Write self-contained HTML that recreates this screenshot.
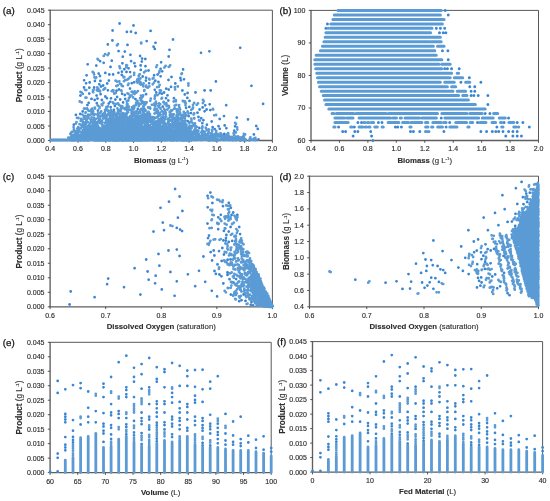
<!DOCTYPE html>
<html><head><meta charset="utf-8"><title>Scatter plots</title>
<style>
html,body{margin:0;padding:0;background:#fff}
svg{display:block}
text{font-family:"Liberation Sans",sans-serif;fill:#2b2b2b}
.t{font-size:7px;stroke:#333;stroke-width:0.15px}
.l{font-size:7.8px;stroke:#333;stroke-width:0.12px}
.ly{font-size:8.2px}
.g{font-size:9.8px;fill:#111;stroke:#111;stroke-width:0.25px}
</style></head><body>
<svg width="550" height="501" viewBox="0 0 550 501">
<rect width="550" height="501" fill="#fff"/>
<path d="M49.50 10.20H272.40V140.50" fill="none" stroke="#454545" stroke-width="0.9"/>
<path d="M50.20 9.80V140.50H272.70" fill="none" stroke="#5e5e5e" stroke-width="1.35" stroke-linejoin="miter"/>
<path d="M50.20 140.50v2.3M77.98 140.50v2.3M105.75 140.50v2.3M133.52 140.50v2.3M161.30 140.50v2.3M189.07 140.50v2.3M216.85 140.50v2.3M244.63 140.50v2.3M272.40 140.50v2.3M50.20 140.50h-2.3M50.20 126.02h-2.3M50.20 111.54h-2.3M50.20 97.07h-2.3M50.20 82.59h-2.3M50.20 68.11h-2.3M50.20 53.63h-2.3M50.20 39.16h-2.3M50.20 24.68h-2.3M50.20 10.20h-2.3" stroke="#454545" stroke-width="0.9" fill="none"/>
<text x="50.20" y="151.40" text-anchor="middle" class="t">0.4</text>
<text x="77.98" y="151.40" text-anchor="middle" class="t">0.6</text>
<text x="105.75" y="151.40" text-anchor="middle" class="t">0.8</text>
<text x="133.52" y="151.40" text-anchor="middle" class="t">1.0</text>
<text x="161.30" y="151.40" text-anchor="middle" class="t">1.2</text>
<text x="189.07" y="151.40" text-anchor="middle" class="t">1.4</text>
<text x="216.85" y="151.40" text-anchor="middle" class="t">1.6</text>
<text x="244.63" y="151.40" text-anchor="middle" class="t">1.8</text>
<text x="272.40" y="151.40" text-anchor="middle" class="t">2.0</text>
<text x="44.60" y="143.00" text-anchor="end" class="t">0.000</text>
<text x="44.60" y="128.52" text-anchor="end" class="t">0.005</text>
<text x="44.60" y="114.04" text-anchor="end" class="t">0.010</text>
<text x="44.60" y="99.57" text-anchor="end" class="t">0.015</text>
<text x="44.60" y="85.09" text-anchor="end" class="t">0.020</text>
<text x="44.60" y="70.61" text-anchor="end" class="t">0.025</text>
<text x="44.60" y="56.13" text-anchor="end" class="t">0.030</text>
<text x="44.60" y="41.66" text-anchor="end" class="t">0.035</text>
<text x="44.60" y="27.18" text-anchor="end" class="t">0.040</text>
<text x="44.60" y="12.70" text-anchor="end" class="t">0.045</text>
<text x="161.30" y="162.80" text-anchor="middle" class="l"><tspan font-weight="bold">Biomass</tspan> (g L<tspan dy="-2.4" font-size="4.4">-1</tspan><tspan dy="2.4">)</tspan></text>
<text transform="translate(21.70 75.35) rotate(-90)" text-anchor="middle" class="l ly"><tspan font-weight="bold">Product</tspan> (g L<tspan dy="-2.4" font-size="4.4">-1</tspan><tspan dy="2.4">)</tspan></text>
<text x="2.80" y="13.60" class="g">(a)</text>
<path d="M310.30 10.40H538.50V140.50" fill="none" stroke="#454545" stroke-width="0.9"/>
<path d="M311.00 10.00V140.50H538.80" fill="none" stroke="#5e5e5e" stroke-width="1.35" stroke-linejoin="miter"/>
<path d="M311.00 140.50v2.3M339.44 140.50v2.3M367.88 140.50v2.3M396.31 140.50v2.3M424.75 140.50v2.3M453.19 140.50v2.3M481.62 140.50v2.3M510.06 140.50v2.3M538.50 140.50v2.3M311.00 140.50h-2.3M311.00 107.97h-2.3M311.00 75.45h-2.3M311.00 42.93h-2.3M311.00 10.40h-2.3" stroke="#454545" stroke-width="0.9" fill="none"/>
<text x="311.00" y="151.40" text-anchor="middle" class="t">0.4</text>
<text x="339.44" y="151.40" text-anchor="middle" class="t">0.6</text>
<text x="367.88" y="151.40" text-anchor="middle" class="t">0.8</text>
<text x="396.31" y="151.40" text-anchor="middle" class="t">1.0</text>
<text x="424.75" y="151.40" text-anchor="middle" class="t">1.2</text>
<text x="453.19" y="151.40" text-anchor="middle" class="t">1.4</text>
<text x="481.62" y="151.40" text-anchor="middle" class="t">1.6</text>
<text x="510.06" y="151.40" text-anchor="middle" class="t">1.8</text>
<text x="538.50" y="151.40" text-anchor="middle" class="t">2.0</text>
<text x="305.40" y="143.00" text-anchor="end" class="t">60</text>
<text x="305.40" y="110.47" text-anchor="end" class="t">70</text>
<text x="305.40" y="77.95" text-anchor="end" class="t">80</text>
<text x="305.40" y="45.43" text-anchor="end" class="t">90</text>
<text x="305.40" y="12.90" text-anchor="end" class="t">100</text>
<text x="424.75" y="162.80" text-anchor="middle" class="l"><tspan font-weight="bold">Biomass</tspan> (g L<tspan dy="-2.4" font-size="4.4">-1</tspan><tspan dy="2.4">)</tspan></text>
<text transform="translate(288.30 75.45) rotate(-90)" text-anchor="middle" class="l ly"><tspan font-weight="bold">Volume</tspan> (L)</text>
<text x="279.60" y="13.80" class="g">(b)</text>
<path d="M49.40 176.20H272.40V306.80" fill="none" stroke="#454545" stroke-width="0.9"/>
<path d="M50.10 175.80V306.80H272.70" fill="none" stroke="#5e5e5e" stroke-width="1.35" stroke-linejoin="miter"/>
<path d="M50.10 306.80v2.3M105.67 306.80v2.3M161.25 306.80v2.3M216.83 306.80v2.3M272.40 306.80v2.3M50.10 306.80h-2.3M50.10 292.29h-2.3M50.10 277.78h-2.3M50.10 263.27h-2.3M50.10 248.76h-2.3M50.10 234.24h-2.3M50.10 219.73h-2.3M50.10 205.22h-2.3M50.10 190.71h-2.3M50.10 176.20h-2.3" stroke="#454545" stroke-width="0.9" fill="none"/>
<text x="50.10" y="317.70" text-anchor="middle" class="t">0.6</text>
<text x="105.67" y="317.70" text-anchor="middle" class="t">0.7</text>
<text x="161.25" y="317.70" text-anchor="middle" class="t">0.8</text>
<text x="216.83" y="317.70" text-anchor="middle" class="t">0.9</text>
<text x="272.40" y="317.70" text-anchor="middle" class="t">1.0</text>
<text x="44.50" y="309.30" text-anchor="end" class="t">0.000</text>
<text x="44.50" y="294.79" text-anchor="end" class="t">0.005</text>
<text x="44.50" y="280.28" text-anchor="end" class="t">0.010</text>
<text x="44.50" y="265.77" text-anchor="end" class="t">0.015</text>
<text x="44.50" y="251.26" text-anchor="end" class="t">0.020</text>
<text x="44.50" y="236.74" text-anchor="end" class="t">0.025</text>
<text x="44.50" y="222.23" text-anchor="end" class="t">0.030</text>
<text x="44.50" y="207.72" text-anchor="end" class="t">0.035</text>
<text x="44.50" y="193.21" text-anchor="end" class="t">0.040</text>
<text x="44.50" y="178.70" text-anchor="end" class="t">0.045</text>
<text x="161.25" y="329.10" text-anchor="middle" class="l"><tspan font-weight="bold">Dissolved Oxygen</tspan> (saturation)</text>
<text transform="translate(21.70 241.50) rotate(-90)" text-anchor="middle" class="l ly"><tspan font-weight="bold">Product</tspan> (g L<tspan dy="-2.4" font-size="4.4">-1</tspan><tspan dy="2.4">)</tspan></text>
<text x="2.80" y="179.60" class="g">(c)</text>
<path d="M308.80 176.20H538.50V306.80" fill="none" stroke="#454545" stroke-width="0.9"/>
<path d="M309.50 175.80V306.80H538.80" fill="none" stroke="#5e5e5e" stroke-width="1.35" stroke-linejoin="miter"/>
<path d="M309.50 306.80v2.3M366.75 306.80v2.3M424.00 306.80v2.3M481.25 306.80v2.3M538.50 306.80v2.3M309.50 306.80h-2.3M309.50 290.48h-2.3M309.50 274.15h-2.3M309.50 257.82h-2.3M309.50 241.50h-2.3M309.50 225.18h-2.3M309.50 208.85h-2.3M309.50 192.52h-2.3M309.50 176.20h-2.3" stroke="#454545" stroke-width="0.9" fill="none"/>
<text x="309.50" y="317.70" text-anchor="middle" class="t">0.6</text>
<text x="366.75" y="317.70" text-anchor="middle" class="t">0.7</text>
<text x="424.00" y="317.70" text-anchor="middle" class="t">0.8</text>
<text x="481.25" y="317.70" text-anchor="middle" class="t">0.9</text>
<text x="538.50" y="317.70" text-anchor="middle" class="t">1.0</text>
<text x="303.90" y="309.30" text-anchor="end" class="t">0.4</text>
<text x="303.90" y="292.98" text-anchor="end" class="t">0.6</text>
<text x="303.90" y="276.65" text-anchor="end" class="t">0.8</text>
<text x="303.90" y="260.32" text-anchor="end" class="t">1.0</text>
<text x="303.90" y="244.00" text-anchor="end" class="t">1.2</text>
<text x="303.90" y="227.68" text-anchor="end" class="t">1.4</text>
<text x="303.90" y="211.35" text-anchor="end" class="t">1.6</text>
<text x="303.90" y="195.02" text-anchor="end" class="t">1.8</text>
<text x="303.90" y="178.70" text-anchor="end" class="t">2.0</text>
<text x="424.00" y="329.10" text-anchor="middle" class="l"><tspan font-weight="bold">Dissolved Oxygen</tspan> (saturation)</text>
<text transform="translate(288.90 241.50) rotate(-90)" text-anchor="middle" class="l ly"><tspan font-weight="bold">Biomass</tspan> (g L<tspan dy="-2.4" font-size="4.4">-1</tspan><tspan dy="2.4">)</tspan></text>
<text x="279.60" y="179.60" class="g">(d)</text>
<path d="M49.40 342.30H271.20V472.60" fill="none" stroke="#454545" stroke-width="0.9"/>
<path d="M50.10 341.90V472.60H271.50" fill="none" stroke="#5e5e5e" stroke-width="1.35" stroke-linejoin="miter"/>
<path d="M50.10 472.60v2.3M77.74 472.60v2.3M105.38 472.60v2.3M133.01 472.60v2.3M160.65 472.60v2.3M188.29 472.60v2.3M215.92 472.60v2.3M243.56 472.60v2.3M271.20 472.60v2.3M50.10 472.60h-2.3M50.10 458.12h-2.3M50.10 443.64h-2.3M50.10 429.17h-2.3M50.10 414.69h-2.3M50.10 400.21h-2.3M50.10 385.73h-2.3M50.10 371.26h-2.3M50.10 356.78h-2.3M50.10 342.30h-2.3" stroke="#454545" stroke-width="0.9" fill="none"/>
<text x="50.10" y="483.50" text-anchor="middle" class="t">60</text>
<text x="77.74" y="483.50" text-anchor="middle" class="t">65</text>
<text x="105.38" y="483.50" text-anchor="middle" class="t">70</text>
<text x="133.01" y="483.50" text-anchor="middle" class="t">75</text>
<text x="160.65" y="483.50" text-anchor="middle" class="t">80</text>
<text x="188.29" y="483.50" text-anchor="middle" class="t">85</text>
<text x="215.92" y="483.50" text-anchor="middle" class="t">90</text>
<text x="243.56" y="483.50" text-anchor="middle" class="t">95</text>
<text x="271.20" y="483.50" text-anchor="middle" class="t">100</text>
<text x="44.50" y="475.10" text-anchor="end" class="t">0.000</text>
<text x="44.50" y="460.62" text-anchor="end" class="t">0.005</text>
<text x="44.50" y="446.14" text-anchor="end" class="t">0.010</text>
<text x="44.50" y="431.67" text-anchor="end" class="t">0.015</text>
<text x="44.50" y="417.19" text-anchor="end" class="t">0.020</text>
<text x="44.50" y="402.71" text-anchor="end" class="t">0.025</text>
<text x="44.50" y="388.23" text-anchor="end" class="t">0.030</text>
<text x="44.50" y="373.76" text-anchor="end" class="t">0.035</text>
<text x="44.50" y="359.28" text-anchor="end" class="t">0.040</text>
<text x="44.50" y="344.80" text-anchor="end" class="t">0.045</text>
<text x="160.65" y="494.90" text-anchor="middle" class="l"><tspan font-weight="bold">Volume</tspan> (L)</text>
<text transform="translate(21.70 407.45) rotate(-90)" text-anchor="middle" class="l ly"><tspan font-weight="bold">Product</tspan> (g L<tspan dy="-2.4" font-size="4.4">-1</tspan><tspan dy="2.4">)</tspan></text>
<text x="2.80" y="345.70" class="g">(e)</text>
<path d="M311.80 341.60H542.60V472.10" fill="none" stroke="#454545" stroke-width="0.9"/>
<path d="M312.50 341.20V472.10H542.90" fill="none" stroke="#5e5e5e" stroke-width="1.35" stroke-linejoin="miter"/>
<path d="M312.50 472.10v2.3M370.02 472.10v2.3M427.55 472.10v2.3M485.08 472.10v2.3M542.60 472.10v2.3M312.50 472.10h-2.3M312.50 457.60h-2.3M312.50 443.10h-2.3M312.50 428.60h-2.3M312.50 414.10h-2.3M312.50 399.60h-2.3M312.50 385.10h-2.3M312.50 370.60h-2.3M312.50 356.10h-2.3M312.50 341.60h-2.3" stroke="#454545" stroke-width="0.9" fill="none"/>
<text x="312.50" y="483.00" text-anchor="middle" class="t">0</text>
<text x="370.02" y="483.00" text-anchor="middle" class="t">10</text>
<text x="427.55" y="483.00" text-anchor="middle" class="t">20</text>
<text x="485.08" y="483.00" text-anchor="middle" class="t">30</text>
<text x="542.60" y="483.00" text-anchor="middle" class="t">40</text>
<text x="306.90" y="474.60" text-anchor="end" class="t">0.000</text>
<text x="306.90" y="460.10" text-anchor="end" class="t">0.005</text>
<text x="306.90" y="445.60" text-anchor="end" class="t">0.010</text>
<text x="306.90" y="431.10" text-anchor="end" class="t">0.015</text>
<text x="306.90" y="416.60" text-anchor="end" class="t">0.020</text>
<text x="306.90" y="402.10" text-anchor="end" class="t">0.025</text>
<text x="306.90" y="387.60" text-anchor="end" class="t">0.030</text>
<text x="306.90" y="373.10" text-anchor="end" class="t">0.035</text>
<text x="306.90" y="358.60" text-anchor="end" class="t">0.040</text>
<text x="306.90" y="344.10" text-anchor="end" class="t">0.045</text>
<text x="427.55" y="494.40" text-anchor="middle" class="l"><tspan font-weight="bold">Fed Material</tspan> (L)</text>
<text transform="translate(284.70 406.85) rotate(-90)" text-anchor="middle" class="l ly"><tspan font-weight="bold">Product</tspan> (g L<tspan dy="-2.4" font-size="4.4">-1</tspan><tspan dy="2.4">)</tspan></text>
<text x="277.00" y="345.00" class="g">(f)</text>
<path d="M338.0 10.4H441.2M334.3 14.9H440.4M332.9 19.4H444.1M330.8 23.9H442.4M330.6 28.3H432.0M325.9 32.8H430.6M325.1 37.3H440.4M323.9 41.8H429.2M430.6 41.8H441.2M322.4 46.3H433.4M437.5 46.3H444.1M320.4 50.8H434.8M316.1 55.3H436.3M314.8 59.7H441.8M314.8 64.2H439.0M441.8 64.2H450.2M315.6 68.7H441.8M316.7 73.2H451.6M317.5 77.7H450.2M454.3 77.7H462.7M318.4 82.2H440.4M444.7 82.2H454.3M465.6 82.2H469.8M319.5 86.7H447.4M451.6 86.7H455.7M321.2 91.2H445.9M447.4 91.2H453.0M457.2 91.2H465.6M323.2 95.6H458.6M462.7 95.6H467.0M324.5 100.1H468.4M325.9 104.6H475.4M328.8 109.1H485.2M332.0 113.6H333.8M336.3 113.6H353.7M355.9 113.6H386.4M388.5 113.6H437.5M441.8 113.6H467.0M469.8 113.6H482.3M493.6 113.6H497.7" stroke="#5b9bd5" stroke-width="3.0" stroke-linecap="round" fill="none"/>
<path d="M65.3 472.6V460.1M73.0 472.6V457.3M80.6 472.6V437.7M88.2 472.6V436.3M95.8 472.6V433.5M103.5 472.6V447.5M111.1 472.6V446.1M118.7 472.6V439.1M126.3 472.6V436.3M134.0 472.6V441.9M141.6 472.6V446.1M149.2 472.6V446.1M156.8 472.6V443.3M164.5 472.6V440.5M172.1 472.6V441.9M179.7 472.6V440.5M187.3 472.6V436.3M195.0 472.6V444.7M202.6 472.6V447.5M210.2 472.6V447.5M217.8 472.6V447.5M225.5 472.6V448.9M233.1 472.6V450.3M240.7 472.6V450.3M248.3 472.6V450.3M256.0 472.6V451.7M263.6 472.6V453.1M271.2 472.6V455.9" stroke="#5b9bd5" stroke-width="2.8" stroke-linecap="round" fill="none"/>
<path d="M328.4 472.1V459.5M336.3 472.1V456.7M344.2 472.1V437.1M352.2 472.1V435.7M360.1 472.1V432.9M368.0 472.1V446.9M376.0 472.1V445.5M383.9 472.1V438.5M391.8 472.1V435.7M399.8 472.1V441.3M407.7 472.1V445.5M415.6 472.1V445.5M423.6 472.1V442.7M431.5 472.1V439.9M439.5 472.1V441.3M447.4 472.1V439.9M455.3 472.1V435.7M463.3 472.1V444.1M471.2 472.1V446.9M479.1 472.1V446.9M487.1 472.1V446.9M495.0 472.1V448.3M502.9 472.1V449.7M510.9 472.1V449.7M518.8 472.1V449.7M526.7 472.1V451.1M534.7 472.1V452.5M542.6 472.1V455.3" stroke="#5b9bd5" stroke-width="2.8" stroke-linecap="round" fill="none"/>
<path d="M50.9 140.2h0M51.3 140.2h0M51.8 140.2h0M52.2 140.2h0M52.7 140.2h0M53.1 140.2h0M53.6 140.2h0M54.0 140.2h0M54.5 140.2h0M54.9 140.2h0M55.3 140.2h0M55.8 140.2h0M56.2 140.2h0M56.7 140.2h0M57.1 140.2h0M57.6 140.2h0M58.0 140.2h0M58.5 140.2h0M58.9 140.2h0M59.4 140.2h0M59.8 140.2h0M60.2 140.2h0M60.7 140.2h0M61.1 140.2h0M61.6 140.2h0M62.0 140.2h0M62.5 140.2h0M62.9 140.2h0M63.4 140.2h0M63.8 140.2h0M64.2 140.2h0M64.7 140.2h0M65.1 140.2h0M65.6 140.2h0M66.0 140.2h0M66.5 140.2h0M66.9 140.2h0M67.4 140.2h0M67.8 140.2h0M68.3 140.2h0M83.6 122.3h0M178.5 136.4h0M173.6 132.9h0M142.0 132.4h0M96.0 136.8h0M110.3 123.6h0M149.9 140.2h0M127.3 118.2h0M126.6 137.9h0M185.9 137.4h0M125.9 134.2h0M153.9 123.1h0M124.4 126.6h0M115.7 128.6h0M146.1 138.8h0M159.1 125.6h0M92.9 139.8h0M91.4 128.0h0M105.4 135.0h0M97.9 135.2h0M74.7 139.8h0M143.6 138.9h0M105.1 134.5h0M166.7 133.1h0M112.5 136.1h0M86.3 138.7h0M115.9 135.7h0M130.7 128.1h0M161.8 111.2h0M147.8 124.6h0M102.5 133.6h0M143.3 140.2h0M155.3 133.1h0M153.0 133.2h0M88.2 132.2h0M167.0 139.4h0M121.9 124.2h0M100.0 133.6h0M141.9 123.9h0M138.3 136.3h0M188.6 134.6h0M83.0 132.3h0M105.5 117.7h0M99.1 134.2h0M133.9 120.7h0M148.4 139.9h0M102.7 129.4h0M179.4 130.3h0M139.6 139.9h0M152.0 119.4h0M188.9 127.3h0M163.9 139.4h0M81.3 138.1h0M144.0 134.3h0M151.1 138.5h0M141.9 134.7h0M120.3 117.6h0M117.7 127.7h0M160.6 76.3h0M128.7 139.3h0M141.7 132.9h0M97.7 138.2h0M187.5 136.7h0M125.6 138.2h0M147.1 139.1h0M110.5 139.0h0M174.2 138.8h0M137.8 136.2h0M122.9 135.5h0M152.2 132.1h0M174.8 132.6h0M112.1 127.4h0M161.2 134.2h0M146.2 124.9h0M155.9 101.6h0M157.0 140.3h0M83.8 140.4h0M122.3 135.6h0M176.4 134.3h0M71.6 132.1h0M150.2 131.0h0M125.9 108.4h0M138.2 138.2h0M184.0 139.2h0M165.6 128.8h0M189.3 106.9h0M154.8 124.0h0M186.4 135.4h0M151.5 123.6h0M102.4 140.4h0M140.1 140.1h0M128.8 135.7h0M103.2 140.2h0M102.8 137.9h0M163.6 135.9h0M140.5 139.7h0M76.9 139.0h0M121.4 139.2h0M83.0 124.9h0M115.8 119.7h0M172.9 140.0h0M122.5 136.3h0M77.4 135.2h0M158.7 120.4h0M168.9 133.4h0M131.6 137.8h0M115.4 127.5h0M148.3 134.2h0M177.2 134.2h0M176.3 137.5h0M106.0 139.0h0M150.9 134.5h0M88.6 137.0h0M119.6 137.3h0M190.1 135.9h0M136.3 135.0h0M168.9 139.6h0M191.4 135.3h0M162.5 126.6h0M77.6 134.4h0M133.4 138.7h0M139.6 122.9h0M108.0 135.6h0M150.3 133.3h0M148.9 135.9h0M177.1 138.6h0M158.7 133.5h0M166.1 135.1h0M125.3 140.2h0M90.4 122.7h0M102.9 139.3h0M111.7 129.2h0M120.8 136.7h0M109.6 133.2h0M156.5 128.8h0M138.4 138.7h0M117.1 81.7h0M126.7 113.0h0M137.5 139.1h0M123.3 134.9h0M109.2 137.8h0M150.2 138.8h0M103.2 136.2h0M92.5 138.5h0M88.4 117.9h0M81.0 139.7h0M99.8 139.2h0M143.3 131.4h0M145.9 110.6h0M149.6 138.4h0M184.4 138.4h0M103.5 138.3h0M135.6 121.8h0M123.4 134.9h0M142.5 134.6h0M159.6 125.1h0M112.5 136.1h0M151.7 132.8h0M158.9 103.3h0M83.0 139.0h0M140.8 138.0h0M132.7 128.6h0M113.2 116.2h0M123.4 132.4h0M111.5 132.9h0M165.6 127.1h0M135.8 140.4h0M80.5 136.6h0M81.4 139.7h0M147.1 134.9h0M102.8 139.8h0M133.2 139.7h0M109.0 140.1h0M163.8 138.3h0M108.6 138.8h0M90.7 136.8h0M98.8 135.1h0M176.7 137.9h0M186.1 139.7h0M87.2 140.4h0M169.9 136.8h0M74.3 139.0h0M173.7 101.5h0M149.0 129.9h0M77.0 131.7h0M140.2 112.9h0M165.4 133.8h0M146.2 130.3h0M138.8 140.1h0M127.7 126.2h0M135.2 131.1h0M141.5 139.4h0M124.8 95.0h0M152.2 126.8h0M95.4 131.5h0M157.9 134.2h0M111.1 139.2h0M90.0 135.8h0M142.5 136.8h0M190.5 134.1h0M164.1 136.3h0M167.0 130.5h0M185.6 127.0h0M113.0 140.2h0M124.9 136.3h0M132.6 132.5h0M136.3 134.7h0M112.1 136.4h0M104.2 129.7h0M91.6 131.6h0M98.6 139.5h0M159.2 139.4h0M182.9 137.8h0M143.9 138.1h0M168.8 130.9h0M172.1 119.4h0M164.8 139.7h0M134.8 135.2h0M120.6 131.9h0M113.9 109.8h0M140.3 138.5h0M150.0 114.5h0M141.8 126.1h0M76.0 139.8h0M121.4 138.5h0M121.7 126.5h0M85.4 136.8h0M165.0 134.9h0M183.5 133.9h0M154.6 135.0h0M190.1 137.2h0M155.1 138.5h0M90.1 127.3h0M115.3 124.8h0M156.1 134.6h0M158.4 138.4h0M126.7 136.9h0M151.3 122.6h0M174.9 138.4h0M142.7 115.9h0M109.0 137.1h0M185.1 137.5h0M84.2 140.0h0M147.5 118.8h0M128.8 138.6h0M86.3 139.8h0M117.8 138.4h0M78.4 134.4h0M87.2 134.6h0M155.6 123.9h0M113.8 140.1h0M104.5 131.0h0M138.9 121.5h0M152.3 139.7h0M135.3 128.4h0M131.0 138.5h0M146.3 117.0h0M121.7 139.4h0M171.9 125.6h0M134.7 137.3h0M116.0 140.4h0M162.7 139.6h0M91.2 138.6h0M103.8 140.3h0M184.6 133.2h0M141.5 135.5h0M137.2 125.7h0M155.4 132.3h0M112.0 138.8h0M119.4 125.0h0M105.3 136.1h0M139.3 122.3h0M177.4 127.4h0M85.1 138.8h0M72.3 140.0h0M159.2 133.2h0M116.0 127.4h0M134.9 125.1h0M173.1 124.5h0M143.7 105.4h0M161.2 122.0h0M182.1 137.8h0M179.5 137.6h0M136.3 131.8h0M87.8 135.7h0M146.0 133.8h0M128.0 140.1h0M95.6 126.1h0M103.9 133.5h0M135.7 139.1h0M102.7 139.9h0M118.2 131.3h0M96.7 134.9h0M128.1 112.3h0M127.7 140.3h0M159.8 139.0h0M134.0 130.2h0M147.8 137.7h0M178.4 134.5h0M144.3 129.5h0M175.3 139.3h0M124.2 139.9h0M97.8 137.8h0M151.8 130.6h0M123.1 128.9h0M119.4 139.1h0M163.0 135.7h0M140.2 133.4h0M136.1 136.7h0M106.6 140.2h0M141.6 124.4h0M176.1 133.3h0M149.0 139.2h0M116.7 120.4h0M175.4 128.7h0M136.3 139.8h0M153.4 136.9h0M100.8 131.6h0M108.9 132.2h0M106.4 140.0h0M166.1 135.7h0M149.8 125.5h0M121.6 140.3h0M145.2 139.4h0M113.9 122.7h0M120.9 135.4h0M148.6 136.9h0M86.3 137.3h0M180.8 137.3h0M150.1 136.7h0M133.3 127.5h0M184.3 132.3h0M164.1 113.6h0M128.9 98.1h0M118.5 131.9h0M115.0 121.2h0M145.5 135.4h0M113.3 137.8h0M100.6 140.4h0M189.0 127.5h0M125.1 140.3h0M140.8 127.0h0M154.5 122.2h0M156.8 130.9h0M147.5 135.4h0M148.2 132.1h0M108.1 131.1h0M99.3 128.8h0M108.4 127.0h0M165.2 119.3h0M146.5 115.7h0M109.0 129.4h0M102.3 104.4h0M76.9 139.8h0M138.6 137.3h0M151.5 139.6h0M89.0 139.5h0M177.4 133.0h0M115.3 122.5h0M187.2 138.1h0M189.2 123.0h0M149.9 135.9h0M109.9 138.3h0M144.9 124.9h0M111.6 134.3h0M83.8 129.3h0M185.9 128.6h0M172.2 139.1h0M145.0 140.0h0M79.3 136.5h0M102.3 139.1h0M149.0 135.6h0M121.8 138.6h0M100.0 134.9h0M175.5 137.0h0M90.6 130.6h0M152.8 124.5h0M175.8 139.8h0M110.2 140.0h0M181.9 137.5h0M165.0 139.7h0M175.2 138.5h0M151.3 132.0h0M125.4 138.1h0M114.2 113.1h0M119.3 139.1h0M163.6 135.4h0M133.4 139.1h0M75.8 140.2h0M129.6 135.2h0M115.6 132.3h0M139.7 127.4h0M85.9 134.7h0M83.7 136.2h0M139.9 119.8h0M183.4 136.7h0M136.3 133.5h0M102.3 122.4h0M121.0 128.5h0M111.5 133.9h0M122.9 124.2h0M176.3 137.6h0M165.7 134.5h0M102.2 136.7h0M165.8 135.5h0M186.6 138.5h0M116.8 123.8h0M163.2 136.8h0M113.6 114.9h0M134.7 131.2h0M167.2 131.0h0M178.1 130.0h0M112.8 139.8h0M102.6 139.6h0M145.6 139.6h0M116.2 137.2h0M118.2 140.0h0M168.4 132.9h0M190.4 137.5h0M139.0 139.5h0M122.4 136.7h0M150.0 137.5h0M128.7 135.8h0M91.1 135.0h0M168.0 140.0h0M183.9 129.1h0M120.7 129.6h0M122.3 116.3h0M155.1 139.2h0M133.2 139.8h0M123.4 136.2h0M154.0 136.2h0M119.3 125.7h0M163.1 118.1h0M75.9 139.8h0M137.6 134.0h0M180.1 109.4h0M157.8 133.6h0M81.2 136.8h0M167.4 136.3h0M84.5 136.8h0M165.2 131.5h0M166.1 127.6h0M102.5 126.8h0M184.7 139.1h0M140.9 139.6h0M152.8 137.9h0M167.3 139.1h0M130.6 139.7h0M142.2 138.6h0M107.9 137.4h0M134.8 137.3h0M172.4 138.6h0M137.1 132.9h0M115.1 125.2h0M84.2 140.5h0M171.2 131.1h0M120.7 132.0h0M138.1 138.1h0M92.2 130.8h0M92.7 110.3h0M164.0 122.9h0M142.1 134.1h0M140.0 133.9h0M177.6 125.6h0M187.2 140.0h0M144.1 110.5h0M187.9 132.6h0M119.0 129.0h0M125.3 140.0h0M103.3 134.0h0M128.1 135.9h0M158.0 124.4h0M84.1 136.3h0M160.9 137.1h0M101.1 140.1h0M147.2 132.4h0M79.6 140.2h0M101.6 135.3h0M100.3 112.7h0M189.1 140.3h0M159.4 122.4h0M163.5 137.3h0M112.7 115.7h0M95.6 136.5h0M169.9 138.7h0M136.0 135.0h0M112.0 140.0h0M74.0 137.8h0M95.0 137.4h0M96.6 139.0h0M97.5 140.2h0M147.3 122.7h0M141.7 132.7h0M150.2 135.9h0M168.3 139.6h0M84.4 139.1h0M154.4 137.4h0M134.7 124.1h0M80.7 136.7h0M80.2 136.0h0M166.0 140.1h0M169.2 138.8h0M105.9 138.6h0M119.4 135.3h0M121.7 129.7h0M168.3 136.4h0M115.9 130.3h0M177.2 109.4h0M116.1 128.7h0M107.3 130.5h0M129.0 134.8h0M151.0 127.1h0M146.8 139.9h0M135.0 134.5h0M98.3 132.2h0M135.3 136.4h0M146.6 139.9h0M136.3 135.9h0M92.9 140.2h0M96.2 127.1h0M122.9 140.1h0M92.4 136.6h0M124.4 130.8h0M178.8 114.0h0M191.0 137.8h0M175.4 125.1h0M139.8 135.0h0M164.0 132.9h0M143.1 133.7h0M93.7 124.5h0M157.1 87.2h0M87.7 138.4h0M177.1 134.8h0M150.2 116.3h0M157.7 136.6h0M95.0 108.6h0M100.8 137.7h0M164.9 117.2h0M169.1 107.5h0M154.0 122.1h0M135.9 138.6h0M143.7 137.1h0M107.9 131.0h0M159.3 137.2h0M133.4 132.8h0M117.7 128.2h0M137.4 131.2h0M188.7 139.7h0M149.7 129.0h0M141.8 135.2h0M187.7 136.1h0M78.2 139.5h0M118.6 128.7h0M131.4 138.2h0M123.5 127.8h0M183.6 139.6h0M137.6 129.4h0M141.0 138.4h0M184.2 138.2h0M121.4 126.9h0M91.0 135.9h0M170.0 134.2h0M95.9 135.5h0M188.6 136.5h0M140.6 125.3h0M122.7 133.0h0M83.2 138.7h0M121.5 118.4h0M92.6 135.2h0M125.0 134.9h0M122.6 136.6h0M172.9 138.2h0M78.1 139.8h0M98.4 139.1h0M121.8 137.3h0M148.5 118.1h0M146.4 127.4h0M112.6 113.5h0M138.0 119.5h0M115.8 136.8h0M144.9 135.4h0M125.7 127.2h0M105.7 138.2h0M128.4 93.7h0M142.5 139.7h0M119.9 137.8h0M111.6 137.2h0M140.4 133.5h0M182.2 131.8h0M86.4 133.5h0M125.2 138.9h0M151.7 140.0h0M143.5 102.1h0M173.0 137.3h0M121.3 90.5h0M83.2 132.4h0M166.1 128.2h0M94.9 133.2h0M98.3 133.7h0M169.7 136.4h0M106.8 135.6h0M181.8 139.2h0M101.7 104.3h0M89.3 140.1h0M159.8 90.5h0M89.8 128.8h0M160.5 136.4h0M110.0 135.8h0M158.5 136.9h0M85.4 137.5h0M113.7 128.8h0M97.0 140.1h0M137.9 133.4h0M119.4 134.9h0M115.1 133.2h0M125.5 107.9h0M84.1 131.9h0M160.7 129.7h0M118.1 103.4h0M88.3 130.1h0M179.4 128.4h0M135.5 139.6h0M145.9 135.8h0M110.9 115.0h0M128.2 137.5h0M104.4 115.2h0M113.7 138.1h0M185.6 133.8h0M143.5 139.2h0M134.6 138.3h0M126.9 135.7h0M127.3 138.4h0M73.2 138.5h0M161.1 118.6h0M102.4 128.4h0M133.2 137.6h0M94.8 134.4h0M122.6 135.7h0M129.7 126.0h0M89.7 137.1h0M155.9 124.0h0M96.9 132.5h0M111.4 135.6h0M141.1 138.8h0M101.8 124.6h0M99.0 121.1h0M169.4 138.2h0M101.1 137.7h0M103.3 118.6h0M108.7 103.6h0M128.3 137.8h0M130.0 129.1h0M97.5 138.7h0M86.8 140.1h0M123.8 118.6h0M78.1 134.3h0M189.6 138.5h0M153.6 132.3h0M164.3 134.9h0M132.0 129.4h0M172.9 139.1h0M165.8 129.2h0M89.0 138.4h0M181.0 135.6h0M98.2 140.4h0M108.9 128.3h0M117.9 138.8h0M182.1 134.7h0M186.9 134.5h0M121.7 127.4h0M98.8 133.7h0M124.3 140.0h0M105.9 127.3h0M174.7 129.7h0M76.8 138.6h0M78.2 139.8h0M95.4 140.4h0M164.5 137.9h0M107.6 140.1h0M103.1 139.3h0M171.4 140.0h0M143.2 117.8h0M105.0 113.3h0M145.6 136.8h0M112.4 136.1h0M164.3 139.6h0M133.9 126.0h0M137.8 138.7h0M147.4 113.1h0M120.0 139.2h0M148.3 119.5h0M187.6 135.0h0M176.9 124.2h0M110.7 132.5h0M114.0 130.1h0M137.4 127.8h0M130.9 126.2h0M108.3 133.8h0M137.4 132.0h0M136.0 138.2h0M188.3 138.2h0M96.9 139.7h0M170.7 135.2h0M101.5 140.0h0M102.9 131.2h0M89.0 139.6h0M129.4 138.6h0M166.8 135.8h0M102.6 131.2h0M154.0 137.4h0M85.9 133.6h0M90.5 137.2h0M77.8 138.3h0M140.5 130.3h0M172.4 135.2h0M126.9 104.4h0M143.0 129.1h0M174.1 140.1h0M94.1 137.3h0M87.8 122.2h0M76.1 135.9h0M93.2 136.7h0M170.1 119.8h0M118.1 110.6h0M124.2 139.2h0M128.3 132.6h0M172.8 125.7h0M97.5 136.4h0M90.4 139.8h0M163.7 139.8h0M153.2 133.8h0M157.8 116.8h0M81.1 138.9h0M160.2 135.3h0M103.9 134.2h0M116.7 133.4h0M122.9 136.1h0M140.8 137.5h0M138.8 129.7h0M129.2 137.3h0M187.5 138.7h0M128.1 139.7h0M110.0 140.0h0M132.9 137.5h0M112.1 131.3h0M146.3 122.1h0M122.3 118.1h0M147.7 132.6h0M150.1 132.3h0M129.9 124.9h0M110.8 131.9h0M132.1 136.5h0M84.2 137.4h0M106.2 137.4h0M99.5 131.8h0M134.4 133.5h0M145.6 137.6h0M135.8 137.2h0M147.2 139.9h0M138.7 137.3h0M127.6 124.0h0M168.0 123.6h0M138.9 136.2h0M121.6 136.5h0M190.3 138.9h0M165.1 137.5h0M142.5 132.6h0M94.6 134.8h0M78.5 132.1h0M169.7 128.7h0M165.1 133.4h0M124.2 140.4h0M134.2 139.0h0M93.1 89.9h0M130.1 135.0h0M96.3 138.2h0M168.2 138.6h0M76.5 132.8h0M139.1 140.4h0M149.7 132.4h0M182.3 139.7h0M162.9 134.2h0M138.1 129.8h0M132.6 121.5h0M97.0 139.7h0M170.8 133.0h0M106.0 120.9h0M148.5 137.3h0M126.3 133.5h0M87.0 138.7h0M189.4 138.8h0M86.6 116.4h0M71.9 139.8h0M170.9 110.5h0M140.5 133.0h0M151.7 138.4h0M131.6 139.0h0M145.1 137.6h0M181.1 137.2h0M79.0 135.0h0M130.1 140.4h0M104.2 132.3h0M115.7 127.5h0M95.1 137.4h0M184.9 138.5h0M182.2 138.7h0M150.7 139.3h0M140.5 139.3h0M187.7 131.4h0M120.5 139.8h0M145.6 133.4h0M114.5 128.3h0M129.7 129.1h0M174.4 136.5h0M184.1 133.9h0M186.3 132.0h0M160.1 135.3h0M103.3 135.1h0M94.1 140.1h0M112.8 138.3h0M134.9 139.7h0M80.4 131.8h0M181.4 134.3h0M177.1 134.4h0M78.0 129.5h0M142.9 132.4h0M91.6 135.0h0M177.4 134.5h0M93.2 111.7h0M164.7 123.0h0M134.6 135.3h0M155.9 103.6h0M71.2 140.3h0M131.4 134.8h0M106.4 140.2h0M107.1 130.1h0M89.6 131.1h0M102.1 133.6h0M152.4 128.4h0M170.8 137.4h0M163.0 138.6h0M98.4 132.7h0M122.3 127.9h0M190.5 130.4h0M100.7 133.6h0M160.6 133.0h0M95.0 135.4h0M169.5 137.2h0M146.8 129.3h0M122.9 135.2h0M167.5 136.6h0M172.8 129.5h0M133.1 112.5h0M112.4 136.3h0M181.1 140.4h0M157.5 132.7h0M160.8 129.4h0M173.2 115.5h0M130.0 116.7h0M84.2 137.7h0M187.4 138.6h0M166.1 133.7h0M102.1 138.2h0M131.2 137.2h0M144.3 133.3h0M119.9 139.8h0M184.4 138.5h0M69.3 140.2h0M123.1 139.6h0M162.9 117.5h0M87.6 130.1h0M178.9 136.1h0M90.2 139.6h0M102.5 134.9h0M127.9 128.9h0M177.3 129.9h0M117.2 136.9h0M129.1 129.8h0M148.1 107.5h0M153.7 121.8h0M138.3 124.8h0M169.7 136.3h0M156.4 111.9h0M189.2 137.0h0M80.6 135.2h0M93.3 139.6h0M114.8 134.3h0M147.8 136.8h0M102.1 121.1h0M184.0 140.5h0M93.0 137.4h0M156.3 132.9h0M145.0 121.2h0M144.2 140.0h0M134.3 127.7h0M171.5 140.0h0M101.3 120.6h0M170.5 135.7h0M142.4 136.3h0M123.4 128.4h0M86.7 134.8h0M97.8 136.0h0M77.5 136.6h0M132.2 123.6h0M126.8 139.9h0M161.3 132.7h0M120.0 136.5h0M133.8 140.0h0M93.5 139.2h0M116.5 139.0h0M148.4 133.6h0M90.4 133.8h0M158.9 137.1h0M143.7 128.1h0M131.4 132.3h0M158.4 135.8h0M85.4 135.4h0M183.5 133.0h0M83.3 136.6h0M178.3 137.7h0M117.6 123.9h0M134.5 133.4h0M156.6 137.5h0M124.6 140.1h0M92.2 139.3h0M80.2 140.5h0M139.3 138.7h0M143.1 138.4h0M127.3 136.8h0M167.2 139.5h0M178.3 121.7h0M189.8 138.6h0M157.3 123.3h0M186.0 138.9h0M122.2 132.4h0M170.0 135.0h0M178.2 135.7h0M87.1 138.6h0M121.2 126.0h0M150.4 129.9h0M113.9 136.9h0M114.7 125.8h0M136.4 136.7h0M116.2 140.5h0M145.3 135.9h0M102.2 139.2h0M122.1 139.5h0M150.8 126.9h0M143.3 134.7h0M137.5 135.3h0M152.4 128.9h0M143.6 139.7h0M125.0 136.9h0M106.9 98.2h0M119.8 138.7h0M162.8 138.5h0M123.5 138.8h0M125.9 129.3h0M137.0 133.7h0M128.9 139.8h0M113.2 130.9h0M106.7 138.7h0M140.3 131.6h0M152.9 124.1h0M158.4 82.0h0M149.8 139.9h0M146.5 120.4h0M175.0 139.7h0M140.1 134.5h0M178.5 137.2h0M165.1 136.7h0M137.6 134.1h0M116.3 128.2h0M109.7 131.2h0M139.7 135.2h0M182.0 126.8h0M103.7 135.3h0M103.7 138.6h0M155.5 132.6h0M149.0 133.5h0M121.4 137.4h0M137.6 130.5h0M117.5 128.5h0M137.1 139.0h0M171.7 130.4h0M121.1 117.4h0M129.2 125.5h0M123.0 138.1h0M121.0 138.7h0M126.3 119.8h0M190.4 129.7h0M154.5 113.6h0M189.0 139.0h0M159.5 133.2h0M83.7 138.5h0M119.1 136.9h0M138.2 135.7h0M116.9 135.8h0M122.6 136.5h0M164.1 132.4h0M140.2 137.7h0M93.8 131.7h0M113.9 136.6h0M105.6 129.3h0M135.9 136.8h0M174.0 140.1h0M122.9 139.6h0M154.4 129.9h0M88.3 131.8h0M96.4 133.2h0M98.0 132.1h0M133.8 130.7h0M146.8 140.4h0M159.6 135.1h0M124.1 128.3h0M81.8 137.9h0M176.6 115.4h0M149.0 138.6h0M152.2 136.3h0M140.4 134.3h0M171.9 131.7h0M119.5 139.6h0M138.6 136.7h0M166.6 128.7h0M131.5 135.5h0M120.6 139.0h0M155.7 137.2h0M163.2 138.5h0M155.0 138.1h0M180.8 129.3h0M180.8 126.7h0M163.4 136.0h0M112.3 131.5h0M116.6 136.0h0M108.3 134.0h0M110.4 137.7h0M150.5 131.0h0M144.5 102.3h0M112.6 124.0h0M124.9 137.2h0M119.9 133.8h0M156.7 133.2h0M107.1 135.0h0M137.6 139.1h0M119.2 125.4h0M111.9 140.3h0M148.0 122.6h0M130.1 130.3h0M93.6 138.4h0M131.8 139.1h0M186.0 136.5h0M123.8 134.3h0M161.4 123.2h0M74.7 138.2h0M112.5 137.9h0M135.3 121.2h0M98.6 133.7h0M136.8 127.5h0M155.7 129.0h0M86.3 139.5h0M126.6 135.2h0M115.8 133.2h0M191.2 132.3h0M122.6 134.2h0M100.6 138.2h0M177.7 110.1h0M97.7 125.5h0M109.0 132.2h0M108.3 125.7h0M82.1 137.5h0M145.7 118.1h0M158.5 120.3h0M116.9 130.2h0M180.0 137.7h0M116.8 128.9h0M84.2 138.3h0M115.4 139.3h0M156.3 131.8h0M143.0 139.7h0M131.2 115.6h0M116.7 129.6h0M106.3 128.4h0M119.1 128.1h0M137.7 139.8h0M115.7 139.9h0M147.4 125.7h0M123.6 140.4h0M106.4 107.1h0M116.0 114.1h0M91.5 130.2h0M87.6 140.2h0M94.2 131.3h0M139.5 138.0h0M178.9 140.0h0M114.2 140.1h0M105.5 114.8h0M126.7 138.4h0M90.4 133.5h0M150.3 118.4h0M162.7 126.0h0M129.3 135.0h0M107.6 134.8h0M134.4 132.1h0M142.1 135.7h0M146.6 118.8h0M152.4 134.5h0M103.7 140.4h0M160.9 131.7h0M180.9 138.6h0M154.5 137.1h0M118.1 140.5h0M78.6 137.9h0M151.2 122.3h0M71.9 138.6h0M96.9 139.0h0M89.2 137.7h0M159.5 129.8h0M155.6 135.6h0M108.5 113.5h0M96.6 140.1h0M147.4 137.7h0M161.3 136.5h0M130.3 138.4h0M114.1 121.9h0M156.3 131.6h0M164.1 127.4h0M115.7 114.8h0M92.1 127.4h0M143.3 135.7h0M157.7 113.0h0M82.5 114.6h0M124.8 139.3h0M80.2 128.1h0M151.2 129.4h0M79.2 136.8h0M149.2 138.2h0M127.7 108.9h0M144.6 136.9h0M84.2 136.4h0M123.8 140.2h0M141.2 135.9h0M154.6 137.5h0M101.4 139.0h0M150.0 139.8h0M135.3 139.7h0M123.6 118.2h0M124.4 130.9h0M188.6 130.6h0M99.0 129.6h0M140.9 140.4h0M126.7 113.5h0M83.7 135.9h0M123.7 122.2h0M153.7 136.5h0M159.4 133.7h0M99.7 129.8h0M129.6 135.5h0M116.7 122.3h0M177.3 134.6h0M125.2 115.0h0M97.2 135.4h0M163.9 136.8h0M120.7 138.5h0M114.4 132.6h0M155.3 136.9h0M122.9 139.4h0M101.0 135.1h0M148.5 111.8h0M127.5 129.6h0M168.4 118.6h0M164.1 129.4h0M128.0 137.6h0M168.8 138.9h0M110.3 129.8h0M107.7 138.2h0M96.7 131.0h0M180.0 134.0h0M171.2 139.1h0M111.9 128.1h0M131.6 123.4h0M164.9 129.5h0M161.6 135.9h0M150.6 136.5h0M139.3 132.3h0M89.4 131.3h0M105.3 96.5h0M135.5 124.4h0M91.8 139.2h0M133.4 132.2h0M118.4 137.4h0M123.3 133.7h0M74.7 134.4h0M124.0 134.0h0M134.3 138.9h0M89.5 132.1h0M154.4 131.6h0M132.3 139.2h0M145.1 130.2h0M101.0 136.2h0M156.8 140.0h0M150.8 134.5h0M186.2 125.8h0M126.2 137.7h0M118.7 135.5h0M123.8 133.4h0M110.4 135.9h0M157.1 127.6h0M116.7 122.5h0M117.7 127.7h0M117.1 97.0h0M172.4 137.1h0M152.5 128.5h0M156.6 135.1h0M109.8 140.0h0M100.0 138.7h0M172.6 138.9h0M131.7 124.0h0M124.7 138.1h0M168.6 127.5h0M83.1 139.9h0M125.7 134.6h0M139.4 131.4h0M117.3 133.7h0M105.0 131.5h0M120.9 110.6h0M186.3 136.1h0M105.6 127.4h0M185.9 137.2h0M129.7 120.9h0M124.4 108.5h0M154.7 140.5h0M151.6 127.3h0M175.1 128.7h0M94.3 139.5h0M84.9 138.5h0M180.9 134.2h0M131.7 132.9h0M80.7 139.6h0M90.3 137.6h0M115.3 127.2h0M164.2 139.0h0M119.0 113.9h0M153.0 132.1h0M130.8 138.3h0M175.2 138.2h0M100.9 134.8h0M173.8 136.5h0M75.7 139.8h0M173.5 134.1h0M141.2 135.1h0M142.9 110.9h0M90.2 139.0h0M164.2 126.4h0M159.5 119.3h0M128.6 140.4h0M173.9 123.1h0M114.6 136.5h0M85.6 128.6h0M153.4 125.7h0M75.6 139.2h0M124.1 137.1h0M157.1 133.2h0M154.0 135.5h0M151.0 130.5h0M91.2 125.6h0M141.2 137.3h0M168.6 124.6h0M119.3 125.7h0M92.1 139.9h0M118.5 139.4h0M112.5 111.8h0M162.1 138.4h0M86.0 136.2h0M152.0 127.6h0M95.3 131.7h0M80.0 135.6h0M112.0 130.2h0M156.5 135.2h0M166.1 134.5h0M145.7 126.5h0M85.1 139.7h0M123.8 132.0h0M110.1 139.3h0M86.7 136.1h0M79.2 136.3h0M134.4 127.6h0M182.4 138.5h0M116.5 138.8h0M179.1 135.4h0M171.4 115.6h0M113.7 140.2h0M162.9 139.4h0M81.1 132.0h0M151.4 135.7h0M181.1 129.6h0M157.7 140.2h0M190.4 127.7h0M160.7 128.6h0M136.5 138.4h0M119.6 138.3h0M178.3 129.5h0M132.4 135.2h0M179.1 133.3h0M87.7 134.2h0M170.7 139.5h0M112.4 129.3h0M138.5 137.5h0M74.8 136.6h0M136.8 132.8h0M95.3 135.8h0M180.3 132.7h0M148.2 137.1h0M129.3 127.6h0M155.4 139.7h0M110.6 135.1h0M179.2 135.7h0M115.0 129.6h0M142.5 119.5h0M97.0 139.8h0M87.6 135.5h0M137.8 136.6h0M142.7 133.2h0M178.6 137.3h0M146.3 137.2h0M90.7 136.3h0M149.1 134.2h0M159.9 126.4h0M166.3 103.1h0M142.1 134.3h0M85.9 140.1h0M158.5 126.5h0M154.2 138.0h0M150.8 137.7h0M71.7 136.5h0M157.7 136.3h0M179.8 128.8h0M169.1 127.4h0M191.5 137.4h0M87.9 138.3h0M95.9 133.6h0M105.7 138.0h0M153.9 131.7h0M176.3 131.1h0M141.8 131.3h0M89.4 127.4h0M150.9 133.7h0M172.7 130.1h0M191.0 140.2h0M127.6 132.5h0M141.3 131.4h0M82.1 140.0h0M104.8 118.0h0M87.0 138.0h0M116.9 127.2h0M142.3 126.9h0M114.0 135.1h0M83.8 117.2h0M111.2 126.3h0M134.4 113.8h0M110.0 115.0h0M145.0 137.2h0M143.4 131.7h0M142.0 139.7h0M157.1 139.5h0M130.7 135.8h0M119.4 136.1h0M110.6 132.4h0M127.8 122.1h0M129.7 121.6h0M131.4 139.5h0M112.9 134.1h0M112.8 139.8h0M99.7 118.9h0M153.4 125.9h0M107.5 133.5h0M114.0 140.4h0M173.4 140.5h0M159.0 139.6h0M162.1 140.5h0M138.9 134.9h0M114.8 138.3h0M191.6 127.9h0M159.1 122.3h0M165.5 136.1h0M137.7 134.7h0M157.4 140.3h0M87.2 140.3h0M98.5 134.2h0M144.7 138.0h0M158.8 123.1h0M114.3 123.2h0M122.4 133.2h0M141.1 136.2h0M132.6 134.9h0M190.2 138.3h0M77.3 135.1h0M126.1 139.2h0M93.6 134.6h0M105.1 138.2h0M90.9 139.5h0M93.1 136.7h0M155.4 113.2h0M125.9 140.1h0M147.5 140.3h0M101.9 139.2h0M147.2 122.9h0M141.7 136.1h0M134.5 94.0h0M141.7 127.7h0M135.3 119.4h0M134.2 140.5h0M186.0 133.5h0M113.9 123.2h0M143.5 130.6h0M102.2 133.2h0M137.3 127.3h0M86.2 137.7h0M153.2 140.3h0M137.7 118.0h0M130.0 134.1h0M129.0 124.7h0M128.9 118.5h0M95.8 137.3h0M125.6 119.5h0M127.0 104.0h0M91.2 131.2h0M141.4 139.1h0M153.6 134.3h0M118.4 138.1h0M81.8 135.1h0M172.6 139.4h0M168.6 137.6h0M169.7 128.2h0M113.4 132.3h0M172.4 121.9h0M151.5 135.0h0M100.0 118.7h0M159.1 122.8h0M149.8 139.7h0M190.6 137.3h0M127.2 135.2h0M154.8 138.5h0M171.4 136.0h0M156.2 137.0h0M118.5 118.7h0M179.3 124.9h0M84.9 137.3h0M108.4 139.7h0M90.1 137.4h0M146.7 130.3h0M118.9 137.4h0M115.0 136.9h0M120.3 125.8h0M122.6 133.1h0M93.9 130.0h0M127.4 127.9h0M105.7 135.4h0M117.0 136.0h0M143.3 133.1h0M188.8 139.9h0M120.8 136.8h0M123.1 139.1h0M174.0 140.3h0M149.5 136.0h0M135.2 137.9h0M164.5 137.9h0M136.4 133.3h0M149.8 130.8h0M160.1 138.3h0M117.5 137.9h0M179.1 132.4h0M142.4 132.5h0M103.8 130.3h0M78.4 136.9h0M172.8 138.4h0M106.8 138.4h0M154.8 126.1h0M122.6 138.2h0M161.6 129.7h0M124.5 138.7h0M167.2 133.7h0M126.4 135.7h0M142.3 110.3h0M151.0 131.7h0M83.0 130.1h0M147.6 124.9h0M127.1 137.2h0M121.8 134.8h0M182.6 130.4h0M92.0 138.3h0M176.8 129.1h0M111.4 122.6h0M183.8 133.9h0M168.5 137.5h0M182.2 136.2h0M181.4 121.6h0M148.5 139.2h0M109.6 139.9h0M126.3 138.0h0M133.0 125.8h0M82.0 133.5h0M154.9 139.6h0M94.6 139.0h0M149.0 121.9h0M118.2 133.9h0M136.6 138.5h0M132.0 126.4h0M102.3 129.3h0M81.6 136.7h0M162.3 132.4h0M184.1 136.8h0M137.4 138.5h0M110.3 129.4h0M132.0 108.0h0M98.7 136.7h0M130.8 137.4h0M93.1 137.6h0M108.0 137.7h0M113.6 103.4h0M151.8 133.6h0M124.3 131.3h0M104.2 133.5h0M106.2 123.7h0M81.8 134.7h0M94.3 132.2h0M121.8 133.4h0M131.4 128.4h0M178.8 140.2h0M92.8 137.5h0M103.2 139.8h0M164.0 137.1h0M88.7 139.7h0M91.7 136.0h0M149.2 136.7h0M85.5 113.0h0M121.8 132.6h0M126.0 133.4h0M179.3 132.6h0M118.5 131.9h0M191.2 140.5h0M95.8 130.9h0M101.6 129.3h0M121.3 121.3h0M174.0 139.8h0M163.5 111.9h0M114.9 136.0h0M88.3 126.2h0M138.5 137.6h0M169.2 134.3h0M176.1 139.8h0M122.9 140.3h0M173.7 130.9h0M114.4 139.5h0M148.0 137.7h0M93.1 138.9h0M141.8 138.2h0M94.4 138.2h0M158.8 132.9h0M125.6 133.6h0M129.6 134.8h0M123.8 138.4h0M100.8 136.1h0M165.7 130.9h0M88.7 134.4h0M86.6 129.1h0M137.6 123.6h0M120.4 121.3h0M93.8 125.3h0M137.1 134.8h0M174.4 131.3h0M124.0 138.7h0M171.5 129.7h0M135.7 139.9h0M142.9 111.8h0M116.3 114.7h0M143.7 121.3h0M95.4 136.6h0M114.2 140.5h0M120.8 137.3h0M168.7 128.1h0M151.9 136.5h0M118.3 135.4h0M88.6 137.9h0M103.5 140.2h0M103.2 134.5h0M79.1 130.5h0M144.5 122.6h0M126.7 114.1h0M183.6 133.5h0M86.4 137.4h0M121.0 132.5h0M139.1 138.1h0M121.8 137.4h0M160.1 112.9h0M101.3 136.6h0M191.2 140.1h0M128.4 131.8h0M134.2 122.8h0M95.3 133.5h0M159.8 129.7h0M99.5 139.4h0M99.7 137.9h0M130.6 123.2h0M168.8 139.2h0M186.5 125.2h0M158.6 138.5h0M161.5 122.3h0M131.2 122.7h0M149.4 133.8h0M94.0 136.2h0M133.2 137.8h0M129.2 128.4h0M107.7 122.9h0M141.1 135.4h0M104.1 139.3h0M80.8 137.9h0M117.0 136.5h0M82.5 139.1h0M123.3 137.8h0M185.4 138.8h0M119.8 130.3h0M157.7 124.2h0M101.9 131.0h0M86.1 137.3h0M186.2 138.5h0M152.8 119.2h0M95.2 137.9h0M124.2 136.0h0M153.7 137.1h0M135.2 120.4h0M88.9 133.8h0M171.3 126.8h0M182.5 139.1h0M118.9 119.3h0M84.9 138.6h0M105.0 137.4h0M134.4 138.6h0M157.5 138.8h0M112.8 137.9h0M166.2 137.9h0M131.3 138.7h0M99.4 132.4h0M152.2 134.2h0M83.9 138.2h0M189.0 135.5h0M138.4 127.3h0M176.7 128.2h0M127.6 132.8h0M84.7 129.3h0M137.8 139.9h0M88.8 115.4h0M117.2 135.5h0M149.6 136.1h0M140.2 130.4h0M184.1 134.6h0M166.5 104.5h0M115.9 134.9h0M179.3 125.9h0M135.1 138.7h0M125.1 136.9h0M82.0 139.6h0M121.8 125.9h0M159.5 132.1h0M143.5 134.9h0M176.2 134.0h0M93.0 138.4h0M122.9 125.1h0M150.3 133.4h0M127.9 138.4h0M107.5 126.2h0M145.7 137.8h0M79.8 139.8h0M98.0 113.5h0M142.2 137.6h0M81.7 135.8h0M109.9 129.7h0M166.6 139.1h0M121.3 140.4h0M143.4 132.9h0M150.9 128.0h0M119.2 122.1h0M111.1 137.1h0M141.7 129.0h0M92.0 139.4h0M146.7 134.6h0M159.1 135.4h0M157.0 135.8h0M156.1 122.2h0M189.5 139.3h0M177.6 127.7h0M136.4 137.1h0M172.5 130.9h0M175.1 132.0h0M126.9 101.4h0M188.1 140.0h0M90.0 136.6h0M166.9 136.3h0M111.1 117.0h0M108.5 135.5h0M127.4 117.4h0M125.8 135.1h0M88.2 134.2h0M145.2 131.4h0M106.3 133.9h0M105.0 134.7h0M141.5 138.1h0M72.6 139.9h0M115.0 134.5h0M128.5 119.9h0M169.1 136.8h0M126.0 135.5h0M155.1 137.5h0M181.0 136.7h0M173.9 125.2h0M144.7 138.4h0M132.5 133.3h0M114.2 140.3h0M179.3 139.3h0M139.9 137.1h0M94.9 122.9h0M123.6 124.3h0M162.9 135.7h0M167.5 109.5h0M135.7 136.0h0M170.3 131.1h0M176.3 129.7h0M167.6 137.5h0M126.6 137.1h0M114.8 137.5h0M161.6 126.5h0M111.5 125.8h0M125.3 140.3h0M178.9 135.0h0M179.6 112.0h0M69.8 137.9h0M129.1 139.5h0M111.2 126.4h0M174.4 126.6h0M82.2 137.0h0M163.8 139.6h0M184.3 123.5h0M160.2 137.8h0M174.7 131.1h0M108.0 133.6h0M152.0 137.5h0M168.3 132.8h0M120.7 111.6h0M83.2 125.3h0M116.9 130.1h0M172.4 130.4h0M82.2 139.5h0M182.0 134.3h0M83.7 135.6h0M168.9 137.1h0M190.2 139.0h0M114.6 125.6h0M132.1 135.2h0M124.5 134.4h0M75.6 137.7h0M182.8 138.4h0M133.8 132.0h0M148.8 135.3h0M94.5 122.1h0M93.6 138.5h0M149.9 139.3h0M103.8 125.6h0M171.2 132.9h0M135.2 135.2h0M95.8 129.0h0M180.5 137.4h0M156.3 134.7h0M146.3 134.3h0M146.3 134.3h0M121.8 123.4h0M118.1 138.8h0M148.3 140.2h0M140.9 118.0h0M183.1 134.3h0M148.3 112.8h0M151.9 138.7h0M145.6 138.8h0M135.2 126.9h0M163.1 114.7h0M116.9 131.5h0M104.7 132.6h0M123.5 116.7h0M154.3 131.4h0M94.6 134.1h0M131.4 125.8h0M181.6 139.2h0M84.5 140.2h0M72.6 136.5h0M172.7 134.8h0M132.8 138.4h0M118.5 138.3h0M140.0 137.8h0M101.5 130.5h0M89.0 128.3h0M142.6 137.0h0M170.1 116.9h0M107.6 119.4h0M124.3 128.9h0M148.3 139.5h0M122.5 136.3h0M124.9 139.0h0M143.1 135.5h0M97.9 140.3h0M188.2 130.4h0M100.6 121.4h0M135.2 136.2h0M137.2 139.7h0M108.3 137.0h0M153.2 140.1h0M163.3 123.0h0M186.4 124.6h0M154.8 122.8h0M117.6 138.9h0M164.9 135.3h0M81.6 140.3h0M166.1 116.6h0M163.5 133.7h0M82.0 126.7h0M92.0 130.8h0M188.4 135.5h0M115.0 129.9h0M73.9 129.4h0M88.6 140.4h0M133.8 139.4h0M162.5 133.8h0M133.0 140.4h0M176.4 139.5h0M141.2 139.3h0M150.0 128.0h0M168.5 136.2h0M111.0 131.9h0M143.5 134.9h0M118.7 136.0h0M110.8 120.2h0M156.3 139.7h0M167.6 126.9h0M174.3 138.0h0M103.9 139.8h0M129.2 134.6h0M113.3 134.8h0M171.8 140.3h0M145.9 139.4h0M191.6 136.6h0M91.5 138.3h0M190.1 139.3h0M131.3 122.0h0M147.3 126.4h0M154.6 133.9h0M141.0 139.2h0M99.8 128.6h0M142.1 140.1h0M121.6 136.9h0M90.5 135.8h0M146.1 139.9h0M113.1 128.7h0M114.5 140.1h0M111.9 125.2h0M138.5 132.8h0M101.0 136.6h0M175.8 136.4h0M150.3 138.5h0M90.1 135.1h0M141.5 136.7h0M135.0 137.8h0M131.8 138.1h0M109.9 139.4h0M176.7 140.4h0M93.6 125.1h0M121.9 128.8h0M156.5 139.0h0M131.0 126.7h0M166.2 137.1h0M79.5 124.2h0M103.0 139.5h0M133.2 136.0h0M118.0 134.6h0M121.0 134.5h0M78.3 130.5h0M147.9 118.9h0M96.6 135.3h0M122.7 126.9h0M161.7 140.0h0M84.7 140.0h0M113.5 132.5h0M147.4 135.8h0M122.4 140.2h0M140.1 139.3h0M95.6 139.1h0M125.4 136.8h0M94.5 138.7h0M73.4 137.8h0M146.0 140.0h0M162.7 137.3h0M186.5 139.1h0M159.2 121.7h0M122.1 128.6h0M149.3 125.4h0M103.5 128.1h0M122.2 140.5h0M185.9 131.2h0M111.8 129.8h0M174.0 135.6h0M143.7 107.6h0M96.7 139.5h0M177.4 119.4h0M173.6 137.6h0M119.5 140.0h0M139.1 137.5h0M89.1 137.2h0M127.5 130.4h0M94.5 136.1h0M137.6 115.2h0M126.3 126.2h0M98.4 138.9h0M148.3 136.4h0M170.4 127.9h0M99.6 132.5h0M139.7 127.4h0M169.8 115.0h0M105.9 128.8h0M160.5 131.7h0M157.3 139.7h0M179.7 135.5h0M109.6 133.8h0M175.8 137.4h0M148.1 125.7h0M148.3 132.7h0M140.7 132.4h0M174.4 140.2h0M97.9 126.9h0M124.6 139.4h0M119.7 130.0h0M148.6 138.3h0M113.4 128.5h0M162.4 137.3h0M112.8 129.7h0M152.1 123.3h0M187.1 137.7h0M183.0 123.9h0M121.7 135.6h0M71.3 139.4h0M112.1 137.6h0M118.5 128.6h0M158.7 136.0h0M169.9 125.7h0M137.7 121.4h0M127.2 126.4h0M154.3 127.5h0M147.1 120.2h0M119.6 139.1h0M141.8 137.4h0M179.5 134.6h0M121.4 131.1h0M101.1 140.3h0M82.4 135.5h0M143.8 127.0h0M76.8 131.2h0M140.4 137.1h0M151.8 131.2h0M153.4 131.2h0M120.2 125.3h0M83.0 138.2h0M140.0 135.4h0M110.9 133.5h0M89.4 137.3h0M85.4 138.9h0M156.1 124.3h0M131.7 133.5h0M162.6 127.0h0M143.2 130.6h0M81.4 137.0h0M120.4 116.0h0M94.1 140.3h0M171.5 131.9h0M141.6 119.5h0M143.9 134.5h0M144.5 109.1h0M187.6 111.5h0M69.8 140.0h0M146.2 140.3h0M191.5 136.9h0M109.7 126.0h0M99.7 139.3h0M87.5 140.4h0M111.8 135.7h0M157.8 129.4h0M117.7 138.4h0M190.9 136.2h0M118.8 139.9h0M146.3 131.3h0M150.7 136.0h0M168.5 138.8h0M185.5 140.2h0M95.2 138.1h0M189.9 129.0h0M109.3 134.9h0M123.9 118.5h0M152.3 135.5h0M164.2 137.7h0M130.1 137.2h0M120.7 127.0h0M104.8 132.4h0M161.5 126.8h0M109.8 137.4h0M179.3 133.7h0M125.2 134.1h0M94.7 129.5h0M109.6 140.5h0M158.6 119.2h0M97.4 114.5h0M120.5 137.0h0M142.6 139.1h0M87.4 139.5h0M103.1 139.4h0M86.8 137.8h0M156.2 136.5h0M144.2 130.9h0M189.6 134.0h0M76.5 139.4h0M144.8 140.1h0M178.1 139.2h0M155.2 135.5h0M87.8 132.4h0M105.5 137.2h0M164.7 140.3h0M117.5 137.3h0M137.6 133.8h0M144.0 128.8h0M123.3 131.1h0M139.5 115.8h0M99.9 139.4h0M120.6 124.3h0M113.0 118.5h0M100.2 137.5h0M176.9 134.1h0M144.1 138.0h0M181.9 118.6h0M141.0 137.3h0M116.4 127.0h0M117.9 117.3h0M86.2 133.5h0M120.3 124.2h0M80.2 114.0h0M99.8 131.9h0M156.2 136.7h0M90.7 138.9h0M190.9 138.6h0M103.0 128.7h0M105.3 115.9h0M140.1 136.4h0M81.6 133.0h0M75.3 138.7h0M73.5 140.4h0M181.5 130.6h0M132.0 107.2h0M170.6 129.4h0M107.9 140.1h0M178.5 115.1h0M164.8 138.8h0M169.1 136.9h0M159.1 132.9h0M118.3 139.9h0M188.3 140.3h0M145.2 128.7h0M114.3 125.7h0M173.2 124.6h0M145.1 139.3h0M106.3 129.2h0M85.2 139.8h0M127.3 138.8h0M182.2 140.3h0M93.1 131.3h0M106.8 116.3h0M180.4 135.1h0M145.5 102.5h0M173.6 125.0h0M159.3 129.3h0M74.6 140.3h0M84.8 129.7h0M80.6 139.8h0M145.7 70.9h0M173.6 126.5h0M157.6 139.6h0M109.7 131.2h0M126.2 133.7h0M77.7 138.6h0M152.0 135.9h0M117.7 136.5h0M169.5 139.2h0M91.7 137.3h0M112.9 135.3h0M143.2 138.8h0M176.2 124.4h0M191.8 136.1h0M109.3 139.2h0M179.4 130.0h0M105.4 140.2h0M114.8 134.7h0M81.6 138.2h0M127.4 130.8h0M155.2 137.5h0M100.5 136.3h0M82.9 134.1h0M107.4 140.4h0M109.8 136.6h0M149.0 134.0h0M146.1 137.9h0M187.9 134.7h0M165.7 114.2h0M145.2 140.4h0M160.5 136.3h0M120.4 115.1h0M187.0 138.7h0M111.8 134.4h0M126.8 129.5h0M178.0 139.8h0M110.9 110.0h0M154.4 110.0h0M123.7 130.6h0M169.3 129.2h0M169.7 111.9h0M170.1 137.3h0M155.5 135.8h0M95.7 138.7h0M91.1 138.6h0M146.3 140.0h0M135.4 140.1h0M77.9 134.9h0M91.6 138.1h0M88.1 128.1h0M78.0 134.4h0M121.8 137.4h0M154.1 137.2h0M143.0 135.9h0M86.3 133.9h0M108.8 140.0h0M137.8 137.5h0M151.8 132.2h0M135.0 136.6h0M107.8 127.7h0M132.6 123.0h0M68.3 137.7h0M110.4 133.0h0M91.2 131.5h0M104.9 117.0h0M106.4 136.7h0M141.7 139.3h0M179.7 126.2h0M117.2 139.7h0M165.8 139.7h0M79.9 136.1h0M136.9 135.1h0M138.0 135.0h0M131.2 137.0h0M121.3 133.2h0M141.1 132.4h0M99.5 138.9h0M71.1 139.8h0M123.9 134.6h0M106.3 119.0h0M113.2 127.1h0M86.1 131.5h0M152.9 129.2h0M79.5 139.3h0M117.1 114.8h0M182.5 138.8h0M70.2 137.9h0M106.4 140.2h0M137.3 131.5h0M152.2 130.2h0M150.0 133.5h0M159.6 137.8h0M124.5 119.7h0M158.6 140.3h0M165.1 118.2h0M108.7 136.9h0M140.5 110.1h0M94.6 130.2h0M165.6 123.7h0M122.9 139.4h0M190.2 135.3h0M109.1 138.5h0M142.5 135.6h0M142.9 96.6h0M92.9 121.8h0M135.2 135.7h0M126.9 137.5h0M102.7 133.4h0M182.9 139.2h0M169.1 137.0h0M90.2 130.8h0M153.4 117.6h0M187.8 138.6h0M85.5 137.8h0M100.3 133.2h0M120.9 138.7h0M128.4 128.8h0M136.0 137.2h0M113.6 133.0h0M120.0 115.2h0M135.6 132.4h0M156.5 121.4h0M84.8 127.5h0M170.6 137.6h0M112.0 136.8h0M117.6 134.3h0M171.9 124.3h0M158.6 136.9h0M110.8 136.5h0M109.3 140.1h0M127.0 136.3h0M114.1 139.9h0M138.7 136.5h0M157.6 140.2h0M143.9 139.2h0M97.0 139.6h0M130.9 130.0h0M105.1 129.9h0M156.0 136.3h0M145.5 125.2h0M124.7 120.6h0M79.6 136.9h0M188.9 127.2h0M116.1 139.3h0M110.3 138.4h0M184.9 118.0h0M127.0 137.5h0M116.4 135.5h0M133.0 121.8h0M97.2 136.9h0M149.2 135.8h0M135.6 139.2h0M100.5 134.4h0M104.3 134.8h0M133.1 134.4h0M140.2 133.4h0M129.9 109.8h0M180.2 113.9h0M190.7 140.4h0M155.0 130.0h0M156.7 132.8h0M124.4 114.4h0M89.2 139.4h0M145.9 121.2h0M150.4 139.5h0M145.3 137.8h0M118.9 140.5h0M82.9 124.3h0M130.5 139.2h0M86.9 140.4h0M144.4 119.0h0M91.3 121.1h0M77.2 128.7h0M158.9 135.0h0M87.0 138.3h0M83.0 139.7h0M179.8 138.3h0M168.5 106.5h0M121.2 132.2h0M119.3 114.4h0M112.8 140.3h0M176.8 120.0h0M138.0 139.7h0M90.0 140.0h0M162.2 127.7h0M159.1 131.7h0M114.8 135.4h0M125.2 133.5h0M128.0 139.6h0M88.6 136.1h0M171.5 114.1h0M163.9 135.4h0M115.2 138.3h0M155.3 123.6h0M113.1 134.4h0M158.9 86.8h0M141.6 137.8h0M151.0 136.5h0M145.7 132.9h0M95.7 136.4h0M148.5 132.4h0M96.1 139.6h0M101.3 136.9h0M190.6 139.2h0M138.9 131.5h0M140.2 137.6h0M191.3 133.5h0M77.0 135.3h0M186.9 136.9h0M179.6 129.7h0M115.9 139.9h0M102.4 139.3h0M136.6 125.8h0M132.8 139.8h0M83.2 133.4h0M186.8 139.5h0M134.0 137.2h0M99.1 120.1h0M111.2 138.9h0M170.1 130.2h0M111.8 137.7h0M96.8 89.9h0M106.6 125.0h0M113.0 118.1h0M153.2 140.2h0M127.9 139.1h0M141.5 132.9h0M132.6 136.4h0M138.7 137.6h0M78.3 137.3h0M167.2 134.4h0M159.9 119.1h0M110.8 115.5h0M142.5 140.3h0M118.3 113.6h0M124.3 133.7h0M188.5 113.4h0M143.3 138.4h0M82.3 137.0h0M156.8 126.7h0M146.5 133.3h0M162.9 137.2h0M105.2 132.8h0M131.4 140.3h0M164.0 139.9h0M95.2 130.6h0M139.7 139.8h0M167.5 139.7h0M114.6 133.5h0M164.7 136.7h0M160.8 136.4h0M149.7 137.0h0M115.3 128.6h0M141.0 132.1h0M182.6 116.6h0M106.5 132.9h0M108.0 138.6h0M118.3 133.2h0M163.1 130.3h0M109.3 137.6h0M106.6 119.0h0M131.2 118.9h0M179.4 139.6h0M95.6 139.6h0M105.7 133.5h0M136.9 116.1h0M169.8 126.1h0M168.5 137.2h0M88.7 138.3h0M117.1 139.2h0M106.5 122.6h0M70.4 134.0h0M88.1 132.5h0M128.0 135.5h0M127.4 136.5h0M156.3 125.7h0M130.7 135.4h0M93.3 124.7h0M165.1 140.3h0M140.5 118.0h0M136.7 128.3h0M88.6 138.4h0M159.3 138.5h0M144.3 140.1h0M148.3 127.1h0M109.8 125.5h0M184.2 135.4h0M105.1 116.1h0M99.6 136.3h0M165.4 135.5h0M182.4 140.3h0M122.9 126.9h0M88.3 129.4h0M134.0 133.2h0M110.8 127.9h0M103.1 137.1h0M99.7 140.4h0M122.7 126.7h0M158.3 139.5h0M104.0 140.2h0M97.6 122.4h0M135.0 136.3h0M130.8 127.0h0M112.4 135.8h0M170.2 140.3h0M183.8 134.3h0M124.0 127.7h0M128.2 125.8h0M91.5 117.3h0M130.4 119.7h0M87.7 140.4h0M131.8 111.9h0M104.6 130.8h0M108.2 139.7h0M151.1 139.9h0M174.2 139.1h0M121.0 136.5h0M163.7 134.6h0M136.6 137.0h0M124.6 136.5h0M140.6 130.5h0M95.8 119.1h0M132.0 138.6h0M97.9 130.7h0M168.7 132.7h0M170.7 138.6h0M161.2 137.6h0M126.6 140.4h0M184.9 134.4h0M176.6 136.6h0M125.1 127.6h0M138.2 138.4h0M167.9 137.6h0M140.8 140.3h0M135.5 139.8h0M143.4 136.2h0M151.6 134.2h0M135.3 135.8h0M133.8 139.3h0M131.2 135.5h0M111.7 140.1h0M160.6 139.1h0M106.0 132.3h0M108.9 132.4h0M104.1 126.2h0M118.1 137.9h0M97.5 138.0h0M175.4 139.6h0M104.4 135.9h0M188.7 132.4h0M129.7 125.4h0M111.4 128.7h0M87.7 138.9h0M89.7 135.5h0M174.4 139.9h0M150.7 137.9h0M146.8 133.0h0M106.0 117.6h0M126.5 139.2h0M112.9 138.0h0M125.1 138.0h0M172.8 119.8h0M90.6 136.2h0M177.0 134.9h0M105.1 111.3h0M180.4 133.2h0M129.0 140.3h0M166.2 137.8h0M155.5 137.4h0M108.4 136.9h0M160.3 131.9h0M169.0 131.0h0M93.3 126.1h0M160.5 126.4h0M91.2 139.1h0M86.5 130.8h0M151.7 132.9h0M113.6 127.0h0M162.8 138.6h0M133.1 118.6h0M92.2 129.5h0M153.8 139.2h0M127.1 130.8h0M98.1 130.7h0M137.4 138.7h0M136.1 103.0h0M149.4 139.3h0M132.7 139.5h0M173.6 139.2h0M79.8 138.7h0M182.8 140.2h0M170.4 140.0h0M178.1 131.4h0M174.7 139.3h0M149.4 130.9h0M177.5 117.2h0M108.2 123.0h0M144.8 117.4h0M129.2 121.8h0M159.5 128.0h0M143.0 139.5h0M80.9 139.7h0M126.4 138.7h0M150.7 136.8h0M174.1 131.7h0M129.5 138.0h0M140.8 140.3h0M92.3 113.2h0M162.1 127.3h0M189.4 128.6h0M100.9 134.8h0M176.3 128.9h0M160.1 138.7h0M125.9 134.4h0M83.2 137.2h0M190.5 136.5h0M142.8 138.3h0M176.3 126.7h0M89.6 138.0h0M106.9 139.8h0M147.9 136.8h0M143.4 127.0h0M116.0 134.6h0M112.7 136.4h0M190.7 135.1h0M184.2 136.1h0M80.8 135.2h0M77.7 140.5h0M134.3 134.6h0M148.6 119.1h0M164.8 138.3h0M175.6 137.5h0M182.9 118.3h0M82.3 137.7h0M149.4 128.8h0M92.8 139.0h0M180.3 138.9h0M73.3 139.7h0M117.6 134.4h0M100.6 136.4h0M127.0 128.9h0M124.1 133.6h0M103.0 134.4h0M165.7 139.8h0M157.1 135.6h0M112.2 136.7h0M104.0 139.5h0M135.1 111.9h0M132.9 129.8h0M156.7 122.9h0M85.8 127.5h0M74.9 139.3h0M122.6 132.8h0M179.5 113.0h0M118.2 134.0h0M94.8 133.7h0M109.3 118.7h0M136.8 137.7h0M115.7 134.6h0M119.4 120.8h0M175.3 83.4h0M71.5 139.0h0M123.7 114.5h0M155.0 140.0h0M71.1 133.2h0M89.5 140.0h0M179.9 133.8h0M91.2 138.6h0M126.0 119.2h0M118.2 140.5h0M95.1 131.0h0M113.1 119.6h0M124.1 136.6h0M173.7 140.0h0M160.6 138.9h0M136.1 128.9h0M85.7 122.1h0M83.9 139.8h0M157.9 137.3h0M103.4 140.0h0M144.2 127.8h0M150.2 139.7h0M162.7 119.3h0M183.4 140.0h0M100.1 139.3h0M119.2 135.6h0M110.7 138.8h0M96.1 134.6h0M131.0 139.6h0M159.8 136.0h0M180.4 136.6h0M149.6 129.4h0M82.6 137.0h0M130.7 137.4h0M163.0 132.6h0M132.9 140.5h0M131.2 135.5h0M178.7 120.0h0M104.4 132.1h0M177.8 139.9h0M181.9 119.6h0M140.8 137.3h0M154.0 117.4h0M146.4 137.0h0M141.2 125.4h0M101.0 137.5h0M190.5 132.5h0M170.4 135.0h0M114.9 106.0h0M145.7 131.5h0M135.2 135.5h0M169.0 137.2h0M103.5 130.9h0M162.8 127.4h0M108.8 138.3h0M137.1 130.3h0M141.7 137.8h0M117.4 130.0h0M160.0 140.3h0M94.2 131.3h0M146.9 140.2h0M106.4 134.5h0M94.8 120.7h0M177.2 134.5h0M184.7 138.5h0M94.8 136.4h0M133.4 135.5h0M174.5 135.3h0M154.0 134.7h0M163.3 112.2h0M107.3 127.3h0M112.0 115.4h0M126.5 137.4h0M142.5 138.3h0M109.6 121.8h0M127.9 131.5h0M81.0 118.8h0M176.7 134.5h0M159.8 133.3h0M164.4 139.2h0M149.1 137.7h0M80.6 135.1h0M154.7 132.5h0M119.4 133.1h0M114.9 135.1h0M112.5 130.3h0M152.0 136.2h0M143.6 113.0h0M122.6 138.4h0M136.2 137.6h0M134.4 139.8h0M111.9 116.9h0M176.1 132.9h0M94.3 133.1h0M72.8 131.7h0M176.6 136.8h0M131.5 113.0h0M141.9 114.9h0M160.1 135.1h0M154.8 132.3h0M128.7 134.9h0M77.9 135.7h0M104.8 139.1h0M76.2 139.6h0M189.8 136.7h0M116.9 136.8h0M125.0 133.1h0M123.1 140.1h0M88.6 139.5h0M150.9 138.1h0M108.4 129.8h0M105.0 122.9h0M113.7 129.4h0M101.9 100.0h0M95.0 127.6h0M131.8 137.1h0M158.5 131.7h0M92.2 138.3h0M141.6 135.9h0M106.1 132.2h0M175.0 126.9h0M85.5 138.7h0M105.9 134.3h0M156.9 129.9h0M80.8 128.3h0M134.7 127.9h0M136.0 133.5h0M101.3 135.6h0M122.6 127.2h0M166.8 136.0h0M139.5 129.5h0M82.9 137.4h0M122.8 132.3h0M124.1 139.9h0M176.8 111.0h0M159.4 140.3h0M157.0 131.6h0M187.5 138.9h0M73.8 139.9h0M189.3 129.0h0M156.8 125.0h0M128.4 139.4h0M126.4 136.3h0M182.7 131.1h0M130.4 130.0h0M120.3 138.9h0M148.7 138.7h0M92.1 133.9h0M160.5 122.0h0M191.5 135.8h0M134.9 140.2h0M85.7 138.7h0M175.2 138.0h0M83.4 131.4h0M128.8 123.2h0M117.5 124.5h0M153.3 129.6h0M174.5 129.3h0M153.4 135.8h0M88.1 140.4h0M170.6 136.7h0M100.9 133.4h0M132.3 110.9h0M142.2 138.8h0M144.6 133.7h0M100.2 129.9h0M121.1 138.8h0M86.2 129.1h0M160.1 136.0h0M99.9 140.3h0M96.4 139.6h0M146.7 122.6h0M115.9 135.2h0M140.1 110.5h0M123.2 140.1h0M176.9 128.0h0M173.0 137.4h0M92.4 126.5h0M144.7 134.3h0M118.6 138.0h0M82.1 134.7h0M152.9 139.4h0M124.3 137.6h0M145.5 137.8h0M115.5 140.5h0M177.5 136.0h0M100.7 139.4h0M94.5 139.6h0M86.7 127.3h0M174.6 132.3h0M118.5 118.8h0M131.1 137.7h0M115.8 137.1h0M133.1 128.8h0M183.1 139.9h0M119.2 135.1h0M135.1 133.5h0M139.7 135.9h0M86.0 123.4h0M108.2 136.3h0M166.6 130.9h0M81.6 134.6h0M92.9 134.4h0M95.0 130.8h0M183.5 132.2h0M124.5 134.2h0M180.8 138.5h0M108.9 121.6h0M141.5 139.5h0M119.8 139.9h0M152.9 138.5h0M87.3 129.6h0M125.4 134.0h0M87.0 135.7h0M126.6 139.7h0M140.7 135.8h0M111.7 139.8h0M117.6 128.6h0M101.2 131.7h0M96.9 140.4h0M99.2 137.0h0M86.1 124.6h0M135.1 120.8h0M113.1 136.8h0M103.0 134.4h0M103.1 137.9h0M169.9 136.0h0M109.8 116.1h0M116.3 138.1h0M121.5 139.7h0M123.1 113.3h0M93.8 119.9h0M112.0 137.4h0M135.6 123.3h0M84.6 138.6h0M85.4 138.5h0M141.3 125.8h0M108.0 134.7h0M102.1 132.9h0M161.1 140.2h0M111.6 128.3h0M143.6 139.2h0M185.1 139.2h0M117.3 119.3h0M117.4 130.9h0M81.2 124.9h0M136.1 133.9h0M111.5 138.5h0M103.6 132.4h0M145.4 131.3h0M119.2 117.2h0M152.1 133.2h0M126.4 137.9h0M125.4 133.3h0M117.1 130.0h0M109.2 135.5h0M120.4 136.2h0M118.5 120.0h0M190.2 130.9h0M166.6 140.0h0M124.9 137.2h0M178.6 138.2h0M172.1 133.2h0M189.1 139.3h0M158.5 136.4h0M94.0 138.5h0M162.5 138.3h0M142.8 135.6h0M115.9 131.9h0M153.8 139.1h0M115.1 127.6h0M90.6 126.4h0M112.1 138.4h0M133.5 122.3h0M174.9 139.2h0M111.0 140.2h0M138.5 117.9h0M152.6 120.1h0M123.7 133.4h0M144.1 139.5h0M156.1 127.8h0M122.4 123.6h0M84.3 138.0h0M70.9 134.5h0M91.9 133.0h0M94.7 137.0h0M182.2 132.6h0M109.1 133.9h0M120.7 133.8h0M103.5 102.7h0M185.6 137.6h0M173.3 138.6h0M179.0 134.8h0M179.2 135.2h0M167.9 119.2h0M173.7 134.9h0M100.7 138.7h0M146.0 138.9h0M82.2 136.7h0M156.1 137.8h0M113.4 139.2h0M78.0 134.6h0M160.6 138.4h0M148.9 132.5h0M145.4 139.6h0M138.6 135.3h0M102.4 139.9h0M138.1 138.7h0M128.7 133.6h0M135.4 132.5h0M135.4 129.1h0M132.0 139.8h0M138.5 129.3h0M125.5 132.2h0M148.3 127.2h0M121.3 133.4h0M105.8 135.7h0M142.6 127.6h0M158.9 121.6h0M98.1 140.2h0M94.3 135.9h0M131.7 138.0h0M149.9 140.3h0M135.9 136.7h0M145.7 132.9h0M153.2 132.2h0M147.2 121.2h0M124.5 124.3h0M85.9 139.9h0M110.7 138.2h0M145.0 135.1h0M179.4 132.6h0M123.1 132.1h0M155.6 123.2h0M88.8 133.9h0M102.9 135.4h0M92.7 132.0h0M91.7 138.5h0M122.7 127.8h0M79.9 138.0h0M155.6 121.7h0M169.2 137.9h0M141.5 136.7h0M94.9 131.0h0M138.1 126.6h0M123.2 113.9h0M190.0 135.3h0M145.3 139.4h0M143.0 138.9h0M133.2 121.9h0M133.1 137.8h0M186.5 134.6h0M169.0 121.6h0M122.5 139.1h0M116.1 103.8h0M119.3 135.5h0M180.5 137.4h0M121.5 139.0h0M139.3 112.1h0M116.3 134.1h0M143.2 137.0h0M79.8 140.0h0M99.2 138.5h0M125.4 132.0h0M136.1 130.8h0M95.0 135.0h0M93.6 129.1h0M78.2 127.2h0M142.5 135.9h0M118.3 137.3h0M104.0 138.0h0M172.5 136.9h0M82.4 138.2h0M123.1 128.4h0M103.8 137.4h0M103.8 129.6h0M122.7 140.3h0M149.0 129.6h0M144.5 138.6h0M175.3 139.8h0M174.8 131.0h0M142.5 139.1h0M187.9 132.1h0M94.9 137.2h0M87.9 130.1h0M150.9 136.7h0M97.7 138.5h0M142.3 126.7h0M190.9 135.6h0M71.5 140.4h0M109.0 119.8h0M136.1 139.7h0M163.0 132.3h0M116.3 127.5h0M141.8 126.0h0M152.6 137.8h0M149.8 136.4h0M83.5 135.3h0M150.2 121.2h0M106.5 130.7h0M108.0 135.5h0M90.7 135.8h0M103.7 133.1h0M172.2 137.5h0M146.5 133.9h0M139.2 134.8h0M81.3 138.8h0M122.9 134.8h0M115.2 130.5h0M151.2 138.2h0M157.5 138.9h0M137.3 129.1h0M185.3 139.6h0M134.7 135.6h0M162.7 135.3h0M93.8 139.2h0M139.3 137.7h0M179.9 135.9h0M138.8 137.7h0M166.2 139.4h0M162.8 106.6h0M122.6 140.0h0M123.3 138.5h0M187.9 139.7h0M89.1 137.0h0M113.4 121.3h0M188.9 131.2h0M103.2 138.5h0M160.5 129.2h0M103.6 137.1h0M176.9 111.8h0M87.2 138.0h0M158.0 138.6h0M147.9 132.7h0M146.0 140.0h0M121.6 128.2h0M128.3 119.3h0M83.9 136.1h0M98.6 133.8h0M149.0 128.6h0M115.5 131.4h0M186.9 138.4h0M92.9 125.0h0M145.5 134.4h0M137.5 131.5h0M147.0 135.1h0M182.1 133.5h0M131.9 114.8h0M121.0 137.5h0M150.3 134.9h0M83.5 136.7h0M76.5 122.2h0M114.7 136.1h0M149.2 113.4h0M122.7 121.0h0M109.2 138.0h0M133.1 97.4h0M96.3 124.3h0M94.5 139.9h0M105.1 128.6h0M155.0 122.3h0M75.4 131.8h0M115.7 115.2h0M137.6 126.9h0M169.2 129.9h0M155.8 129.2h0M139.1 123.6h0M136.8 136.6h0M165.6 65.9h0M135.2 138.8h0M142.7 137.8h0M152.7 84.3h0M156.1 134.1h0M127.6 117.9h0M128.1 138.5h0M143.6 114.1h0M155.3 136.9h0M163.9 121.5h0M145.3 128.9h0M159.8 113.2h0M115.2 131.7h0M112.6 122.5h0M83.3 138.7h0M135.3 117.9h0M169.4 139.6h0M107.4 109.9h0M177.9 131.9h0M154.4 123.7h0M172.9 136.5h0M150.9 120.8h0M169.3 130.9h0M115.0 139.8h0M81.4 132.9h0M150.3 108.6h0M127.1 110.3h0M96.3 65.6h0M100.2 130.2h0M127.5 111.1h0M114.0 127.6h0M106.0 126.5h0M107.9 90.3h0M159.7 138.9h0M94.1 131.7h0M148.8 131.6h0M174.1 122.6h0M159.7 122.0h0M185.4 132.6h0M140.5 120.1h0M176.2 119.9h0M134.7 91.5h0M156.6 109.0h0M135.4 121.2h0M96.8 140.1h0M121.6 140.5h0M121.9 126.3h0M118.8 104.8h0M126.8 129.9h0M134.1 115.5h0M122.4 106.4h0M125.1 109.3h0M89.0 137.3h0M136.8 136.4h0M118.2 128.6h0M139.3 124.5h0M168.0 137.5h0M136.7 129.7h0M106.7 135.4h0M97.0 138.0h0M148.7 140.2h0M105.1 138.8h0M95.0 135.7h0M133.9 139.5h0M81.2 136.0h0M152.2 138.7h0M144.2 139.4h0M166.7 128.3h0M100.0 132.7h0M109.3 140.5h0M117.4 131.1h0M145.6 116.2h0M135.6 117.9h0M85.0 135.7h0M87.4 128.3h0M128.8 106.7h0M171.0 86.9h0M173.2 139.4h0M87.7 135.2h0M181.7 138.5h0M158.5 132.7h0M96.9 124.6h0M147.7 127.0h0M152.1 136.4h0M140.1 130.2h0M135.1 135.0h0M165.5 136.6h0M171.6 140.0h0M150.2 127.8h0M116.5 138.4h0M115.8 133.2h0M110.7 129.8h0M147.3 131.9h0M156.6 124.8h0M94.0 117.7h0M110.1 117.0h0M108.6 138.8h0M153.0 136.4h0M155.3 131.2h0M100.8 131.7h0M159.1 120.3h0M175.2 134.5h0M178.1 139.8h0M157.9 111.3h0M157.4 138.3h0M130.6 128.9h0M125.6 131.5h0M121.5 140.4h0M154.2 121.5h0M148.5 116.2h0M137.3 82.6h0M175.6 117.7h0M161.6 136.4h0M159.8 125.6h0M174.1 108.6h0M125.9 138.0h0M175.4 139.1h0M114.8 139.4h0M104.5 140.4h0M111.4 112.1h0M110.2 101.8h0M114.1 137.5h0M84.6 108.5h0M160.2 128.9h0M103.5 134.5h0M149.4 130.7h0M104.5 137.6h0M142.4 130.4h0M119.9 139.2h0M113.1 102.9h0M95.0 125.5h0M114.4 138.4h0M113.9 138.1h0M177.6 117.2h0M111.2 115.6h0M178.8 132.8h0M117.6 138.2h0M100.2 131.4h0M170.0 131.1h0M131.6 119.5h0M129.0 132.9h0M122.1 93.8h0M113.1 91.4h0M116.0 131.3h0M135.6 137.4h0M103.0 129.5h0M157.1 124.0h0M110.5 135.4h0M152.0 123.8h0M87.6 135.9h0M79.3 138.6h0M138.1 133.3h0M172.1 132.4h0M165.8 130.5h0M177.1 134.0h0M143.2 95.3h0M174.1 132.4h0M108.3 140.3h0M173.4 135.1h0M138.3 140.2h0M180.1 134.5h0M130.3 124.3h0M89.7 134.5h0M79.4 138.9h0M137.1 119.1h0M124.2 113.6h0M120.4 124.4h0M177.8 131.2h0M139.4 122.9h0M97.8 118.1h0M118.7 130.9h0M169.2 135.8h0M176.4 133.9h0M120.3 135.6h0M131.5 95.3h0M139.3 121.4h0M105.4 139.4h0M146.6 133.4h0M109.5 112.8h0M116.9 131.1h0M173.0 138.6h0M185.5 136.3h0M137.2 128.1h0M138.0 128.4h0M140.1 56.0h0M86.4 128.6h0M92.3 131.2h0M179.7 131.1h0M138.5 135.7h0M121.5 91.1h0M160.4 139.7h0M169.2 136.0h0M147.5 114.2h0M114.3 112.1h0M100.5 139.8h0M164.7 104.0h0M139.3 139.4h0M100.1 61.2h0M120.6 106.0h0M152.3 132.0h0M110.7 107.1h0M137.7 113.5h0M105.3 136.0h0M117.5 123.5h0M123.4 134.4h0M126.5 71.9h0M89.2 134.3h0M161.7 117.3h0M99.0 138.0h0M142.5 122.9h0M124.7 133.6h0M155.1 136.3h0M176.8 139.8h0M131.4 137.6h0M154.2 135.7h0M160.7 132.4h0M108.2 140.2h0M146.8 136.3h0M134.6 140.3h0M153.7 136.0h0M178.8 135.5h0M111.3 124.2h0M120.6 134.6h0M118.4 120.1h0M107.8 135.4h0M155.4 135.1h0M182.7 120.8h0M158.2 130.2h0M127.1 108.4h0M145.8 115.2h0M116.6 126.3h0M146.6 120.9h0M128.1 134.9h0M160.4 121.2h0M184.8 135.0h0M138.0 126.1h0M123.4 138.7h0M113.2 138.9h0M130.6 129.4h0M141.9 100.9h0M116.4 128.6h0M114.4 126.5h0M149.0 130.6h0M127.5 104.4h0M99.1 134.8h0M116.6 117.5h0M167.6 127.8h0M120.1 117.3h0M162.6 137.5h0M141.8 127.9h0M128.7 125.5h0M141.6 97.9h0M164.9 140.2h0M179.5 126.3h0M137.9 133.4h0M143.0 136.9h0M113.4 139.7h0M146.2 125.0h0M82.7 133.5h0M133.3 138.1h0M146.6 102.3h0M137.8 130.6h0M122.1 127.7h0M153.7 127.1h0M158.7 132.4h0M117.1 123.1h0M116.5 130.7h0M112.6 138.6h0M85.3 126.5h0M175.3 120.6h0M136.4 140.1h0M117.0 45.4h0M168.6 125.3h0M130.7 138.8h0M137.2 135.7h0M150.9 130.0h0M120.6 136.7h0M130.5 115.8h0M113.3 131.8h0M149.3 107.9h0M135.1 138.9h0M136.7 137.7h0M106.8 139.4h0M80.8 138.7h0M185.3 120.5h0M133.7 127.7h0M153.5 131.8h0M135.1 139.1h0M172.8 126.9h0M103.6 129.8h0M116.2 132.7h0M82.1 140.1h0M127.5 137.9h0M153.3 139.9h0M119.3 81.3h0M118.8 131.0h0M137.8 108.9h0M181.3 124.2h0M133.9 133.7h0M123.1 113.1h0M88.7 102.8h0M129.1 139.2h0M93.1 138.7h0M162.9 136.7h0M88.7 128.3h0M149.0 137.1h0M176.1 132.2h0M159.1 115.7h0M163.9 133.8h0M116.0 137.0h0M128.2 121.4h0M136.0 122.3h0M135.4 99.1h0M77.2 137.6h0M150.8 98.7h0M111.2 122.8h0M97.7 129.6h0M165.0 132.8h0M126.9 137.8h0M146.5 132.9h0M107.8 129.6h0M83.5 139.9h0M144.2 139.1h0M111.5 131.8h0M175.8 122.6h0M129.2 128.3h0M113.3 133.2h0M131.9 122.9h0M121.0 127.0h0M129.1 121.4h0M75.2 133.7h0M94.0 133.1h0M169.8 138.7h0M83.6 139.1h0M94.9 132.8h0M120.0 120.6h0M148.1 135.4h0M117.7 112.6h0M150.6 134.3h0M112.3 135.3h0M134.9 125.6h0M151.4 130.6h0M155.0 125.3h0M136.0 118.9h0M114.4 133.4h0M132.7 124.4h0M95.7 137.8h0M168.9 123.7h0M115.9 138.3h0M170.8 124.4h0M113.0 133.4h0M153.7 128.4h0M123.8 135.8h0M82.2 135.1h0M72.4 136.6h0M85.3 136.2h0M112.5 122.1h0M143.1 121.3h0M103.5 133.3h0M108.6 140.0h0M150.1 134.9h0M115.9 117.4h0M88.6 134.8h0M182.5 116.5h0M154.7 98.7h0M169.7 126.6h0M153.5 127.1h0M165.0 140.2h0M172.1 135.6h0M95.7 124.9h0M108.8 140.1h0M98.7 134.3h0M105.0 137.9h0M154.7 108.6h0M129.9 132.9h0M153.3 133.1h0M91.5 98.9h0M150.2 119.3h0M150.9 135.6h0M180.1 109.6h0M107.7 125.2h0M148.3 138.8h0M132.2 116.7h0M171.0 111.2h0M174.1 132.5h0M153.3 136.6h0M104.9 139.2h0M95.9 133.1h0M155.0 136.6h0M127.4 137.4h0M174.5 133.7h0M110.2 132.7h0M137.3 131.0h0M99.7 90.7h0M102.7 137.5h0M160.2 136.6h0M176.3 123.5h0M86.8 133.6h0M186.1 107.9h0M127.4 118.9h0M142.4 140.3h0M102.1 128.7h0M144.2 111.7h0M171.3 120.5h0M178.7 126.8h0M150.1 130.0h0M113.7 131.8h0M136.9 121.2h0M126.4 116.2h0M116.6 120.8h0M129.7 137.2h0M172.6 132.3h0M161.5 98.7h0M112.6 130.0h0M88.6 126.2h0M121.7 118.9h0M116.3 86.1h0M104.5 132.3h0M125.8 136.2h0M166.7 139.1h0M91.8 138.8h0M184.4 139.7h0M149.4 86.3h0M112.3 129.1h0M113.2 136.1h0M152.0 139.4h0M156.8 117.1h0M160.6 119.9h0M168.7 138.1h0M125.7 132.1h0M127.5 44.9h0M168.2 121.6h0M123.7 128.9h0M151.6 131.7h0M117.5 139.8h0M135.1 130.1h0M131.5 135.8h0M111.2 117.5h0M173.5 135.7h0M184.9 132.4h0M150.0 126.5h0M132.3 140.1h0M164.9 126.4h0M133.8 109.1h0M111.7 129.4h0M84.0 129.8h0M159.7 136.1h0M167.3 140.1h0M141.0 134.0h0M136.8 138.0h0M143.0 128.0h0M142.1 134.1h0M84.3 133.9h0M131.8 120.2h0M142.5 123.2h0M126.3 67.2h0M147.3 131.3h0M101.8 133.6h0M118.5 133.4h0M94.8 132.9h0M181.1 138.1h0M149.6 126.3h0M82.4 134.3h0M181.2 132.1h0M138.3 134.8h0M158.3 140.0h0M126.5 118.2h0M151.4 135.1h0M139.8 127.5h0M134.5 121.2h0M148.5 139.3h0M132.0 137.9h0M101.2 111.4h0M114.2 127.8h0M83.0 125.3h0M117.3 136.4h0M110.4 125.1h0M135.1 129.2h0M121.4 129.0h0M71.5 139.0h0M164.1 122.1h0M164.1 124.5h0M176.1 138.6h0M107.1 115.1h0M174.8 139.9h0M132.6 120.9h0M147.5 136.3h0M151.8 130.1h0M91.1 111.7h0M149.3 132.9h0M144.3 127.6h0M128.7 136.8h0M141.3 139.8h0M126.0 137.2h0M109.7 126.8h0M100.5 139.6h0M137.1 137.4h0M159.2 72.6h0M124.8 122.1h0M174.5 134.6h0M113.5 138.8h0M104.4 132.4h0M108.1 129.2h0M115.9 122.1h0M100.3 130.6h0M129.8 97.2h0M173.0 136.5h0M115.0 135.8h0M95.0 127.8h0M173.6 136.0h0M87.8 128.0h0M93.7 72.9h0M134.3 129.2h0M103.6 137.4h0M127.1 135.4h0M89.3 124.7h0M139.5 129.3h0M169.3 125.8h0M178.3 139.1h0M87.2 139.8h0M110.5 110.9h0M144.8 134.6h0M159.9 123.9h0M100.6 94.2h0M170.4 126.4h0M117.4 108.4h0M125.1 133.9h0M104.6 139.8h0M118.4 72.8h0M127.0 65.5h0M109.3 129.1h0M150.1 128.4h0M141.0 95.7h0M98.3 130.6h0M80.7 137.4h0M168.4 122.3h0M148.5 131.0h0M97.1 139.5h0M171.9 126.2h0M119.7 136.6h0M166.3 128.5h0M105.3 133.7h0M102.5 132.7h0M126.3 65.2h0M125.5 120.5h0M133.2 140.3h0M89.7 138.9h0M146.9 116.9h0M137.8 140.5h0M133.3 131.4h0M89.8 136.1h0M133.7 138.0h0M133.2 126.3h0M127.4 104.5h0M154.5 126.8h0M146.1 133.4h0M139.9 132.5h0M78.4 139.0h0M126.2 109.0h0M145.4 114.4h0M136.4 122.2h0M117.6 136.4h0M176.0 125.2h0M158.3 137.9h0M148.6 127.4h0M181.9 137.5h0M149.1 120.3h0M180.4 125.5h0M112.3 122.9h0M174.8 135.4h0M151.3 130.5h0M126.4 128.7h0M85.9 133.3h0M145.2 129.1h0M173.9 134.8h0M80.6 140.2h0M170.5 138.5h0M94.9 137.9h0M139.3 134.3h0M113.0 131.6h0M82.2 135.6h0M91.6 138.9h0M178.1 138.1h0M116.4 136.2h0M171.9 137.4h0M142.4 133.4h0M126.6 137.6h0M97.0 128.2h0M80.5 138.1h0M99.7 122.9h0M98.8 127.9h0M126.0 139.1h0M127.1 135.7h0M175.6 136.7h0M123.3 108.3h0M137.9 124.0h0M138.8 119.4h0M182.4 132.0h0M84.2 127.9h0M152.2 123.8h0M110.0 119.5h0M165.5 136.0h0M84.7 118.7h0M80.9 137.5h0M117.0 130.7h0M159.6 104.7h0M126.3 123.6h0M151.1 128.7h0M116.3 124.3h0M142.9 139.4h0M130.4 136.4h0M137.8 131.7h0M101.3 137.7h0M137.9 117.7h0M99.4 135.1h0M137.9 120.9h0M182.4 133.1h0M85.0 123.7h0M112.8 136.6h0M110.1 120.1h0M93.8 126.4h0M135.5 124.4h0M146.1 94.2h0M109.3 139.3h0M101.5 139.8h0M107.5 127.4h0M138.5 104.0h0M159.8 129.2h0M86.4 108.7h0M85.4 129.5h0M116.6 90.7h0M140.1 137.3h0M165.8 129.9h0M95.6 137.1h0M173.5 137.9h0M183.5 137.4h0M132.4 139.2h0M107.9 106.5h0M120.9 133.7h0M102.5 138.2h0M96.5 122.5h0M179.2 136.0h0M97.7 90.9h0M162.6 137.1h0M127.7 140.2h0M155.6 118.1h0M145.1 126.4h0M109.1 134.6h0M94.9 114.3h0M160.6 108.7h0M183.3 114.7h0M132.7 122.0h0M139.1 139.3h0M133.9 139.9h0M78.5 137.5h0M178.1 131.6h0M132.5 137.6h0M147.8 137.1h0M135.8 136.0h0M162.1 130.9h0M133.8 139.7h0M145.5 139.3h0M90.4 119.6h0M97.9 135.6h0M183.1 125.7h0M172.3 136.3h0M91.0 139.5h0M179.3 136.7h0M151.4 120.5h0M169.7 112.2h0M126.9 135.6h0M178.5 132.1h0M135.9 139.8h0M108.2 127.0h0M123.1 132.1h0M116.5 120.0h0M163.3 135.9h0M105.9 140.3h0M105.1 139.9h0M85.7 138.9h0M134.3 107.3h0M130.1 139.3h0M132.3 116.4h0M89.6 138.6h0M108.8 130.3h0M133.0 138.0h0M153.3 131.6h0M88.0 135.8h0M157.7 130.8h0M178.5 136.6h0M140.7 65.4h0M110.5 119.0h0M107.1 136.4h0M99.5 106.6h0M122.3 133.0h0M107.8 140.0h0M163.4 102.2h0M155.3 132.0h0M137.2 123.7h0M152.7 117.1h0M89.3 139.5h0M78.8 137.2h0M153.7 130.3h0M82.1 139.9h0M114.4 124.3h0M146.2 102.9h0M108.8 118.9h0M167.1 131.6h0M141.0 126.6h0M105.1 88.2h0M126.3 132.1h0M110.9 139.1h0M107.3 130.7h0M82.8 122.2h0M106.2 139.5h0M104.4 136.1h0M159.5 130.5h0M166.2 88.7h0M127.9 124.7h0M92.0 139.4h0M161.8 138.8h0M178.0 138.5h0M96.6 135.1h0M115.8 92.9h0M156.0 125.6h0M108.9 137.9h0M97.9 115.8h0M107.9 110.8h0M101.7 130.8h0M119.4 118.7h0M140.0 121.5h0M91.2 137.0h0M98.5 135.7h0M123.7 123.2h0M103.4 136.4h0M98.2 121.5h0M134.9 130.7h0M91.4 119.3h0M78.2 127.4h0M191.6 131.6h0M158.0 136.1h0M139.7 139.6h0M175.1 130.9h0M128.3 106.3h0M132.5 132.4h0M81.7 92.6h0M144.4 121.3h0M133.2 113.0h0M112.4 139.7h0M170.3 129.7h0M146.3 87.1h0M187.3 97.9h0M125.2 136.6h0M93.0 112.9h0M127.4 139.7h0M139.9 74.3h0M183.3 116.8h0M173.6 135.0h0M169.1 66.8h0M120.0 128.5h0M182.4 90.5h0M96.8 103.2h0M90.6 114.6h0M117.7 85.4h0M108.8 53.5h0M135.2 66.3h0M153.5 104.6h0M97.6 59.0h0M84.0 108.6h0M88.1 114.6h0M75.9 114.9h0M195.9 136.5h0M103.7 62.8h0M90.0 128.8h0M75.9 139.5h0M135.7 127.9h0M177.7 86.3h0M85.3 137.2h0M165.5 66.1h0M143.9 129.7h0M142.1 135.0h0M149.4 137.4h0M97.3 87.5h0M138.2 125.8h0M131.8 114.7h0M111.3 122.1h0M169.5 49.8h0M174.2 118.6h0M122.4 113.6h0M127.0 106.2h0M175.4 119.6h0M156.2 92.4h0M97.2 134.9h0M153.7 119.0h0M76.3 132.8h0M153.5 78.0h0M80.7 120.8h0M181.9 73.5h0M191.5 120.1h0M145.5 66.2h0M92.7 72.0h0M139.9 83.8h0M140.4 78.5h0M131.6 91.8h0M168.3 100.5h0M118.6 51.1h0M169.1 134.1h0M157.9 110.7h0M169.6 132.9h0M107.2 83.5h0M192.8 108.5h0M124.4 123.9h0M94.3 114.7h0M160.8 132.0h0M113.1 74.4h0M85.0 89.8h0M139.1 82.2h0M113.5 90.3h0M168.7 89.6h0M161.6 136.6h0M125.2 99.0h0M101.9 123.8h0M105.1 109.9h0M114.3 93.7h0M97.5 98.6h0M192.6 138.7h0M101.6 116.1h0M130.8 76.6h0M95.4 128.0h0M82.7 111.4h0M80.4 95.6h0M128.5 68.3h0M133.1 97.6h0M141.8 61.6h0M96.6 95.6h0M138.7 103.3h0M180.6 117.5h0M138.4 79.0h0M134.2 106.0h0M119.1 122.1h0M183.0 117.9h0M181.1 122.8h0M154.7 105.5h0M92.8 122.8h0M173.0 39.5h0M188.7 116.2h0M112.9 102.5h0M99.9 128.2h0M159.7 120.0h0M91.2 128.0h0M105.3 72.9h0M100.2 129.1h0M158.1 115.3h0M179.1 105.1h0M122.9 86.2h0M182.8 137.7h0M130.0 88.6h0M190.9 125.8h0M171.5 77.0h0M140.8 109.8h0M127.5 104.1h0M193.3 136.7h0M93.6 89.8h0M178.5 122.9h0M98.0 126.2h0M155.5 42.8h0M164.4 67.5h0M141.3 121.8h0M174.8 108.5h0M136.9 101.4h0M123.1 124.0h0M86.8 132.7h0M97.2 131.5h0M163.7 101.9h0M144.2 90.9h0M192.1 138.4h0M128.4 100.5h0M132.4 130.9h0M119.0 89.5h0M85.6 116.5h0M157.8 123.4h0M161.5 121.6h0M143.3 86.1h0M134.7 119.6h0M107.0 135.1h0M145.9 80.6h0M180.4 78.0h0M73.8 124.7h0M101.0 86.5h0M154.4 103.7h0M177.9 86.6h0M115.3 99.6h0M195.9 126.4h0M94.7 100.0h0M123.7 77.4h0M194.8 125.2h0M191.2 118.7h0M193.2 123.7h0M97.7 105.5h0M187.6 93.0h0M160.2 107.8h0M133.2 106.4h0M159.4 137.7h0M129.8 95.9h0M103.8 55.9h0M82.4 139.3h0M149.8 108.0h0M188.6 139.6h0M99.1 140.4h0M137.9 91.1h0M153.0 131.5h0M145.3 59.0h0M74.5 130.8h0M100.4 116.4h0M161.0 90.7h0M111.7 91.1h0M96.1 139.1h0M96.0 125.0h0M114.6 138.9h0M116.4 120.2h0M85.5 134.5h0M181.3 114.9h0M77.7 132.8h0M146.2 85.7h0M134.2 82.3h0M103.1 85.5h0M149.1 79.0h0M184.9 101.3h0M105.7 134.9h0M184.0 79.3h0M181.9 140.0h0M155.3 106.1h0M81.7 102.4h0M86.7 132.2h0M128.4 79.0h0M100.0 120.2h0M156.3 104.1h0M101.3 123.4h0M176.2 104.8h0M133.9 119.1h0M157.5 137.4h0M134.2 72.9h0M188.0 130.6h0M136.3 130.6h0M129.8 77.4h0M123.4 76.7h0M86.3 90.1h0M122.4 63.3h0M144.0 103.0h0M103.5 89.7h0M162.2 71.3h0M93.1 114.7h0M154.8 48.9h0M176.9 115.6h0M113.0 128.3h0M141.8 84.5h0M121.8 74.9h0M155.3 80.7h0M114.3 122.3h0M173.7 114.4h0M128.8 131.4h0M94.1 87.5h0M165.2 110.1h0M105.9 122.8h0M117.9 44.2h0M141.9 103.1h0M94.8 123.5h0M125.0 123.6h0M142.1 58.6h0M120.6 137.0h0M82.8 93.9h0M143.8 116.0h0M126.1 122.8h0M109.1 139.6h0M107.5 120.9h0M195.5 126.2h0M162.1 97.8h0M93.2 92.2h0M88.6 110.8h0M175.9 134.8h0M175.3 132.5h0M184.8 130.9h0M85.5 97.6h0M140.7 100.4h0M155.4 122.1h0M182.1 131.1h0M72.4 135.2h0M161.1 62.3h0M130.9 123.2h0M107.1 126.8h0M183.5 130.6h0M188.4 85.5h0M111.4 112.8h0M102.3 115.5h0M188.2 128.5h0M141.8 118.8h0M93.4 125.0h0M107.7 55.2h0M188.0 128.1h0M86.6 75.3h0M193.4 133.2h0M94.9 81.0h0M145.5 128.0h0M138.1 121.7h0M133.5 93.2h0M138.8 106.0h0M124.8 51.6h0M115.8 123.0h0M123.0 139.8h0M146.0 139.9h0M94.9 127.0h0M81.5 137.6h0M126.2 119.4h0M171.2 138.4h0M92.1 108.7h0M149.1 83.3h0M124.3 69.2h0M140.1 135.8h0M114.1 115.5h0M121.2 107.5h0M75.3 133.9h0M94.4 77.3h0M194.2 130.5h0M127.3 139.9h0M134.1 74.9h0M143.6 83.5h0M156.3 95.1h0M172.6 117.4h0M83.3 139.0h0M87.1 108.4h0M134.7 133.4h0M174.2 136.4h0M123.3 116.8h0M177.9 123.3h0M164.1 92.5h0M143.0 108.7h0M124.0 81.2h0M87.7 128.0h0M155.3 122.0h0M94.8 107.6h0M170.8 140.4h0M140.1 98.2h0M131.1 61.2h0M187.7 121.1h0M137.5 101.0h0M157.0 65.3h0M143.4 86.4h0M113.2 117.9h0M103.9 113.3h0M141.0 116.3h0M111.0 98.3h0M180.9 139.9h0M122.0 85.9h0M126.7 79.8h0M166.0 98.2h0M159.8 138.6h0M104.3 88.9h0M103.6 117.6h0M79.7 101.5h0M139.2 129.4h0M82.6 133.6h0M185.4 102.6h0M78.4 118.0h0M160.2 104.2h0M80.0 136.5h0M180.1 113.1h0M91.3 109.6h0M168.7 128.4h0M119.0 110.4h0M195.2 131.6h0M128.6 83.6h0M124.0 133.7h0M95.8 133.2h0M94.1 74.6h0M150.6 30.9h0M73.6 127.2h0M171.6 116.3h0M85.7 112.4h0M75.9 123.6h0M121.2 84.4h0M115.5 131.0h0M94.5 127.9h0M183.1 69.4h0M122.2 131.1h0M163.3 136.9h0M141.1 42.7h0M146.0 136.8h0M88.1 134.4h0M133.4 134.7h0M168.7 105.9h0M89.7 82.4h0M158.5 120.4h0M100.0 115.6h0M105.7 138.7h0M154.8 89.8h0M127.5 93.4h0M88.0 109.8h0M112.4 40.4h0M149.8 107.5h0M152.3 117.6h0M140.7 82.4h0M97.9 110.6h0M106.1 119.6h0M128.3 107.9h0M184.1 121.5h0M175.1 89.4h0M85.1 125.3h0M89.2 93.6h0M104.4 114.6h0M153.6 46.7h0M188.6 132.3h0M146.7 41.1h0M90.8 111.2h0M116.8 132.2h0M87.1 119.1h0M177.9 125.5h0M132.4 91.8h0M99.5 108.2h0M92.9 91.8h0M168.7 66.8h0M95.8 78.1h0M125.1 80.2h0M141.2 108.8h0M116.4 140.0h0M142.0 136.8h0M154.0 82.6h0M122.8 56.7h0M154.1 75.2h0M99.3 84.3h0M131.8 83.2h0M136.8 111.1h0M131.4 110.8h0M132.1 91.6h0M125.7 116.9h0M192.6 126.2h0M150.3 100.8h0M106.5 108.1h0M89.3 87.7h0M140.6 116.2h0M170.7 120.5h0M81.6 136.6h0M115.2 120.5h0M135.6 112.8h0M148.4 119.2h0M179.6 132.2h0M136.4 92.6h0M172.7 130.8h0M97.3 130.2h0M154.9 96.5h0M110.5 66.9h0M111.8 60.7h0M146.0 118.9h0M86.4 138.9h0M157.6 74.6h0M134.1 108.2h0M123.1 102.4h0M117.0 138.2h0M129.5 138.4h0M193.0 107.4h0M184.8 125.5h0M121.1 114.4h0M140.7 84.6h0M83.8 115.8h0M165.3 131.0h0M165.7 112.3h0M195.4 132.5h0M131.0 31.7h0M171.1 136.1h0M168.5 80.0h0M98.3 88.6h0M100.4 80.9h0M158.3 106.1h0M159.5 71.1h0M142.7 76.5h0M183.1 137.1h0M136.2 116.0h0M174.7 105.7h0M152.7 78.7h0M159.7 93.2h0M110.8 128.9h0M184.7 128.3h0M173.9 130.7h0M165.8 125.1h0M138.7 76.1h0M111.4 139.3h0M170.2 136.5h0M184.8 102.6h0M77.0 117.8h0M88.2 134.5h0M102.8 114.1h0M187.9 137.6h0M94.7 140.3h0M134.4 63.2h0M144.4 90.2h0M89.2 132.3h0M193.0 104.8h0M184.8 94.4h0M144.1 72.4h0M188.4 132.6h0M178.0 118.2h0M139.4 103.9h0M148.7 117.6h0M157.6 95.1h0M120.0 68.2h0M188.9 132.1h0M194.2 113.5h0M139.6 118.7h0M167.5 95.3h0M96.3 136.7h0M121.4 125.3h0M86.1 83.3h0M146.1 77.7h0M172.3 110.3h0M141.6 131.9h0M155.1 95.3h0M194.1 118.1h0M143.3 106.4h0M115.6 80.7h0M82.5 120.0h0M86.6 136.4h0M92.0 113.7h0M163.4 134.6h0M185.7 115.8h0M148.5 70.5h0M152.9 137.9h0M162.0 93.7h0M166.6 106.1h0M141.2 43.4h0M156.3 67.1h0M189.7 122.1h0M120.7 109.2h0M160.5 114.8h0M169.5 124.7h0M137.4 79.3h0M185.5 105.2h0M170.2 65.3h0M162.6 128.7h0M154.2 104.4h0M121.9 71.7h0M130.4 54.8h0M118.0 118.8h0M86.4 97.7h0M119.6 111.2h0M134.6 115.5h0M86.3 120.5h0M147.7 138.0h0M149.5 79.6h0M139.5 81.3h0M114.7 119.2h0M144.2 117.4h0M180.9 80.3h0M158.7 127.3h0M119.5 66.5h0M158.9 107.3h0M182.8 101.0h0M120.0 124.6h0M112.7 90.3h0M141.3 42.9h0M151.9 104.8h0M185.5 113.3h0M164.1 109.0h0M103.4 138.2h0M124.3 77.1h0M103.8 128.2h0M103.8 132.6h0M140.9 125.7h0M173.5 131.2h0M109.3 74.5h0M140.8 69.9h0M139.2 74.7h0M93.0 134.3h0M86.0 130.0h0M173.9 98.2h0M140.7 104.1h0M147.8 87.7h0M179.5 107.8h0M76.2 134.1h0M160.6 68.8h0M84.0 87.4h0M88.5 117.4h0M85.4 132.8h0M100.1 91.5h0M145.3 104.4h0M102.3 105.3h0M125.4 128.3h0M189.5 100.9h0M193.6 114.6h0M107.9 114.6h0M184.9 115.0h0M96.2 77.4h0M107.8 133.0h0M100.0 76.0h0M168.9 133.1h0M157.6 130.8h0M175.8 100.2h0M92.7 131.4h0M98.7 73.6h0M133.5 139.0h0M175.4 127.0h0M87.4 105.1h0M174.9 87.2h0M105.1 88.6h0M135.7 33.0h0M120.2 99.5h0M188.5 131.2h0M128.0 85.1h0M92.8 113.1h0M120.0 83.8h0M108.9 80.6h0M159.6 84.9h0M136.9 81.0h0M117.6 134.1h0M168.7 56.5h0M163.3 122.2h0M158.0 131.9h0M130.1 72.1h0M135.9 105.2h0M243.7 139.5h0M209.0 136.9h0M234.3 139.6h0M211.1 134.6h0M221.9 137.5h0M193.5 132.9h0M228.9 137.7h0M222.2 139.6h0M185.2 130.5h0M195.4 132.1h0M191.5 137.4h0M217.0 140.4h0M219.0 135.9h0M255.4 138.0h0M211.6 137.4h0M187.6 139.7h0M232.3 138.7h0M197.7 134.5h0M220.4 135.1h0M180.7 139.7h0M180.2 137.3h0M190.2 136.7h0M180.8 139.5h0M209.3 138.1h0M196.7 136.0h0M202.9 134.8h0M192.4 135.7h0M181.6 135.8h0M176.1 135.7h0M221.6 138.2h0M245.0 139.2h0M215.9 140.1h0M189.9 137.1h0M237.0 136.9h0M197.4 131.6h0M216.2 131.0h0M202.4 126.4h0M244.0 136.1h0M186.3 140.5h0M212.0 139.2h0M179.0 106.4h0M212.2 137.6h0M212.0 129.9h0M196.6 133.7h0M245.9 140.2h0M207.8 134.6h0M249.8 138.9h0M198.0 139.7h0M229.1 139.8h0M175.6 133.0h0M228.6 137.1h0M208.9 140.5h0M187.3 128.0h0M176.4 136.9h0M200.8 139.8h0M188.4 137.4h0M254.5 139.8h0M188.8 130.7h0M181.7 131.0h0M196.2 138.2h0M217.3 139.3h0M177.1 114.3h0M243.2 136.3h0M220.9 138.4h0M232.0 136.9h0M205.1 136.2h0M196.8 139.4h0M213.1 137.2h0M186.4 135.1h0M231.0 138.1h0M206.0 138.1h0M177.0 135.4h0M243.3 139.7h0M215.7 140.5h0M218.2 140.3h0M187.5 130.5h0M234.1 138.3h0M195.7 136.8h0M197.5 137.6h0M214.7 139.3h0M209.4 136.4h0M255.0 140.1h0M187.4 139.8h0M234.1 134.9h0M199.6 135.7h0M210.3 110.1h0M216.4 140.1h0M224.3 133.9h0M234.3 139.1h0M238.5 137.1h0M231.7 137.7h0M222.9 137.2h0M205.6 138.7h0M208.7 131.1h0M194.2 139.5h0M227.3 139.5h0M245.5 139.3h0M238.3 139.4h0M213.1 139.1h0M198.0 134.6h0M204.9 131.7h0M182.0 135.6h0M249.4 140.5h0M226.3 140.1h0M222.1 138.1h0M235.9 132.4h0M236.5 140.1h0M211.0 134.7h0M202.0 128.3h0M238.5 139.3h0M201.2 118.2h0M238.9 139.8h0M214.6 140.2h0M190.6 135.6h0M224.6 137.6h0M207.9 135.9h0M211.0 138.7h0M199.6 136.5h0M234.8 139.0h0M200.4 139.1h0M192.8 135.4h0M184.1 134.3h0M193.0 139.7h0M208.7 129.4h0M212.3 135.3h0M233.8 139.0h0M202.6 137.3h0M205.8 127.7h0M183.7 122.1h0M229.9 136.8h0M178.4 136.8h0M194.5 124.3h0M193.9 138.4h0M208.1 138.0h0M199.9 139.8h0M183.0 128.3h0M175.8 139.2h0M177.1 139.9h0M222.4 135.7h0M207.2 139.5h0M181.3 129.9h0M195.9 135.5h0M215.9 139.1h0M240.7 140.5h0M216.6 135.1h0M207.1 130.2h0M226.4 128.2h0M210.4 140.3h0M208.7 138.0h0M187.5 135.4h0M238.4 139.2h0M189.9 136.7h0M224.0 140.1h0M214.7 134.8h0M243.2 139.5h0M189.4 136.6h0M233.7 138.0h0M225.5 139.5h0M198.4 139.4h0M184.1 140.4h0M236.3 138.7h0M217.1 139.8h0M206.0 139.5h0M184.2 137.8h0M236.5 139.0h0M254.4 139.2h0M229.6 140.0h0M207.7 138.3h0M229.0 140.0h0M245.1 134.4h0M213.0 140.4h0M220.1 140.1h0M221.2 139.6h0M199.9 120.7h0M225.7 136.8h0M208.2 137.2h0M207.7 138.4h0M215.0 135.7h0M223.0 139.3h0M219.7 119.0h0M182.1 137.5h0M195.2 134.1h0M207.7 140.2h0M242.9 137.9h0M195.3 128.4h0M228.2 139.4h0M188.7 139.3h0M190.9 139.4h0M181.3 137.3h0M234.0 138.9h0M196.4 135.3h0M212.2 133.9h0M182.4 139.7h0M229.2 139.4h0M194.8 132.3h0M206.3 139.2h0M184.3 116.1h0M196.6 138.1h0M184.0 123.5h0M180.4 139.8h0M224.7 125.4h0M202.3 123.2h0M175.9 135.6h0M199.7 136.3h0M178.0 129.7h0M241.5 138.7h0M202.7 130.8h0M210.7 139.1h0M212.9 140.1h0M175.8 138.3h0M186.7 133.3h0M204.6 134.9h0M190.3 136.1h0M234.1 133.4h0M217.8 139.2h0M185.5 135.6h0M176.5 139.4h0M243.8 133.8h0M196.8 126.8h0M244.6 139.5h0M238.5 138.8h0M244.4 138.7h0M185.1 128.6h0M193.3 137.2h0M181.1 124.3h0M175.6 139.8h0M176.6 138.5h0M208.2 133.2h0M251.7 139.6h0M219.8 128.8h0M253.8 138.7h0M186.7 140.5h0M180.6 132.8h0M228.7 138.7h0M252.9 140.1h0M214.7 129.1h0M196.7 132.1h0M197.5 133.6h0M197.9 135.2h0M215.1 137.6h0M188.0 132.3h0M221.1 134.1h0M225.3 138.9h0M185.1 132.8h0M179.1 139.2h0M183.5 134.8h0M175.9 137.6h0M211.0 134.7h0M207.8 138.2h0M190.0 127.7h0M209.1 137.7h0M222.4 139.2h0M176.3 133.4h0M193.0 131.9h0M213.4 136.6h0M194.3 140.2h0M217.1 139.1h0M183.4 115.0h0M192.5 134.9h0M193.0 134.8h0M216.6 140.4h0M181.1 133.1h0M189.6 126.0h0M183.8 112.0h0M243.7 137.9h0M233.6 133.2h0M198.4 131.0h0M181.2 140.0h0M184.4 139.8h0M214.9 134.2h0M179.7 135.5h0M222.3 138.6h0M227.1 139.7h0M201.0 137.5h0M187.8 134.3h0M228.3 135.2h0M186.4 137.1h0M232.9 140.3h0M232.3 138.6h0M235.7 140.0h0M239.4 137.5h0M180.6 128.4h0M178.4 138.4h0M222.3 135.0h0M202.1 139.2h0M243.6 140.3h0M223.5 139.0h0M208.3 138.1h0M183.7 137.7h0M235.7 136.9h0M197.5 139.2h0M217.5 136.6h0M255.0 138.8h0M236.5 138.8h0M234.6 139.4h0M187.3 136.5h0M215.0 140.2h0M222.2 135.3h0M216.0 133.1h0M187.3 132.4h0M179.6 133.7h0M228.4 138.5h0M224.5 136.2h0M243.3 138.3h0M187.0 139.9h0M205.7 138.4h0M190.1 133.6h0M202.8 139.3h0M253.9 134.4h0M198.0 138.7h0M202.6 136.0h0M177.8 135.1h0M201.8 132.6h0M176.8 129.5h0M217.7 140.4h0M188.7 136.2h0M227.3 138.7h0M176.3 138.8h0M204.8 136.9h0M183.1 140.4h0M212.4 139.0h0M205.3 136.3h0M198.7 133.7h0M187.4 137.2h0M228.7 138.9h0M177.5 118.7h0M230.1 138.7h0M212.2 131.3h0M189.9 132.2h0M212.5 137.8h0M193.5 133.0h0M211.7 121.5h0M180.2 119.2h0M243.9 140.2h0M215.2 135.1h0M206.9 139.4h0M239.9 140.5h0M218.8 139.8h0M189.1 139.7h0M217.7 133.8h0M228.2 133.2h0M227.2 137.6h0M237.3 129.6h0M235.1 138.6h0M181.3 135.7h0M210.5 133.5h0M180.5 134.8h0M258.5 139.5h0M188.3 136.6h0M238.1 136.4h0M220.5 133.2h0M191.7 122.3h0M177.8 140.3h0M250.2 139.5h0M229.8 138.1h0M186.3 137.8h0M196.9 130.5h0M202.1 134.1h0M185.7 135.5h0M222.2 137.4h0M223.9 139.7h0M219.5 136.5h0M204.4 139.2h0M188.3 130.9h0M192.7 132.7h0M181.6 133.4h0M231.6 139.9h0M179.5 122.9h0M205.0 139.6h0M204.1 138.9h0M187.8 139.6h0M189.0 137.1h0M176.6 139.4h0M241.5 137.4h0M206.0 128.6h0M239.9 137.8h0M232.7 138.1h0M188.4 135.4h0M202.4 139.8h0M205.0 136.9h0M202.1 140.0h0M191.2 138.3h0M200.4 135.9h0M255.9 140.0h0M181.5 74.0h0M175.9 101.3h0M179.5 138.1h0M239.8 140.4h0M190.5 134.8h0M254.6 139.8h0M216.0 133.0h0M195.0 123.5h0M217.0 140.4h0M243.8 138.8h0M178.6 135.9h0M235.6 140.2h0M221.4 136.7h0M233.9 138.2h0M187.8 138.4h0M187.6 139.7h0M250.4 137.3h0M211.4 136.6h0M198.4 138.4h0M205.7 139.7h0M179.2 130.7h0M222.6 137.9h0M215.2 136.1h0M181.4 134.4h0M226.0 135.9h0M233.7 139.7h0M203.8 139.7h0M194.5 140.2h0M227.1 134.5h0M181.5 130.2h0M181.1 125.1h0M204.4 132.4h0M205.7 134.5h0M203.7 139.1h0M191.0 113.1h0M197.2 140.0h0M185.7 115.8h0M203.4 120.2h0M218.5 126.2h0M196.7 104.7h0M186.2 115.4h0M235.7 136.6h0M191.3 109.8h0M197.5 112.7h0M236.0 124.0h0M185.2 123.2h0M209.7 104.3h0M184.2 126.3h0M201.3 132.4h0M184.7 101.3h0M212.7 127.2h0M237.1 127.4h0M202.9 103.1h0M214.2 115.3h0M202.1 130.8h0M194.7 124.0h0M199.0 120.3h0M202.5 127.6h0M235.0 126.3h0M198.0 103.4h0M204.6 111.3h0M194.3 118.6h0M234.2 130.7h0M199.2 128.0h0M203.0 99.9h0M206.9 124.7h0M205.2 105.3h0M224.0 116.1h0M235.2 123.0h0M185.7 103.5h0M198.5 117.0h0M203.8 101.3h0M212.9 109.0h0M202.6 107.4h0M191.3 132.2h0M216.1 115.0h0M201.0 52.8h0M209.4 51.3h0M240.2 47.8h0M215.9 81.4h0M251.4 85.8h0M263.1 103.9h0M226.2 105.2h0M236.8 117.6h0M248.0 119.4h0M256.2 126.0h0M257.8 128.9h0M188.4 83.5h0M195.5 92.4h0M204.6 90.4h0M210.7 90.4h0M199.6 109.5h0M206.6 109.5h0M213.1 109.5h0M194.1 102.9h0M119.6 23.5h0M87.7 64.3h0M84.1 80.3h0M80.5 91.9h0M98.1 59.7h0M105.1 54.2h0M107.8 44.4h0M112.6 30.5h0M126.9 31.9h0M133.5 25.5h0" stroke="#5b9bd5" stroke-width="2.8" stroke-linecap="round" fill="none"/>
<path d="M160.6 76.3h0M189.3 106.9h0M124.8 95.0h0M113.9 109.8h0M108.7 103.6h0M106.9 98.2h0M158.4 82.0h0M105.3 96.5h0M117.1 97.0h0M80.2 114.0h0M175.3 83.4h0M114.9 106.0h0M101.9 100.0h0M162.8 106.6h0M96.3 65.6h0M107.9 90.3h0M171.0 86.9h0M110.2 101.8h0M122.1 93.8h0M140.1 56.0h0M100.1 61.2h0M110.7 107.1h0M126.5 71.9h0M137.8 108.9h0M88.7 102.8h0M135.4 99.1h0M91.5 98.9h0M186.1 107.9h0M127.5 44.9h0M100.6 94.2h0M118.4 72.8h0M146.1 94.2h0M116.6 90.7h0M140.7 65.4h0M166.2 88.7h0M187.3 97.9h0M182.4 90.5h0M96.8 103.2h0M135.2 66.3h0M75.9 114.9h0M103.7 62.8h0M169.5 49.8h0M156.2 92.4h0M145.5 66.2h0M168.3 100.5h0M118.6 51.1h0M107.2 83.5h0M113.1 74.4h0M168.7 89.6h0M125.2 99.0h0M97.5 98.6h0M82.7 111.4h0M80.4 95.6h0M128.5 68.3h0M141.8 61.6h0M96.6 95.6h0M173.0 39.5h0M188.7 116.2h0M105.3 72.9h0M130.0 88.6h0M171.5 77.0h0M155.5 42.8h0M119.0 89.5h0M145.9 80.6h0M180.4 78.0h0M73.8 124.7h0M101.0 86.5h0M115.3 99.6h0M94.7 100.0h0M187.6 93.0h0M145.3 59.0h0M134.2 82.3h0M103.1 85.5h0M184.0 79.3h0M122.4 63.3h0M162.2 71.3h0M154.8 48.9h0M121.8 74.9h0M155.3 80.7h0M94.1 87.5h0M142.1 58.6h0M161.1 62.3h0M86.6 75.3h0M94.9 81.0h0M124.8 51.6h0M149.1 83.3h0M124.3 69.2h0M164.1 92.5h0M131.1 61.2h0M187.7 121.1h0M111.0 98.3h0M166.0 98.2h0M150.6 30.9h0M183.1 69.4h0M89.7 82.4h0M154.8 89.8h0M112.4 40.4h0M97.9 110.6h0M89.2 93.6h0M153.6 46.7h0M146.7 41.1h0M122.8 56.7h0M154.1 75.2h0M99.3 84.3h0M131.8 83.2h0M89.3 87.7h0M110.5 66.9h0M111.8 60.7h0M157.6 74.6h0M123.1 102.4h0M131.0 31.7h0M168.5 80.0h0M100.4 80.9h0M142.7 76.5h0M159.7 93.2h0M134.4 63.2h0M184.8 94.4h0M167.5 95.3h0M86.1 83.3h0M146.1 77.7h0M148.5 70.5h0M162.0 93.7h0M121.9 71.7h0M130.4 54.8h0M180.9 80.3h0M109.3 74.5h0M140.8 69.9h0M173.9 98.2h0M160.6 68.8h0M84.0 87.4h0M189.5 100.9h0M100.0 76.0h0M98.7 73.6h0M87.4 105.1h0M135.7 33.0h0M120.2 99.5h0M108.9 80.6h0M168.7 56.5h0M130.1 72.1h0M210.3 110.1h0M224.3 133.9h0M201.2 118.2h0M226.4 128.2h0M219.7 119.0h0M224.7 125.4h0M202.3 123.2h0M219.8 128.8h0M214.7 129.1h0M253.9 134.4h0M211.7 121.5h0M258.5 139.5h0M191.0 113.1h0M203.4 120.2h0M218.5 126.2h0M197.5 112.7h0M209.7 104.3h0M212.7 127.2h0M235.0 126.3h0M204.6 111.3h0M234.2 130.7h0M199.2 128.0h0M206.9 124.7h0M205.2 105.3h0M224.0 116.1h0M198.5 117.0h0M202.6 107.4h0M201.0 52.8h0M209.4 51.3h0M240.2 47.8h0M215.9 81.4h0M251.4 85.8h0M263.1 103.9h0M226.2 105.2h0M236.8 117.6h0M248.0 119.4h0M256.2 126.0h0M257.8 128.9h0M195.5 92.4h0M204.6 90.4h0M210.7 90.4h0M199.6 109.5h0M206.6 109.5h0M119.6 23.5h0M87.7 64.3h0M84.1 80.3h0M107.8 44.4h0M112.6 30.5h0M126.9 31.9h0M133.5 25.5h0" stroke="#3583d6" stroke-width="2.10" stroke-linecap="round" fill="none"/>
<path d="M445.2 10.4h0M448.2 14.9h0M327.4 23.9h0M325.9 28.3h0M328.3 28.3h0M436.3 28.3h0M440.4 28.3h0M444.7 28.3h0M439.5 32.8h0M443.2 32.8h0M445.9 32.8h0M442.4 50.8h0M447.9 50.8h0M448.2 59.7h0M444.7 68.7h0M447.4 68.7h0M451.6 68.7h0M459.2 68.7h0M457.2 73.2h0M458.6 73.2h0M469.3 77.7h0M460.9 82.2h0M480.9 82.2h0M469.8 86.7h0M474.8 86.7h0M471.1 91.2h0M474.8 91.2h0M471.1 95.6h0M473.9 95.6h0M478.2 95.6h0M487.9 95.6h0M487.9 104.6h0M485.2 113.6h0M489.9 113.6h0M334.9 118.1h0M336.1 118.1h0M337.3 118.1h0M338.5 118.1h0M339.7 118.1h0M340.9 118.1h0M342.1 118.1h0M343.3 118.1h0M344.6 118.1h0M347.0 118.1h0M348.2 118.1h0M349.4 118.1h0M350.6 118.1h0M351.8 118.1h0M353.0 118.1h0M359.1 118.1h0M360.3 118.1h0M361.5 118.1h0M362.7 118.1h0M363.9 118.1h0M365.1 118.1h0M366.3 118.1h0M367.5 118.1h0M368.7 118.1h0M369.9 118.1h0M371.1 118.1h0M372.4 118.1h0M373.6 118.1h0M374.8 118.1h0M376.0 118.1h0M377.2 118.1h0M378.4 118.1h0M379.6 118.1h0M380.8 118.1h0M382.0 118.1h0M383.2 118.1h0M384.4 118.1h0M385.6 118.1h0M386.9 118.1h0M388.1 118.1h0M389.3 118.1h0M390.5 118.1h0M392.9 118.1h0M394.1 118.1h0M395.3 118.1h0M396.5 118.1h0M400.2 118.1h0M401.4 118.1h0M405.0 118.1h0M406.2 118.1h0M407.4 118.1h0M408.6 118.1h0M409.8 118.1h0M411.0 118.1h0M412.2 118.1h0M413.4 118.1h0M414.7 118.1h0M415.9 118.1h0M417.1 118.1h0M418.3 118.1h0M419.5 118.1h0M421.9 118.1h0M423.1 118.1h0M424.3 118.1h0M425.5 118.1h0M426.7 118.1h0M427.9 118.1h0M429.2 118.1h0M430.4 118.1h0M431.6 118.1h0M432.8 118.1h0M434.0 118.1h0M435.2 118.1h0M436.4 118.1h0M441.2 118.1h0M444.9 118.1h0M446.1 118.1h0M447.3 118.1h0M448.5 118.1h0M449.7 118.1h0M450.9 118.1h0M452.1 118.1h0M453.3 118.1h0M454.5 118.1h0M455.7 118.1h0M457.0 118.1h0M458.2 118.1h0M459.4 118.1h0M460.6 118.1h0M461.8 118.1h0M463.0 118.1h0M464.2 118.1h0M465.4 118.1h0M466.6 118.1h0M467.8 118.1h0M469.0 118.1h0M470.2 118.1h0M471.5 118.1h0M472.7 118.1h0M473.9 118.1h0M475.1 118.1h0M476.3 118.1h0M477.5 118.1h0M478.7 118.1h0M482.3 118.1h0M483.5 118.1h0M484.8 118.1h0M486.0 118.1h0M487.2 118.1h0M488.4 118.1h0M489.6 118.1h0M490.8 118.1h0M492.0 118.1h0M493.2 118.1h0M499.3 118.1h0M500.5 118.1h0M501.7 118.1h0M502.9 118.1h0M504.1 118.1h0M505.3 118.1h0M504.4 118.1h0M508.6 118.1h0M334.9 122.6h0M336.1 122.6h0M337.3 122.6h0M338.5 122.6h0M339.7 122.6h0M340.9 122.6h0M342.1 122.6h0M343.3 122.6h0M344.6 122.6h0M345.8 122.6h0M347.0 122.6h0M348.2 122.6h0M357.9 122.6h0M361.5 122.6h0M363.9 122.6h0M365.1 122.6h0M367.5 122.6h0M368.7 122.6h0M371.1 122.6h0M372.4 122.6h0M373.6 122.6h0M378.4 122.6h0M382.0 122.6h0M388.1 122.6h0M389.3 122.6h0M390.5 122.6h0M391.7 122.6h0M392.9 122.6h0M394.1 122.6h0M395.3 122.6h0M396.5 122.6h0M397.7 122.6h0M398.9 122.6h0M402.6 122.6h0M403.8 122.6h0M405.0 122.6h0M406.2 122.6h0M407.4 122.6h0M408.6 122.6h0M411.0 122.6h0M412.2 122.6h0M413.4 122.6h0M414.7 122.6h0M415.9 122.6h0M417.1 122.6h0M418.3 122.6h0M419.5 122.6h0M420.7 122.6h0M421.9 122.6h0M425.5 122.6h0M426.7 122.6h0M427.9 122.6h0M432.8 122.6h0M434.0 122.6h0M435.2 122.6h0M436.4 122.6h0M437.6 122.6h0M438.8 122.6h0M440.0 122.6h0M441.2 122.6h0M443.7 122.6h0M444.9 122.6h0M446.1 122.6h0M449.7 122.6h0M455.7 122.6h0M457.0 122.6h0M458.2 122.6h0M459.4 122.6h0M460.6 122.6h0M461.8 122.6h0M463.0 122.6h0M464.2 122.6h0M465.4 122.6h0M466.6 122.6h0M470.2 122.6h0M471.5 122.6h0M472.7 122.6h0M477.5 122.6h0M479.9 122.6h0M481.1 122.6h0M482.3 122.6h0M483.5 122.6h0M484.8 122.6h0M486.0 122.6h0M492.0 122.6h0M493.2 122.6h0M494.4 122.6h0M495.6 122.6h0M500.5 122.6h0M501.7 122.6h0M504.1 122.6h0M508.9 122.6h0M510.1 122.6h0M511.3 122.6h0M512.6 122.6h0M513.8 122.6h0M517.2 122.6h0M522.9 122.6h0M333.8 127.0h0M335.0 127.0h0M338.6 127.0h0M350.7 127.0h0M351.9 127.0h0M354.3 127.0h0M359.1 127.0h0M360.3 127.0h0M361.5 127.0h0M362.8 127.0h0M365.2 127.0h0M366.4 127.0h0M368.8 127.0h0M370.0 127.0h0M374.8 127.0h0M376.1 127.0h0M377.3 127.0h0M382.1 127.0h0M383.3 127.0h0M395.4 127.0h0M397.8 127.0h0M401.4 127.0h0M409.9 127.0h0M411.1 127.0h0M425.6 127.0h0M426.8 127.0h0M428.0 127.0h0M431.6 127.0h0M432.9 127.0h0M437.7 127.0h0M438.9 127.0h0M440.1 127.0h0M441.3 127.0h0M442.5 127.0h0M446.1 127.0h0M449.8 127.0h0M451.0 127.0h0M452.2 127.0h0M453.4 127.0h0M454.6 127.0h0M455.8 127.0h0M457.0 127.0h0M467.9 127.0h0M469.1 127.0h0M496.9 127.0h0M501.7 127.0h0M503.0 127.0h0M513.8 127.0h0M515.0 127.0h0M516.2 127.0h0M518.7 127.0h0M518.6 127.0h0M529.3 127.0h0M342.7 131.5h0M345.6 131.5h0M354.8 131.5h0M357.9 131.5h0M370.7 131.5h0M410.5 131.5h0M413.4 131.5h0M419.8 131.5h0M425.5 131.5h0M426.9 131.5h0M429.0 131.5h0M443.9 131.5h0M480.9 131.5h0M486.6 131.5h0M492.3 131.5h0M495.8 131.5h0M498.7 131.5h0M503.0 131.5h0M508.6 131.5h0M512.9 131.5h0M517.2 131.5h0M353.1 136.0h0M371.6 136.0h0M505.8 136.0h0M512.9 136.0h0M517.2 136.0h0M521.4 136.0h0M372.9 140.5h0" stroke="#5b9bd5" stroke-width="3.0" stroke-linecap="round" fill="none"/>
<path d="M445.2 10.4h0M448.2 14.9h0M327.4 23.9h0M325.9 28.3h0M436.3 28.3h0M440.4 28.3h0M444.7 28.3h0M439.5 32.8h0M443.2 32.8h0M445.9 32.8h0M442.4 50.8h0M447.9 50.8h0M448.2 59.7h0M444.7 68.7h0M447.4 68.7h0M451.6 68.7h0M459.2 68.7h0M469.3 77.7h0M460.9 82.2h0M480.9 82.2h0M469.8 86.7h0M474.8 86.7h0M471.1 91.2h0M474.8 91.2h0M471.1 95.6h0M473.9 95.6h0M478.2 95.6h0M487.9 95.6h0M487.9 104.6h0M485.2 113.6h0M489.9 113.6h0M441.2 118.1h0M508.6 118.1h0M357.9 122.6h0M361.5 122.6h0M378.4 122.6h0M382.0 122.6h0M449.7 122.6h0M477.5 122.6h0M504.1 122.6h0M517.2 122.6h0M522.9 122.6h0M338.6 127.0h0M354.3 127.0h0M395.4 127.0h0M397.8 127.0h0M401.4 127.0h0M446.1 127.0h0M496.9 127.0h0M529.3 127.0h0M342.7 131.5h0M345.6 131.5h0M354.8 131.5h0M357.9 131.5h0M370.7 131.5h0M410.5 131.5h0M413.4 131.5h0M419.8 131.5h0M443.9 131.5h0M480.9 131.5h0M486.6 131.5h0M492.3 131.5h0M495.8 131.5h0M498.7 131.5h0M503.0 131.5h0M508.6 131.5h0M512.9 131.5h0M517.2 131.5h0M353.1 136.0h0M371.6 136.0h0M505.8 136.0h0M512.9 136.0h0M517.2 136.0h0M521.4 136.0h0M372.9 140.5h0" stroke="#3583d6" stroke-width="2.25" stroke-linecap="round" fill="none"/>
<path d="M69.6 304.5h0M70.7 291.4h0M94.6 297.2h0M107.1 284.2h0M108.2 278.6h0M124.0 287.2h0M134.6 268.2h0M140.4 294.6h0M146.2 259.5h0M147.6 271.5h0M148.7 279.7h0M155.1 283.3h0M155.7 275.7h0M158.5 254.0h0M159.4 265.7h0M161.8 289.4h0M153.5 231.6h0M160.5 207.8h0M162.8 222.6h0M164.0 230.2h0M175.1 189.0h0M179.6 196.5h0M169.0 201.7h0M182.4 211.0h0M177.9 217.7h0M170.4 225.5h0M172.4 226.1h0M176.8 227.9h0M180.1 229.6h0M182.1 231.1h0M168.5 250.5h0M176.8 249.6h0M179.6 256.0h0M170.4 272.0h0M187.9 274.3h0M199.0 270.8h0M176.8 281.3h0M195.2 286.2h0M205.2 281.8h0M174.6 295.8h0M211.8 290.8h0M217.1 296.4h0M268.9 302.1h0M261.5 287.1h0M268.0 303.7h0M247.5 265.1h0M235.9 243.6h0M262.8 288.8h0M267.4 302.5h0M237.5 248.6h0M256.0 284.1h0M266.3 301.0h0M252.1 285.2h0M263.7 293.1h0M269.2 300.2h0M250.4 270.3h0M268.0 299.0h0M268.4 300.4h0M260.7 282.9h0M248.2 295.7h0M255.9 285.3h0M257.6 287.8h0M247.7 273.6h0M271.6 306.8h0M266.9 296.1h0M268.4 298.6h0M263.5 292.8h0M256.3 273.9h0M262.6 289.2h0M272.7 306.3h0M244.6 264.6h0M269.7 304.2h0M255.6 288.9h0M263.3 304.8h0M258.9 297.0h0M269.5 301.1h0M263.4 306.4h0M266.0 299.7h0M253.3 272.3h0M265.3 302.5h0M272.1 306.7h0M267.5 300.5h0M265.9 296.7h0M265.4 294.1h0M268.3 299.1h0M263.8 301.8h0M261.6 284.5h0M262.2 289.9h0M270.1 303.7h0M265.5 306.5h0M267.0 298.2h0M231.4 255.0h0M259.5 282.9h0M269.4 300.1h0M254.7 275.9h0M264.7 298.0h0M258.7 282.5h0M269.8 305.6h0M270.6 306.7h0M271.3 304.5h0M262.5 299.0h0M264.2 290.9h0M246.0 266.8h0M258.8 278.4h0M269.6 305.3h0M266.9 305.2h0M258.7 280.3h0M251.4 277.7h0M266.6 296.8h0M258.5 285.9h0M266.7 299.3h0M259.8 289.0h0M269.3 298.6h0M256.9 286.0h0M263.8 287.5h0M241.9 261.7h0M264.9 302.9h0M267.0 306.1h0M265.8 298.1h0M271.2 304.8h0M267.7 298.9h0M242.8 279.4h0M265.2 304.0h0M260.0 280.8h0M269.7 303.0h0M260.4 283.0h0M253.8 278.5h0M234.6 251.9h0M260.9 282.9h0M270.2 306.5h0M269.1 303.5h0M267.8 297.4h0M251.8 274.8h0M263.2 291.5h0M263.6 296.7h0M270.7 306.6h0M264.1 296.1h0M268.1 300.2h0M238.7 276.4h0M262.7 304.7h0M259.4 278.6h0M248.6 260.6h0M268.9 299.4h0M266.8 303.9h0M263.9 289.0h0M257.9 279.9h0M262.2 287.0h0M269.8 302.9h0M271.1 304.3h0M239.7 269.6h0M247.3 251.6h0M272.1 306.7h0M252.6 287.6h0M247.4 265.8h0M269.9 304.3h0M266.7 299.0h0M257.3 283.6h0M266.4 295.1h0M270.7 304.2h0M268.2 305.4h0M249.7 262.8h0M258.7 278.0h0M266.9 302.9h0M269.7 300.2h0M267.6 296.0h0M243.9 261.8h0M251.2 283.2h0M265.4 296.2h0M259.7 281.8h0M270.5 306.8h0M261.8 295.3h0M267.1 301.4h0M260.1 301.3h0M256.7 287.1h0M270.4 305.5h0M266.1 293.5h0M264.7 292.8h0M245.6 255.9h0M267.3 299.6h0M271.6 306.2h0M272.1 305.8h0M256.7 272.1h0M259.1 291.5h0M269.2 302.6h0M248.9 278.0h0M267.8 305.3h0M264.8 291.5h0M239.2 247.7h0M267.4 306.5h0M270.2 303.4h0M263.2 293.7h0M251.6 274.4h0M252.2 270.9h0M265.5 293.2h0M270.6 302.7h0M246.8 253.8h0M256.9 289.1h0M270.4 302.5h0M271.4 305.6h0M271.0 304.9h0M264.4 288.7h0M271.1 305.9h0M271.5 306.4h0M270.6 306.7h0M254.2 279.0h0M266.1 301.1h0M245.9 261.4h0M261.8 284.9h0M261.6 290.5h0M267.2 295.7h0M254.8 277.4h0M257.4 292.3h0M253.5 276.6h0M267.3 299.5h0M267.9 300.5h0M265.3 293.3h0M264.7 305.8h0M270.1 302.2h0M265.4 297.7h0M265.0 297.7h0M252.7 277.2h0M259.8 283.5h0M265.7 295.7h0M248.6 281.7h0M268.6 302.2h0M265.6 303.2h0M265.7 292.1h0M257.6 274.1h0M257.9 287.5h0M265.1 301.2h0M259.9 283.5h0M264.4 293.4h0M267.6 302.3h0M265.1 294.6h0M259.5 281.5h0M269.5 304.4h0M262.4 293.3h0M271.6 306.3h0M263.7 289.4h0M269.5 302.2h0M265.6 294.1h0M267.0 297.3h0M260.0 299.5h0M267.2 296.2h0M258.5 293.8h0M241.1 254.1h0M263.0 291.3h0M260.6 294.7h0M253.6 274.7h0M255.2 271.7h0M261.6 289.3h0M265.4 301.3h0M260.0 289.5h0M261.8 303.2h0M262.2 291.5h0M271.1 306.6h0M266.7 295.5h0M267.3 303.4h0M272.0 304.5h0M255.6 270.0h0M256.5 286.2h0M270.5 304.8h0M258.9 283.3h0M271.0 304.9h0M267.4 301.4h0M263.6 297.4h0M264.8 294.6h0M271.2 306.4h0M266.5 305.6h0M269.1 305.4h0M259.1 288.4h0M269.4 301.3h0M262.5 293.7h0M266.1 294.8h0M257.6 279.9h0M267.9 297.1h0M241.6 284.2h0M264.9 300.0h0M240.8 247.6h0M267.3 301.4h0M265.5 299.1h0M266.3 295.0h0M265.5 297.6h0M267.5 300.8h0M261.1 282.3h0M263.5 298.3h0M261.1 283.6h0M255.7 281.6h0M268.8 302.5h0M257.5 275.0h0M245.7 273.3h0M268.5 300.7h0M264.4 297.8h0M264.3 288.7h0M258.3 283.4h0M254.3 282.8h0M271.4 306.4h0M266.1 299.0h0M259.1 294.3h0M270.0 303.9h0M268.9 301.4h0M267.4 300.0h0M266.7 301.9h0M269.2 301.2h0M266.3 302.1h0M264.2 297.1h0M259.8 281.1h0M267.0 299.7h0M256.6 278.2h0M255.6 273.4h0M264.9 294.9h0M269.2 304.0h0M252.3 283.4h0M263.1 304.1h0M259.2 283.6h0M268.1 304.4h0M271.4 306.4h0M259.5 289.6h0M255.3 272.5h0M259.2 283.2h0M259.6 286.1h0M268.1 300.2h0M260.9 283.7h0M253.7 268.1h0M253.1 265.1h0M242.1 262.4h0M259.5 285.7h0M259.2 283.8h0M268.7 300.5h0M272.1 306.3h0M270.2 306.5h0M264.8 299.8h0M271.8 306.6h0M258.7 278.6h0M265.0 301.1h0M262.4 288.5h0M267.7 305.1h0M251.0 276.3h0M271.4 306.6h0M244.3 288.7h0M265.0 292.9h0M269.1 300.3h0M257.4 287.7h0M268.6 297.7h0M255.1 280.6h0M251.6 276.7h0M267.3 301.8h0M245.5 282.1h0M259.9 289.2h0M264.9 302.8h0M248.7 284.8h0M261.5 284.4h0M254.6 271.7h0M264.2 295.2h0M263.8 298.0h0M265.7 294.1h0M269.4 304.4h0M262.7 292.3h0M254.5 293.1h0M271.6 305.6h0M266.6 300.3h0M263.8 301.3h0M257.1 279.6h0M271.6 306.4h0M267.2 296.6h0M257.0 281.8h0M267.0 296.5h0M264.5 298.9h0M270.5 305.8h0M251.1 263.3h0M265.5 295.4h0M260.8 281.2h0M269.3 302.3h0M266.8 296.4h0M266.1 297.9h0M269.7 301.4h0M262.0 291.1h0M258.8 283.3h0M270.1 305.5h0M260.3 282.2h0M253.8 279.5h0M262.3 300.7h0M262.4 303.9h0M271.0 304.8h0M257.7 280.7h0M266.4 300.3h0M262.3 290.8h0M270.1 302.6h0M265.2 301.9h0M241.1 262.4h0M267.6 306.3h0M241.7 253.6h0M266.1 294.3h0M243.0 259.9h0M269.8 306.4h0M254.9 285.6h0M270.1 304.3h0M257.8 301.1h0M251.2 261.2h0M262.1 292.0h0M268.2 298.6h0M257.5 284.3h0M235.3 264.9h0M253.0 287.8h0M260.5 278.6h0M265.7 299.7h0M271.4 306.4h0M256.3 287.1h0M267.9 303.2h0M267.1 300.1h0M268.9 304.5h0M255.2 282.2h0M262.5 285.9h0M266.4 293.1h0M267.0 299.0h0M269.3 305.1h0M243.0 268.2h0M259.4 282.5h0M269.6 301.6h0M269.7 301.0h0M268.9 302.3h0M265.2 293.5h0M263.3 294.5h0M260.1 283.3h0M259.2 282.6h0M260.7 289.1h0M255.9 287.2h0M271.6 306.3h0M265.1 294.9h0M266.4 298.2h0M270.9 306.2h0M255.7 274.5h0M256.4 286.6h0M270.7 304.7h0M266.1 297.0h0M264.5 300.5h0M265.1 293.6h0M266.6 300.8h0M266.9 302.0h0M268.0 302.1h0M257.6 279.2h0M260.5 292.0h0M263.9 299.5h0M270.9 302.5h0M259.8 288.4h0M262.2 301.1h0M238.8 260.0h0M266.7 301.0h0M259.4 286.5h0M254.6 273.5h0M259.0 282.4h0M268.5 305.5h0M261.6 291.7h0M264.1 294.5h0M268.0 300.4h0M270.0 301.3h0M268.3 296.0h0M255.9 294.1h0M258.0 289.5h0M260.0 286.3h0M258.4 277.1h0M260.2 286.4h0M269.6 304.0h0M267.7 305.6h0M266.6 297.0h0M266.6 304.8h0M258.8 290.0h0M227.5 272.4h0M264.1 291.7h0M270.2 304.8h0M258.5 282.6h0M259.8 279.7h0M270.5 302.6h0M267.0 296.1h0M263.5 291.0h0M272.8 306.2h0M243.0 285.9h0M270.0 301.7h0M270.0 305.0h0M268.9 300.7h0M268.3 300.7h0M243.6 254.7h0M271.5 306.8h0M252.0 280.1h0M272.2 306.4h0M266.7 298.1h0M271.4 306.7h0M259.1 279.3h0M260.0 284.2h0M255.3 288.2h0M249.2 286.5h0M266.8 306.2h0M260.7 289.9h0M252.7 272.3h0M266.6 301.5h0M261.8 295.9h0M266.3 294.1h0M267.0 302.9h0M249.0 253.1h0M253.9 266.9h0M254.1 295.5h0M251.5 278.3h0M259.9 285.6h0M258.9 304.1h0M265.3 301.7h0M262.4 291.2h0M247.4 283.1h0M265.5 293.2h0M265.7 295.3h0M254.6 286.3h0M265.9 295.3h0M259.7 301.3h0M268.6 301.5h0M203.4 256.5h0M267.7 301.5h0M269.0 303.5h0M256.8 286.6h0M263.9 306.3h0M265.4 293.9h0M269.2 298.6h0M268.6 301.7h0M263.1 289.5h0M254.9 282.3h0M254.5 290.6h0M264.2 300.5h0M252.7 292.7h0M256.8 285.8h0M271.2 305.0h0M263.8 295.2h0M268.3 301.5h0M270.8 306.8h0M265.5 298.0h0M266.1 296.1h0M266.2 303.1h0M262.8 293.2h0M253.4 283.3h0M268.1 300.5h0M262.4 285.7h0M266.1 294.2h0M257.0 294.4h0M259.3 290.7h0M250.9 290.3h0M269.4 301.4h0M260.6 288.7h0M261.9 287.8h0M267.4 296.3h0M265.1 301.1h0M233.9 275.8h0M264.8 296.7h0M243.2 260.0h0M256.4 281.9h0M266.9 294.5h0M267.6 299.7h0M256.8 291.4h0M270.9 304.8h0M272.2 306.5h0M247.7 261.1h0M256.1 283.0h0M267.2 306.1h0M267.2 299.3h0M255.4 283.1h0M271.0 305.2h0M252.5 286.8h0M267.0 298.9h0M262.1 284.9h0M253.4 266.1h0M263.4 295.4h0M259.6 287.4h0M270.9 304.9h0M250.2 264.9h0M265.3 302.5h0M269.3 303.6h0M270.0 301.4h0M253.3 277.3h0M256.6 285.7h0M267.3 297.3h0M266.6 306.1h0M267.2 304.9h0M267.2 299.5h0M265.4 298.3h0M271.5 306.7h0M259.7 278.5h0M259.0 281.9h0M270.7 303.8h0M247.8 293.2h0M271.2 305.6h0M257.2 294.8h0M258.0 285.3h0M269.6 302.1h0M263.0 287.6h0M261.1 290.8h0M270.3 304.4h0M262.2 298.9h0M265.6 296.2h0M266.8 294.6h0M267.4 305.6h0M257.6 283.7h0M254.0 270.3h0M265.0 300.0h0M270.1 306.2h0M252.1 284.3h0M258.1 276.2h0M260.6 293.3h0M248.7 262.4h0M267.5 301.8h0M269.3 300.9h0M260.6 291.5h0M270.2 302.1h0M261.7 296.5h0M258.2 279.9h0M269.5 302.3h0M272.0 306.5h0M256.3 294.3h0M259.4 299.1h0M267.3 298.8h0M248.1 272.2h0M256.3 280.8h0M259.7 289.0h0M255.2 279.8h0M255.8 277.2h0M242.4 283.7h0M271.0 303.8h0M269.3 301.6h0M269.6 304.1h0M267.2 304.7h0M270.7 305.0h0M233.0 259.4h0M270.8 303.9h0M259.5 293.2h0M270.5 304.5h0M258.1 276.7h0M267.0 296.1h0M268.7 305.7h0M270.6 304.5h0M247.0 280.9h0M261.3 293.0h0M251.7 271.0h0M269.4 305.6h0M262.4 298.8h0M247.5 260.3h0M258.9 293.2h0M254.2 274.5h0M251.2 279.7h0M271.8 304.9h0M271.1 306.6h0M256.0 280.1h0M251.7 281.9h0M269.1 299.0h0M252.7 279.1h0M254.6 278.0h0M235.1 258.5h0M263.9 295.6h0M246.3 252.4h0M261.4 294.0h0M262.3 285.9h0M259.2 292.2h0M269.4 302.7h0M269.7 302.9h0M265.6 303.7h0M267.3 296.8h0M254.5 291.6h0M265.9 293.5h0M266.8 305.8h0M261.2 302.5h0M267.5 300.9h0M263.7 299.8h0M256.6 280.6h0M258.2 285.7h0M247.6 268.0h0M256.8 283.5h0M259.9 295.2h0M266.7 297.9h0M258.1 298.9h0M267.1 297.4h0M264.6 298.4h0M260.7 286.2h0M255.2 279.9h0M250.9 283.2h0M268.6 305.7h0M263.1 288.0h0M261.8 299.5h0M269.2 305.7h0M258.9 284.9h0M270.0 304.3h0M267.1 296.9h0M269.5 301.4h0M270.8 302.9h0M270.1 304.3h0M244.5 270.1h0M268.4 302.2h0M270.8 303.9h0M253.7 280.5h0M269.6 302.0h0M267.4 296.5h0M267.6 300.6h0M271.1 306.3h0M247.8 256.1h0M270.2 306.6h0M262.6 300.3h0M262.1 288.1h0M263.6 290.2h0M271.1 303.9h0M265.9 293.2h0M250.3 285.9h0M266.4 301.0h0M265.2 296.5h0M247.1 256.4h0M250.0 260.4h0M270.8 305.4h0M260.2 279.9h0M266.2 301.4h0M269.9 304.1h0M243.1 251.8h0M263.6 290.5h0M269.1 299.9h0M263.2 302.1h0M263.4 293.4h0M269.2 302.9h0M269.2 301.9h0M263.9 291.6h0M269.6 300.9h0M266.8 302.3h0M237.8 248.1h0M263.3 292.1h0M265.3 301.1h0M266.3 302.5h0M263.3 303.9h0M246.1 252.2h0M259.4 283.6h0M270.9 305.1h0M259.3 280.3h0M250.9 290.9h0M251.6 271.1h0M269.7 302.6h0M254.4 282.6h0M270.1 301.7h0M268.9 306.7h0M259.1 296.5h0M264.7 291.6h0M261.1 285.0h0M261.9 292.5h0M258.6 278.7h0M254.0 273.5h0M257.7 285.7h0M266.8 299.7h0M254.3 288.1h0M264.0 298.0h0M259.5 278.4h0M268.7 304.1h0M243.6 265.2h0M269.3 306.4h0M267.5 305.3h0M262.7 290.3h0M266.9 301.3h0M255.1 286.1h0M260.4 284.2h0M269.8 304.4h0M267.2 302.2h0M265.8 297.8h0M270.5 303.0h0M252.1 264.3h0M255.5 290.1h0M248.0 280.6h0M265.7 302.0h0M266.0 299.4h0M271.4 306.6h0M266.0 293.9h0M272.1 306.5h0M268.8 298.9h0M267.0 306.7h0M270.3 306.4h0M249.6 279.9h0M266.7 299.1h0M257.5 295.2h0M270.0 305.5h0M266.2 293.5h0M261.5 285.4h0M264.9 296.1h0M259.5 290.6h0M270.0 302.4h0M265.7 296.6h0M255.3 274.4h0M250.1 263.3h0M264.0 297.0h0M270.7 304.4h0M254.9 279.0h0M261.3 286.6h0M254.8 280.6h0M269.1 305.6h0M260.6 299.4h0M250.2 264.5h0M253.5 267.1h0M261.7 300.1h0M268.1 297.8h0M262.3 292.2h0M250.5 278.5h0M251.8 267.6h0M264.7 292.4h0M263.5 300.9h0M271.0 303.5h0M266.6 294.8h0M262.7 288.0h0M272.0 306.5h0M270.9 305.4h0M266.7 294.2h0M264.3 289.8h0M266.4 303.7h0M266.1 296.6h0M264.7 304.2h0M258.8 276.2h0M258.0 278.6h0M248.2 290.0h0M266.1 304.4h0M244.5 265.5h0M268.5 301.4h0M271.2 306.2h0M238.0 258.3h0M268.0 300.1h0M261.2 292.9h0M268.5 304.0h0M269.1 300.2h0M256.8 277.4h0M266.2 300.4h0M238.9 245.0h0M267.5 305.6h0M254.4 276.1h0M252.7 271.0h0M251.8 279.0h0M266.9 297.8h0M268.2 296.6h0M249.7 266.6h0M271.2 305.9h0M251.4 271.1h0M264.3 290.4h0M264.0 293.9h0M263.9 291.6h0M263.3 290.7h0M255.7 270.1h0M266.0 292.5h0M269.2 300.4h0M270.0 304.6h0M256.8 293.6h0M270.4 303.3h0M257.2 304.0h0M261.6 286.9h0M269.8 304.2h0M250.1 286.1h0M266.9 298.8h0M239.4 281.6h0M268.1 302.8h0M271.4 305.5h0M257.2 275.6h0M249.6 271.9h0M255.7 277.2h0M254.3 285.3h0M264.2 296.7h0M266.7 295.3h0M266.7 301.0h0M243.9 270.2h0M272.4 306.8h0M259.5 282.9h0M261.2 305.7h0M262.6 286.6h0M257.4 282.6h0M266.1 299.9h0M269.5 306.1h0M265.5 306.0h0M269.8 302.1h0M263.7 298.5h0M267.7 305.6h0M252.5 264.4h0M263.3 290.3h0M265.2 291.8h0M257.3 283.6h0M259.6 284.2h0M251.3 281.0h0M262.3 294.9h0M270.4 301.4h0M270.0 302.6h0M266.8 296.2h0M272.2 306.1h0M263.2 288.1h0M268.6 303.6h0M261.6 283.7h0M260.5 296.0h0M255.1 273.4h0M266.2 294.5h0M267.6 301.7h0M253.6 265.6h0M265.8 297.7h0M270.3 305.0h0M266.3 300.1h0M250.6 278.7h0M264.5 291.1h0M268.3 306.6h0M259.2 288.0h0M261.7 286.0h0M233.8 255.8h0M262.1 291.1h0M268.8 302.6h0M256.3 274.8h0M270.0 305.4h0M269.5 303.0h0M267.8 299.9h0M263.4 297.9h0M258.5 285.6h0M269.7 302.0h0M265.8 292.8h0M261.2 285.8h0M262.2 286.2h0M268.2 299.8h0M264.4 289.1h0M251.9 266.9h0M250.6 277.0h0M268.9 299.5h0M259.5 297.3h0M252.8 272.5h0M268.4 299.7h0M266.5 299.7h0M255.9 283.9h0M262.7 287.8h0M260.9 291.7h0M266.0 298.1h0M248.7 268.8h0M261.1 286.7h0M270.4 301.4h0M254.8 281.9h0M263.5 299.2h0M245.4 267.7h0M269.5 303.7h0M268.6 306.0h0M255.8 276.9h0M258.0 298.2h0M268.3 302.3h0M268.6 302.0h0M247.3 274.8h0M265.6 302.0h0M265.6 300.6h0M250.1 262.5h0M269.9 306.8h0M267.5 300.3h0M267.3 302.7h0M268.9 306.8h0M266.2 303.5h0M241.1 249.6h0M259.3 279.6h0M265.9 297.3h0M269.0 301.1h0M270.8 306.0h0M262.5 296.5h0M255.7 271.7h0M269.9 305.6h0M259.7 289.7h0M257.8 290.1h0M271.4 306.2h0M265.3 295.6h0M256.7 293.7h0M242.6 252.5h0M260.7 283.3h0M269.8 305.4h0M265.6 304.0h0M268.2 299.1h0M254.2 276.7h0M265.9 296.9h0M256.7 280.0h0M263.4 295.9h0M259.0 281.8h0M262.4 287.7h0M271.2 305.7h0M267.3 295.8h0M271.9 305.4h0M271.9 306.0h0M271.1 305.8h0M268.6 300.3h0M254.8 292.1h0M262.1 296.1h0M263.5 295.0h0M267.2 293.6h0M264.1 292.3h0M268.2 297.9h0M266.5 293.7h0M252.5 284.1h0M265.2 298.9h0M249.9 258.3h0M268.5 297.7h0M244.1 291.5h0M253.6 269.9h0M268.8 303.6h0M267.8 304.8h0M263.4 288.0h0M265.1 298.4h0M261.8 285.4h0M268.7 304.4h0M261.7 285.6h0M246.6 286.6h0M267.1 301.0h0M265.7 291.7h0M265.7 296.7h0M258.5 274.5h0M272.5 306.5h0M266.9 297.0h0M269.3 303.9h0M258.5 302.9h0M258.7 295.3h0M266.2 297.6h0M255.7 274.1h0M268.7 306.3h0M251.2 270.4h0M267.5 303.7h0M268.5 302.1h0M238.6 248.7h0M262.8 290.6h0M265.8 299.5h0M268.8 302.4h0M254.8 297.3h0M236.7 247.6h0M259.1 286.3h0M254.1 301.3h0M255.5 269.0h0M258.4 294.4h0M271.2 306.0h0M258.9 278.1h0M261.9 288.0h0M267.7 303.6h0M271.3 306.4h0M267.8 297.5h0M268.0 300.8h0M263.2 299.6h0M261.2 289.4h0M268.2 302.0h0M241.8 255.9h0M270.9 302.8h0M268.4 299.1h0M247.1 260.3h0M240.3 247.9h0M271.3 306.0h0M270.1 304.0h0M271.0 304.4h0M270.3 302.1h0M255.2 280.0h0M240.3 267.1h0M258.2 280.9h0M268.9 305.9h0M269.8 304.3h0M272.4 306.8h0M267.8 299.6h0M271.8 306.0h0M268.9 300.9h0M272.3 306.7h0M265.8 292.5h0M271.8 305.8h0M271.4 305.6h0M272.2 306.7h0M271.9 306.3h0M272.2 306.5h0M263.7 295.1h0M267.1 297.9h0M269.0 300.0h0M268.6 304.4h0M269.9 305.9h0M258.1 304.9h0M270.7 304.6h0M272.0 305.9h0M268.1 302.2h0M266.4 304.1h0M264.4 291.4h0M269.3 303.5h0M270.6 303.5h0M268.6 299.4h0M271.8 306.1h0M272.3 306.7h0M269.7 302.2h0M263.3 298.3h0M272.2 306.7h0M271.3 306.5h0M272.0 306.8h0M263.4 303.7h0M269.5 302.0h0M272.0 306.6h0M267.1 306.7h0M249.3 299.0h0M271.5 306.4h0M270.3 304.1h0M271.2 305.9h0M270.3 302.3h0M272.2 306.4h0M272.1 306.4h0M270.5 305.2h0M267.3 299.0h0M270.2 301.9h0M268.6 299.6h0M272.2 306.5h0M270.5 304.3h0M271.2 304.2h0M272.3 306.8h0M269.6 306.0h0M269.7 304.1h0M271.2 304.8h0M271.8 306.2h0M271.5 305.0h0M269.1 303.5h0M271.4 305.1h0M264.6 292.7h0M267.0 301.4h0M272.2 306.7h0M268.7 301.9h0M270.7 305.1h0M264.0 291.8h0M272.1 306.3h0M272.4 306.8h0M266.1 300.1h0M260.4 282.4h0M271.0 304.4h0M262.7 292.6h0M266.3 303.1h0M271.5 306.8h0M266.5 306.0h0M270.5 304.1h0M272.1 306.3h0M270.8 305.7h0M263.7 288.6h0M267.5 303.6h0M261.5 292.4h0M272.2 306.7h0M269.1 300.1h0M269.6 305.2h0M271.3 306.8h0M271.0 305.3h0M268.8 303.2h0M264.7 302.0h0M272.3 306.6h0M259.8 286.9h0M271.7 305.6h0M270.8 304.6h0M270.1 304.9h0M269.6 300.4h0M267.6 298.5h0M270.6 305.2h0M269.9 304.0h0M269.2 306.7h0M270.4 303.1h0M267.1 301.4h0M260.6 290.4h0M272.0 306.8h0M269.8 306.2h0M270.3 304.9h0M270.4 303.6h0M270.2 304.6h0M271.4 306.8h0M268.7 304.7h0M269.5 301.3h0M270.7 305.5h0M264.9 292.1h0M271.5 305.1h0M271.3 305.9h0M266.7 296.2h0M269.8 301.9h0M269.8 301.1h0M270.6 306.2h0M271.2 306.2h0M269.3 302.9h0M267.4 303.6h0M253.1 305.3h0M259.8 286.9h0M260.7 303.4h0M254.0 287.7h0M249.8 263.1h0M263.8 300.4h0M265.0 298.4h0M261.6 286.4h0M256.7 277.7h0M245.8 295.9h0M241.2 251.7h0M241.5 275.7h0M238.0 252.1h0M254.1 294.0h0M262.3 301.0h0M265.5 303.9h0M264.8 296.3h0M233.2 295.4h0M264.4 303.4h0M259.1 296.0h0M240.3 288.4h0M240.4 277.8h0M230.7 287.8h0M241.4 268.0h0M257.2 293.2h0M259.9 305.5h0M254.9 295.4h0M261.2 301.9h0M242.4 282.0h0M255.1 298.8h0M247.5 303.6h0M257.5 300.1h0M260.3 290.8h0M249.9 294.7h0M227.6 246.0h0M245.3 279.0h0M254.5 292.4h0M244.9 272.8h0M232.1 282.7h0M259.1 305.9h0M257.4 300.5h0M256.4 302.6h0M243.7 269.5h0M236.8 293.3h0M258.3 295.4h0M235.0 265.0h0M252.8 282.1h0M236.1 279.1h0M231.8 262.7h0M264.0 303.7h0M239.2 301.2h0M248.3 290.4h0M238.9 265.2h0M259.1 287.5h0M250.7 266.5h0M261.7 304.4h0M253.3 296.3h0M258.0 287.0h0M243.0 279.0h0M237.5 264.4h0M259.0 303.1h0M264.9 302.6h0M240.9 295.9h0M251.4 267.9h0M238.1 282.4h0M256.5 303.6h0M258.5 302.8h0M240.7 242.4h0M228.2 288.1h0M263.7 298.1h0M253.1 293.4h0M230.6 247.8h0M240.6 286.0h0M262.7 304.0h0M260.6 294.5h0M234.8 243.9h0M253.8 280.5h0M246.7 290.5h0M261.7 303.4h0M257.1 291.7h0M256.8 286.1h0M256.3 289.1h0M262.0 298.0h0M248.7 294.8h0M236.6 274.8h0M237.9 267.9h0M248.1 288.1h0M242.7 268.4h0M259.9 287.3h0M257.8 287.6h0M242.9 286.2h0M256.2 296.0h0M261.8 291.1h0M251.8 298.4h0M264.1 301.2h0M260.0 298.8h0M230.7 263.2h0M264.6 300.7h0M238.8 281.4h0M234.3 254.7h0M246.7 304.1h0M259.5 294.1h0M252.5 271.8h0M226.0 238.0h0M264.5 302.9h0M246.7 275.4h0M245.4 274.7h0M264.4 299.9h0M232.2 240.9h0M253.1 298.1h0M243.6 294.4h0M249.9 278.8h0M263.3 296.0h0M256.7 294.4h0M253.6 297.0h0M240.9 286.2h0M260.1 305.5h0M246.3 297.2h0M249.1 273.0h0M250.8 285.0h0M255.0 302.9h0M256.6 294.1h0M258.6 302.3h0M249.1 271.7h0M251.3 288.4h0M256.2 282.1h0M235.2 298.8h0M261.4 289.6h0M250.7 300.1h0M248.8 284.4h0M246.2 268.2h0M246.1 263.8h0M239.0 296.3h0M233.9 258.5h0M245.1 263.3h0M230.5 259.4h0M258.9 299.3h0M236.4 253.1h0M261.9 291.2h0M257.2 291.3h0M247.6 290.5h0M257.6 305.1h0M250.7 304.8h0M254.8 301.1h0M250.8 290.3h0M253.3 289.7h0M241.4 291.5h0M238.6 286.5h0M230.7 250.0h0M238.9 271.9h0M256.2 302.8h0M260.9 301.3h0M258.1 281.7h0M233.9 282.7h0M251.5 281.2h0M236.1 261.5h0M254.7 290.3h0M255.1 295.4h0M251.8 289.5h0M235.9 294.9h0M242.3 274.3h0M263.2 302.2h0M253.1 299.1h0M260.1 286.3h0M249.1 297.3h0M251.1 291.2h0M253.5 300.2h0M264.3 304.8h0M261.7 304.7h0M252.9 274.3h0M265.3 306.0h0M240.4 287.5h0M237.5 275.9h0M256.6 305.0h0M236.8 283.6h0M253.2 271.9h0M258.5 290.2h0M241.7 258.5h0M255.4 287.3h0M257.0 292.2h0M254.4 276.6h0M250.0 268.8h0M251.5 302.2h0M256.0 294.3h0M240.5 275.3h0M261.2 297.9h0M239.1 271.5h0M261.9 295.7h0M262.0 302.9h0M234.9 284.4h0M260.2 300.8h0M262.3 296.1h0M244.0 285.4h0M256.2 298.9h0M245.5 300.9h0M232.9 276.4h0M256.6 291.7h0M250.6 298.7h0M260.3 292.0h0M241.9 276.7h0M241.5 300.2h0M264.6 302.8h0M260.5 299.1h0M258.4 300.1h0M233.2 295.2h0M245.8 293.4h0M247.9 279.3h0M243.6 277.4h0M259.1 295.1h0M262.4 296.2h0M249.7 272.8h0M234.2 257.4h0M260.7 287.1h0M258.9 305.1h0M265.1 296.4h0M252.0 296.1h0M253.5 272.7h0M250.6 266.6h0M244.0 255.9h0M236.9 232.8h0M248.5 285.2h0M260.7 288.2h0M244.4 282.5h0M261.0 300.1h0M262.7 300.0h0M244.3 290.0h0M265.3 300.5h0M235.9 239.2h0M262.1 301.1h0M238.6 287.3h0M237.6 230.8h0M228.7 209.2h0M232.7 223.6h0M226.9 216.3h0M237.2 247.4h0M241.9 240.7h0M236.3 229.1h0M227.1 243.9h0M217.1 199.7h0M236.8 220.2h0M241.2 238.3h0M225.4 243.5h0M237.3 214.9h0M233.9 222.6h0M235.7 218.5h0M212.4 203.0h0M243.6 244.3h0M228.7 231.6h0M220.1 219.2h0M227.9 217.5h0M247.6 251.9h0M243.3 249.2h0M236.3 249.7h0M233.2 212.5h0M226.0 216.9h0M242.5 243.3h0M218.9 199.9h0M237.4 217.2h0M225.9 240.6h0M225.3 216.5h0M229.4 205.9h0M235.7 235.7h0M237.2 244.2h0M247.4 253.6h0M227.8 217.4h0M228.4 220.7h0M240.1 234.1h0M223.0 206.2h0M234.4 236.5h0M240.1 240.3h0M231.3 247.6h0M231.6 214.9h0M234.4 215.6h0M208.1 198.2h0M236.7 218.6h0M235.9 236.6h0M230.6 227.0h0M218.5 224.1h0M222.4 202.2h0M208.0 238.1h0M234.2 293.1h0M212.3 214.8h0M227.6 205.8h0M214.5 271.0h0M237.1 244.5h0M230.8 294.6h0M227.7 259.7h0M209.0 235.6h0M211.5 196.5h0M236.2 252.6h0M229.5 279.2h0M207.6 195.8h0M230.9 234.8h0M223.4 240.4h0M226.3 205.4h0M227.3 248.3h0M225.1 218.8h0M226.3 252.5h0M215.9 273.9h0M235.2 269.5h0M220.8 214.8h0M228.8 202.9h0M215.1 239.3h0M236.4 284.8h0M213.7 215.2h0M229.5 265.2h0M238.0 260.6h0M218.7 223.7h0M226.4 234.9h0M233.4 266.4h0M227.5 274.9h0M225.4 228.4h0M239.2 227.0h0M223.9 230.9h0M235.4 217.0h0M240.0 246.4h0M210.4 240.8h0M230.8 262.3h0M224.5 216.9h0M229.1 219.3h0M232.1 224.0h0M213.7 250.5h0M232.3 233.8h0M207.7 207.3h0M240.1 289.8h0M241.1 261.8h0M211.9 211.2h0M209.5 228.2h0M211.7 227.9h0M233.2 295.8h0M234.4 273.8h0M219.4 274.5h0M224.7 223.6h0M222.3 248.0h0M210.7 252.1h0M228.4 215.6h0M210.4 192.6h0M217.3 223.5h0M236.5 246.3h0M223.9 254.6h0M230.5 217.3h0M240.8 289.8h0M224.8 228.5h0M241.8 268.5h0M233.2 276.3h0M239.4 241.8h0M241.1 246.2h0M212.9 197.4h0M238.0 269.8h0M231.4 285.6h0M231.8 264.7h0M228.4 213.3h0M231.4 254.2h0M225.3 261.9h0M217.3 222.8h0M207.5 223.6h0M232.3 264.3h0M212.1 260.4h0M237.3 289.1h0M233.8 277.7h0M218.2 229.2h0M210.5 209.8h0M208.1 198.2h0M240.4 278.3h0M221.3 221.0h0M235.8 299.4h0M215.2 239.3h0M240.8 274.2h0M227.7 264.4h0M211.9 219.4h0M232.9 259.8h0M238.1 250.8h0M209.5 242.8h0M219.1 267.5h0M236.3 290.6h0M214.4 255.5h0M223.3 283.4h0M213.6 239.6h0M226.6 224.7h0M225.0 228.8h0M227.7 288.0h0M227.8 249.6h0M231.7 272.5h0M221.4 276.3h0M224.7 291.0h0M229.2 212.0h0M212.2 209.9h0M234.7 292.0h0M222.8 200.4h0M239.8 273.1h0M227.9 209.3h0M218.2 217.3h0M231.0 281.9h0M224.7 252.0h0M226.7 262.5h0M234.3 244.6h0M208.7 244.8h0M239.7 297.7h0M230.9 207.8h0M241.8 248.3h0M228.3 264.1h0M217.5 264.4h0M224.1 260.5h0M233.5 269.0h0M232.7 282.1h0M236.0 241.0h0M211.5 220.2h0M229.8 253.7h0M207.5 243.9h0M225.2 261.0h0M228.8 241.9h0M230.2 205.5h0M234.7 255.3h0M218.9 268.9h0M219.5 239.8h0M219.0 251.1h0M236.3 285.6h0M229.9 273.4h0M230.6 219.0h0M235.2 241.1h0M234.6 293.9h0M220.0 201.3h0M220.7 239.1h0M221.7 261.0h0M234.8 293.1h0M225.9 292.3h0M229.0 255.4h0" stroke="#5b9bd5" stroke-width="2.8" stroke-linecap="round" fill="none"/>
<path d="M69.6 304.5h0M70.7 291.4h0M94.6 297.2h0M107.1 284.2h0M108.2 278.6h0M124.0 287.2h0M134.6 268.2h0M140.4 294.6h0M146.2 259.5h0M147.6 271.5h0M148.7 279.7h0M155.1 283.3h0M155.7 275.7h0M158.5 254.0h0M159.4 265.7h0M161.8 289.4h0M153.5 231.6h0M160.5 207.8h0M162.8 222.6h0M164.0 230.2h0M175.1 189.0h0M179.6 196.5h0M169.0 201.7h0M182.4 211.0h0M177.9 217.7h0M176.8 227.9h0M180.1 229.6h0M182.1 231.1h0M168.5 250.5h0M176.8 249.6h0M179.6 256.0h0M170.4 272.0h0M187.9 274.3h0M199.0 270.8h0M176.8 281.3h0M195.2 286.2h0M205.2 281.8h0M174.6 295.8h0M211.8 290.8h0M217.1 296.4h0M227.5 272.4h0M203.4 256.5h0M253.1 305.3h0M236.1 279.1h0M239.2 301.2h0M226.0 238.0h0M232.2 240.9h0M243.6 294.4h0M230.5 259.4h0M250.7 304.8h0M251.5 302.2h0M245.5 300.9h0M241.5 300.2h0M237.3 214.9h0M212.4 203.0h0M228.7 231.6h0M233.2 212.5h0M225.9 240.6h0M240.1 234.1h0M223.0 206.2h0M231.6 214.9h0M230.6 227.0h0M208.0 238.1h0M214.5 271.0h0M230.8 294.6h0M227.7 259.7h0M209.0 235.6h0M229.5 279.2h0M207.6 195.8h0M223.4 240.4h0M215.9 273.9h0M220.8 214.8h0M228.8 202.9h0M226.4 234.9h0M227.5 274.9h0M239.2 227.0h0M223.9 230.9h0M213.7 250.5h0M207.7 207.3h0M219.4 274.5h0M222.3 248.0h0M210.7 252.1h0M210.4 192.6h0M223.9 254.6h0M207.5 223.6h0M212.1 260.4h0M218.2 229.2h0M214.4 255.5h0M223.3 283.4h0M221.4 276.3h0M218.2 217.3h0M230.9 207.8h0M217.5 264.4h0M228.8 241.9h0M219.0 251.1h0M221.7 261.0h0" stroke="#3583d6" stroke-width="2.10" stroke-linecap="round" fill="none"/>
<path d="M329.5 271.5h0M330.7 272.1h0M355.3 279.7h0M368.2 282.7h0M369.4 281.3h0M385.6 282.7h0M396.5 281.3h0M402.5 288.9h0M408.5 274.1h0M410.0 288.6h0M411.1 281.7h0M417.7 293.7h0M418.3 293.4h0M421.1 272.9h0M422.1 282.5h0M424.6 287.8h0M416.0 263.7h0M423.3 253.1h0M425.5 259.5h0M426.9 266.0h0M431.2 260.1h0M432.8 265.2h0M437.6 266.0h0M440.4 269.3h0M443.2 270.1h0M445.2 272.9h0M426.3 270.9h0M431.2 277.7h0M435.4 278.2h0M438.9 281.9h0M441.7 283.3h0M443.2 284.1h0M433.4 288.8h0M436.6 292.3h0M438.9 292.3h0M451.5 260.1h0M433.4 240.5h0M442.6 251.1h0M427.4 285.6h0M429.7 282.3h0M521.6 181.9h0M529.1 185.4h0M515.9 188.2h0M502.4 195.2h0M522.9 197.2h0M525.7 190.9h0M517.3 204.0h0M504.7 209.2h0M495.0 212.9h0M483.7 217.6h0M507.6 221.9h0M498.4 225.2h0M468.4 230.2h0M487.9 230.2h0M473.8 241.5h0M478.1 239.4h0M461.2 246.4h0M465.2 257.8h0M458.4 267.6h0M462.9 270.9h0M468.7 274.1h0M472.7 261.9h0M524.2 269.6h0M527.4 257.1h0M536.1 282.3h0M527.9 254.3h0M522.0 248.5h0M532.2 219.6h0M526.7 262.9h0M526.0 248.0h0M533.4 238.1h0M523.1 248.9h0M536.8 293.1h0M523.1 226.5h0M533.5 208.6h0M534.1 276.1h0M520.4 252.0h0M526.6 216.3h0M531.1 268.3h0M530.9 204.3h0M534.4 259.0h0M532.4 288.0h0M530.6 264.9h0M532.4 260.0h0M537.9 236.2h0M526.6 276.0h0M529.1 291.9h0M531.0 289.1h0M520.5 249.7h0M532.0 274.2h0M534.7 290.5h0M531.0 244.3h0M527.5 254.1h0M538.5 270.6h0M531.3 257.9h0M534.7 214.8h0M529.0 296.2h0M516.9 238.3h0M526.5 215.8h0M525.3 272.9h0M519.2 244.4h0M528.8 233.2h0M536.7 301.7h0M525.5 264.7h0M533.7 202.6h0M530.3 240.9h0M529.5 273.4h0M535.5 252.8h0M526.9 288.7h0M535.8 288.2h0M526.9 278.8h0M536.9 251.7h0M531.8 222.6h0M517.4 243.5h0M536.7 277.9h0M531.0 208.9h0M527.4 289.6h0M537.4 265.3h0M529.5 231.2h0M535.7 269.7h0M533.0 265.3h0M536.7 216.1h0M521.4 250.3h0M526.9 282.7h0M535.7 206.2h0M533.6 268.6h0M536.2 250.2h0M529.5 218.0h0M537.2 193.5h0M529.6 290.7h0M532.9 281.0h0M526.3 220.5h0M524.6 266.1h0M531.6 221.9h0M533.7 263.0h0M528.8 258.0h0M534.2 218.9h0M530.0 284.2h0M534.1 288.3h0M531.5 242.0h0M532.6 254.8h0M521.9 231.1h0M534.7 227.4h0M536.3 302.4h0M520.0 235.8h0M538.0 225.6h0M529.1 230.6h0M530.5 207.1h0M537.2 283.2h0M523.4 237.4h0M533.5 212.3h0M536.8 190.2h0M520.7 226.7h0M520.1 229.7h0M534.8 212.1h0M533.7 247.9h0M531.6 289.9h0M535.1 279.5h0M525.6 276.9h0M527.6 223.1h0M527.5 237.6h0M532.6 279.9h0M535.4 286.3h0M534.6 209.6h0M530.2 295.6h0M531.6 297.4h0M531.1 218.0h0M530.9 230.9h0M535.8 219.5h0M522.0 258.0h0M536.7 264.8h0M535.4 231.3h0M520.9 249.8h0M521.9 254.0h0M537.9 221.0h0M529.6 250.8h0M525.7 223.8h0M521.9 245.9h0M526.0 275.6h0M524.5 220.4h0M527.3 212.0h0M534.1 255.6h0M520.7 252.1h0M517.8 239.2h0M537.1 252.6h0M523.8 237.5h0M522.6 256.1h0M529.0 279.1h0M520.0 262.3h0M536.7 276.9h0M533.4 284.6h0M533.7 206.2h0M534.8 248.6h0M519.7 231.3h0M529.7 270.8h0M517.9 253.4h0M533.7 296.4h0M535.0 278.9h0M524.4 244.6h0M529.6 294.4h0M534.7 221.6h0M520.8 251.5h0M525.1 272.8h0M532.6 290.5h0M527.3 283.6h0M515.3 234.2h0M529.0 277.1h0M527.3 268.4h0M528.4 272.0h0M528.4 284.3h0M536.2 208.7h0M517.6 229.4h0M534.2 210.9h0M533.1 243.7h0M530.7 266.9h0M536.5 241.1h0M530.4 221.1h0M524.0 233.5h0M526.8 230.1h0M531.1 212.8h0M520.9 226.6h0M517.4 232.7h0M534.7 268.4h0M531.3 219.4h0M535.4 191.7h0M532.6 227.7h0M531.3 259.7h0M529.8 211.0h0M524.1 253.4h0M528.1 221.0h0M523.8 241.1h0M536.0 221.3h0M531.7 288.3h0M519.7 244.8h0M527.6 224.8h0M532.9 244.4h0M522.1 271.7h0M520.5 224.6h0M527.4 239.1h0M524.9 226.5h0M527.0 228.3h0M521.7 244.1h0M527.8 239.5h0M537.3 301.3h0M533.1 237.3h0M537.2 239.3h0M536.1 254.3h0M534.7 225.3h0M527.5 267.0h0M530.1 234.0h0M528.5 230.2h0M527.1 237.2h0M534.7 245.4h0M528.1 225.0h0M538.0 221.4h0M534.2 203.7h0M532.0 280.9h0M523.1 269.8h0M530.9 241.7h0M526.6 243.6h0M525.9 242.9h0M526.1 254.6h0M530.4 268.7h0M534.1 275.5h0M532.9 214.9h0M521.8 260.2h0M537.2 290.3h0M536.7 268.7h0M524.2 279.0h0M535.8 266.2h0M537.8 211.0h0M521.3 258.2h0M530.5 248.0h0M524.7 264.6h0M527.8 245.0h0M529.5 252.0h0M531.0 273.2h0M522.1 224.8h0M520.6 256.7h0M520.8 264.6h0M536.0 297.0h0M533.9 281.5h0M529.1 283.2h0M534.3 256.1h0M533.8 281.7h0M533.1 285.1h0M528.1 211.1h0M516.5 231.7h0M532.2 248.7h0M538.1 196.2h0M529.5 281.6h0M523.2 264.8h0M525.8 222.3h0M534.3 215.8h0M532.9 215.3h0M517.3 245.9h0M533.3 202.1h0M531.4 227.0h0M525.9 285.6h0M536.3 242.5h0M523.7 250.0h0M538.3 246.0h0M538.3 267.1h0M532.2 255.3h0M531.3 273.3h0M529.6 234.0h0M531.6 224.3h0M533.4 240.3h0M534.9 194.4h0M529.3 214.5h0M519.7 233.4h0M531.3 266.7h0M533.3 271.4h0M525.5 267.4h0M534.5 270.1h0M534.9 291.0h0M527.8 283.4h0M527.4 286.0h0M537.0 208.8h0M531.6 258.1h0M538.4 294.3h0M530.3 234.9h0M534.5 283.2h0M529.7 254.3h0M538.0 261.1h0M527.9 219.5h0M519.9 255.8h0M530.7 293.8h0M524.1 278.9h0M518.2 241.9h0M535.9 235.1h0M526.4 247.7h0M528.9 256.8h0M538.4 186.9h0M527.8 241.1h0M530.1 210.7h0M533.9 271.8h0M518.3 230.1h0M528.6 295.5h0M518.3 244.9h0M534.0 227.8h0M524.2 223.6h0M536.6 260.6h0M521.3 252.1h0M520.6 242.6h0M536.1 270.5h0M530.3 249.5h0M521.6 266.6h0M523.1 246.5h0M527.1 220.9h0M527.3 240.1h0M520.3 241.7h0M537.7 284.9h0M537.5 186.9h0M527.4 285.8h0M524.2 235.5h0M530.8 245.3h0M530.5 283.2h0M536.3 282.2h0M523.9 237.8h0M538.3 302.9h0M523.5 257.3h0M524.8 262.3h0M527.0 281.6h0M527.8 212.8h0M526.6 225.3h0M532.8 264.2h0M538.1 247.9h0M528.3 252.7h0M531.3 289.1h0M536.9 297.0h0M531.5 211.5h0M523.8 266.7h0M534.7 227.3h0M534.1 214.1h0M522.9 233.6h0M536.8 279.0h0M524.3 233.8h0M535.1 279.5h0M527.9 212.4h0M531.2 217.2h0M520.8 246.0h0M531.7 256.5h0M536.9 242.4h0M533.1 200.6h0M532.0 245.2h0M525.2 257.2h0M525.2 241.0h0M520.7 242.1h0M520.3 226.6h0M529.9 261.4h0M538.4 209.1h0M535.5 276.3h0M531.5 225.6h0M530.8 215.9h0M520.2 255.6h0M522.8 249.9h0M530.5 212.2h0M525.5 266.3h0M536.8 257.0h0M535.3 213.7h0M537.3 274.5h0M534.1 257.4h0M517.2 251.4h0M521.8 247.6h0M524.8 272.2h0M538.1 199.2h0M532.7 249.8h0M534.3 261.8h0M517.4 248.0h0M527.9 266.1h0M514.6 236.9h0M521.8 252.2h0M537.8 296.2h0M535.4 282.2h0M537.7 201.4h0M527.2 265.9h0M517.5 253.2h0M538.4 211.9h0M538.2 289.5h0M523.4 228.9h0M522.3 267.5h0M528.5 213.4h0M523.5 248.1h0M537.2 265.2h0M529.9 270.3h0M536.0 255.5h0M521.8 267.5h0M532.2 206.2h0M535.0 222.8h0M520.4 238.8h0M520.8 265.4h0M533.0 292.8h0M534.0 207.1h0M535.6 255.2h0M529.7 265.4h0M533.5 262.3h0M536.9 228.7h0M529.4 213.9h0M529.2 287.1h0M537.4 223.6h0M529.1 261.7h0M520.3 262.2h0M531.9 291.0h0M536.5 230.5h0M530.1 225.1h0M534.0 262.4h0M530.0 274.4h0M532.6 230.5h0M535.1 226.5h0M532.6 283.3h0M535.2 268.4h0M535.8 262.2h0M524.9 240.9h0M535.6 248.6h0M538.3 190.4h0M525.0 232.8h0M526.7 281.4h0M523.1 262.2h0M534.9 254.2h0M528.7 269.1h0M533.7 254.3h0M538.2 222.6h0M523.9 244.4h0M536.0 216.4h0M520.8 243.3h0M524.2 277.9h0M535.7 196.8h0M517.2 234.5h0M537.5 207.0h0M533.9 271.3h0M524.5 277.1h0M514.7 237.0h0M526.9 265.4h0M519.5 239.7h0M517.9 232.3h0M529.9 257.4h0M537.3 223.0h0M531.6 223.6h0M526.6 285.2h0M524.7 272.7h0M536.9 286.5h0M532.3 278.8h0M530.0 208.2h0M520.9 245.2h0M534.2 224.9h0M534.1 285.6h0M522.2 223.1h0M527.7 277.4h0M521.6 227.6h0M536.1 230.7h0M534.4 289.2h0M537.3 260.2h0M534.3 289.5h0M534.3 293.2h0M538.0 212.9h0M522.7 261.4h0M528.1 236.5h0M521.9 243.5h0M534.8 289.6h0M527.5 270.9h0M531.0 266.1h0M530.1 279.7h0M537.5 268.7h0M538.0 299.8h0M535.9 233.2h0M526.0 274.6h0M530.8 215.6h0M536.4 272.3h0M525.9 240.2h0M522.3 228.1h0M533.5 269.9h0M534.6 236.4h0M531.5 215.2h0M532.7 269.2h0M538.1 288.7h0M534.9 265.6h0M532.6 233.4h0M535.0 203.8h0M524.3 226.6h0M520.3 247.3h0M529.7 248.3h0M530.0 226.0h0M525.4 263.9h0M523.4 272.4h0M535.7 232.0h0M531.4 208.8h0M522.5 228.1h0M534.8 242.1h0M532.8 251.8h0M536.2 245.2h0M528.6 210.2h0M533.1 256.2h0M519.2 240.0h0M528.9 241.3h0M532.4 215.7h0M537.2 258.9h0M525.9 226.5h0M537.8 202.4h0M523.9 229.6h0M520.8 223.9h0M527.6 215.3h0M532.3 284.0h0M534.6 285.0h0M533.9 254.3h0M530.7 251.2h0M522.2 242.4h0M531.0 215.1h0M531.1 227.1h0M518.2 242.8h0M524.7 222.6h0M533.4 245.2h0M531.0 245.6h0M520.8 253.4h0M526.4 236.7h0M535.0 209.1h0M531.6 249.9h0M532.3 270.4h0M532.9 253.8h0M531.8 209.3h0M527.2 265.1h0M537.3 304.2h0M525.0 233.2h0M535.1 295.2h0M529.6 245.3h0M534.1 221.5h0M535.7 275.3h0M538.2 299.6h0M524.7 264.2h0M536.6 224.5h0M523.6 252.0h0M529.6 295.9h0M533.5 216.4h0M527.3 244.1h0M534.4 247.7h0M533.8 244.1h0M538.5 296.2h0M533.6 242.0h0M520.8 237.3h0M514.9 238.3h0M536.4 302.6h0M515.4 241.8h0M523.0 240.1h0M538.0 290.1h0M530.1 277.8h0M531.2 277.2h0M533.0 251.5h0M536.6 257.6h0M524.2 278.4h0M521.2 240.6h0M529.4 210.6h0M532.3 244.5h0M524.9 245.3h0M528.7 267.1h0M522.9 238.1h0M529.3 244.6h0M523.2 271.1h0M528.8 256.9h0M528.4 207.8h0M529.3 280.0h0M523.9 243.6h0M530.5 244.0h0M535.6 226.7h0M524.0 243.0h0M536.9 218.5h0M538.1 277.6h0M533.8 271.4h0M520.2 252.2h0M532.2 223.2h0M536.9 206.7h0M522.3 223.5h0M526.6 212.7h0M535.9 224.6h0M533.5 273.8h0M523.3 275.2h0M530.4 255.3h0M537.6 210.8h0M527.5 286.7h0M526.4 226.8h0M530.8 250.7h0M522.5 228.2h0M535.6 203.0h0M525.5 280.0h0M529.7 254.1h0M521.3 225.0h0M537.5 197.3h0M526.6 241.5h0M534.2 204.3h0M537.0 217.1h0M536.4 250.6h0M524.5 225.0h0M537.6 294.1h0M535.7 253.6h0M524.8 232.1h0M531.0 219.9h0M527.2 213.5h0M524.8 225.5h0M520.0 245.3h0M538.4 199.6h0M527.6 211.4h0M518.8 235.8h0M529.1 260.6h0M518.4 232.6h0M534.4 208.8h0M526.8 217.9h0M528.0 262.7h0M533.9 261.7h0M527.9 238.3h0M524.7 250.5h0M523.9 276.5h0M536.0 242.8h0M536.4 208.9h0M526.0 266.8h0M534.0 217.7h0M536.0 203.9h0M524.9 246.0h0M525.3 214.9h0M524.7 264.2h0M532.0 277.4h0M521.2 222.3h0M535.5 206.1h0M521.5 255.0h0M536.0 208.5h0M530.0 250.4h0M537.7 240.7h0M527.4 243.8h0M525.8 250.0h0M534.7 264.3h0M520.6 266.1h0M526.0 222.2h0M522.8 232.8h0M526.0 227.0h0M530.8 221.9h0M535.3 215.3h0M524.9 269.2h0M535.4 211.4h0M531.3 293.4h0M532.5 234.3h0M518.3 231.0h0M534.8 277.8h0M529.7 278.9h0M530.2 292.2h0M525.8 223.3h0M534.4 225.4h0M517.8 248.1h0M538.4 192.7h0M530.5 268.0h0M534.6 277.0h0M533.2 263.8h0M517.1 251.8h0M536.6 257.9h0M523.7 229.7h0M532.8 279.3h0M536.8 202.6h0M519.9 229.9h0M538.3 251.4h0M535.2 224.1h0M532.7 203.6h0M532.6 268.9h0M517.8 237.5h0M517.8 236.4h0M530.7 215.5h0M514.8 235.3h0M534.4 272.6h0M537.3 224.4h0M527.2 288.7h0M533.1 221.3h0M537.2 302.4h0M534.4 213.0h0M525.1 272.1h0M534.7 248.1h0M530.6 282.0h0M522.0 231.6h0M537.2 213.7h0M521.6 243.7h0M535.8 264.0h0M518.3 256.2h0M525.7 235.5h0M522.5 251.7h0M535.4 210.8h0M536.6 225.7h0M537.1 296.0h0M529.1 252.3h0M531.1 264.1h0M530.6 290.1h0M531.2 221.5h0M530.9 241.9h0M536.8 229.9h0M514.3 237.6h0M522.4 240.9h0M533.3 197.2h0M521.7 266.9h0M526.9 229.8h0M520.1 253.9h0M529.9 267.6h0M530.4 290.0h0M536.1 293.9h0M528.9 245.0h0M528.3 268.3h0M532.4 296.0h0M518.2 252.6h0M533.8 251.0h0M536.0 261.7h0M537.1 298.3h0M527.1 234.0h0M521.8 247.6h0M533.5 261.0h0M537.6 260.6h0M529.6 255.1h0M529.8 251.3h0M531.6 269.6h0M528.0 241.5h0M521.4 253.4h0M523.7 241.6h0M529.6 224.4h0M531.0 275.2h0M526.4 277.9h0M527.0 262.6h0M520.0 229.2h0M532.3 259.4h0M529.4 250.5h0M532.8 214.2h0M530.5 286.9h0M536.6 227.8h0M536.5 278.7h0M529.4 251.6h0M520.3 231.0h0M537.3 191.0h0M537.2 197.2h0M535.0 253.0h0M531.5 222.4h0M533.7 246.5h0M537.3 197.5h0M529.0 256.9h0M537.8 280.8h0M532.7 277.7h0M530.3 223.0h0M534.3 225.0h0M529.5 265.0h0M532.3 232.8h0M537.1 272.1h0M525.3 224.8h0M532.0 275.0h0M533.9 245.3h0M518.5 242.2h0M525.3 217.1h0M533.6 208.6h0M531.4 296.4h0M524.0 217.0h0M531.3 257.2h0M534.8 278.5h0M518.5 236.9h0M538.2 211.4h0M527.5 270.0h0M536.0 238.1h0M537.0 295.6h0M527.2 248.8h0M526.7 267.0h0M516.5 241.2h0M534.4 218.8h0M522.5 265.5h0M526.1 262.5h0M524.0 238.5h0M534.1 221.6h0M528.0 259.7h0M525.3 276.8h0M522.1 259.9h0M528.1 268.0h0M525.2 259.0h0M523.4 260.1h0M536.2 294.1h0M531.3 260.0h0M523.7 262.5h0M535.2 257.6h0M520.9 259.0h0M531.2 228.0h0M538.0 276.2h0M517.1 237.0h0M533.3 244.1h0M538.1 277.7h0M533.0 240.2h0M535.4 200.8h0M533.8 275.0h0M532.6 211.7h0M530.8 279.6h0M527.0 258.3h0M525.6 231.3h0M527.5 283.7h0M525.7 281.9h0M536.3 270.1h0M520.6 241.1h0M528.7 250.2h0M518.3 233.8h0M528.3 292.0h0M520.0 224.5h0M530.6 211.1h0M521.7 263.8h0M532.0 244.4h0M535.4 226.3h0M526.4 216.5h0M528.4 243.0h0M522.8 269.9h0M532.0 216.5h0M526.0 226.3h0M529.4 291.1h0M517.9 245.1h0M531.8 272.9h0M524.7 268.7h0M534.1 199.9h0M535.2 226.1h0M529.2 295.8h0M538.1 259.2h0M536.8 280.4h0M526.9 224.3h0M525.4 236.4h0M535.6 261.1h0M533.3 296.6h0M537.7 294.5h0M538.1 260.6h0M529.0 277.1h0M525.6 238.2h0M529.4 284.4h0M525.9 284.1h0M523.4 246.3h0M535.2 282.5h0M533.7 235.2h0M517.8 228.8h0M514.2 242.6h0M536.3 282.6h0M537.8 232.6h0M517.8 241.4h0M525.2 252.6h0M533.2 232.3h0M525.9 262.2h0M529.6 254.5h0M536.2 207.0h0M525.3 251.9h0M523.9 273.4h0M538.2 275.1h0M537.9 237.6h0M538.4 279.4h0M518.3 242.9h0M532.6 270.6h0M522.0 271.1h0M532.1 222.2h0M527.2 265.1h0M521.8 250.1h0M521.2 260.9h0M536.8 288.1h0M532.4 219.3h0M532.7 250.9h0M529.8 245.5h0M516.7 241.5h0M528.7 283.5h0M534.4 242.0h0M537.8 268.6h0M531.4 254.3h0M524.6 220.9h0M537.7 193.3h0M521.7 254.4h0M526.7 258.4h0M529.4 237.8h0M523.9 236.3h0M527.8 227.2h0M538.2 255.9h0M519.4 240.4h0M534.9 292.7h0M535.8 238.3h0M528.4 249.4h0M530.1 262.1h0M531.0 204.0h0M538.0 218.7h0M529.1 285.0h0M536.0 259.4h0M537.1 244.4h0M538.2 285.6h0M534.7 293.0h0M513.7 238.9h0M529.9 234.8h0M526.0 247.6h0M533.1 225.0h0M528.7 263.9h0M532.4 200.6h0M538.2 219.9h0M531.4 286.6h0M537.6 249.1h0M537.1 235.8h0M528.9 271.4h0M537.5 273.8h0M533.2 232.5h0M532.6 286.0h0M525.4 249.5h0M531.5 294.8h0M530.7 229.8h0M529.2 251.2h0M535.0 259.3h0M525.3 251.6h0M523.6 220.3h0M531.7 295.4h0M537.1 212.4h0M516.3 234.2h0M524.5 259.3h0M530.2 224.0h0M528.9 245.1h0M534.2 215.6h0M515.8 234.7h0M536.8 214.6h0M523.5 240.7h0M528.7 276.5h0M536.4 243.5h0M528.0 266.2h0M528.1 259.5h0M521.8 247.1h0M527.9 253.3h0M532.4 206.5h0M532.7 209.6h0M528.5 212.0h0M525.5 256.5h0M526.2 250.9h0M536.5 231.2h0M522.6 246.0h0M529.2 222.8h0M532.7 277.7h0M535.4 201.6h0M521.7 240.9h0M516.5 239.1h0M529.4 209.7h0M530.1 288.0h0M537.4 211.0h0M529.4 222.9h0M535.5 224.5h0M523.8 223.8h0M534.3 230.4h0M533.9 253.1h0M524.6 280.9h0M514.9 234.9h0M533.8 245.3h0M529.8 256.8h0M528.0 288.7h0M535.1 277.5h0M531.3 218.7h0M529.3 289.6h0M534.6 291.0h0M528.5 224.9h0M535.8 276.9h0M521.9 226.4h0M532.6 250.7h0M533.6 254.8h0M527.0 234.8h0M530.5 222.9h0M528.3 233.6h0M536.6 234.8h0M526.6 273.1h0M513.5 239.2h0M529.0 276.5h0M515.7 247.6h0M529.1 245.7h0M518.5 231.2h0M520.0 231.4h0M527.1 237.1h0M530.8 271.3h0M526.6 211.3h0M524.3 229.0h0M529.9 252.7h0M536.9 278.6h0M528.1 225.5h0M533.8 233.4h0M527.9 290.1h0M527.7 240.0h0M524.5 240.9h0M538.4 270.3h0M536.6 251.6h0M531.4 291.8h0M526.4 252.3h0M531.4 276.5h0M534.8 260.1h0M529.1 247.3h0M520.9 260.7h0M534.3 273.7h0M519.9 259.9h0M515.5 245.8h0M514.4 236.3h0M533.9 294.9h0M526.5 268.9h0M528.7 281.4h0M534.3 218.0h0M534.4 243.7h0M530.1 234.1h0M533.9 274.0h0M522.0 236.4h0M536.9 208.9h0M537.1 297.9h0M535.8 191.3h0M529.0 277.9h0M534.4 232.1h0M518.5 244.6h0M520.6 258.8h0M523.9 261.0h0M538.0 292.9h0M535.3 254.9h0M532.8 206.3h0M534.6 240.2h0M532.8 246.6h0M537.7 249.0h0M526.7 239.7h0M528.7 249.2h0M521.8 222.0h0M529.6 242.8h0M534.9 293.4h0M530.1 237.5h0M537.6 295.1h0M534.4 232.7h0M533.0 254.0h0M536.2 243.0h0M528.0 286.4h0M517.1 231.9h0M528.1 259.8h0M522.1 223.1h0M531.0 294.0h0M532.8 219.8h0M516.7 236.2h0M533.6 271.8h0M536.2 266.0h0M538.3 265.3h0M525.3 240.5h0M521.7 251.4h0M515.8 244.6h0M536.0 196.9h0M524.1 258.2h0M526.2 218.4h0M533.7 265.8h0M537.2 254.9h0M535.3 243.4h0M535.0 258.9h0M534.5 211.9h0M535.7 278.9h0M527.5 238.3h0M524.8 244.6h0M522.7 221.3h0M526.6 211.4h0M525.9 254.0h0M535.6 248.7h0M536.8 295.5h0M528.5 282.9h0M532.3 280.6h0M528.6 284.8h0M530.4 209.5h0M530.6 279.4h0M526.4 215.3h0M518.6 230.7h0M526.0 252.3h0M522.8 228.9h0M523.1 265.9h0M538.0 232.4h0M526.2 268.9h0M520.4 230.4h0M536.3 297.3h0M533.9 233.6h0M524.8 226.1h0M538.5 266.8h0M534.6 298.3h0M527.3 233.3h0M531.8 287.9h0M535.1 271.0h0M531.5 249.0h0M521.7 222.8h0M523.2 238.4h0M534.8 284.0h0M536.9 274.9h0M524.9 251.7h0M531.2 239.6h0M538.4 257.3h0M528.7 285.9h0M533.0 249.5h0M534.4 210.3h0M529.5 262.2h0M520.1 227.7h0M531.1 270.7h0M538.2 255.4h0M529.7 284.2h0M537.7 255.3h0M521.1 244.3h0M530.5 214.5h0M514.2 242.7h0M536.8 203.5h0M527.2 215.2h0M531.4 275.9h0M520.2 257.1h0M536.4 266.8h0M534.3 279.8h0M521.7 223.8h0M535.1 280.5h0M523.0 268.1h0M532.1 241.7h0M529.0 208.6h0M533.1 277.5h0M535.2 198.7h0M522.4 251.1h0M536.0 232.6h0M528.4 211.7h0M532.4 220.1h0M532.9 280.7h0M533.3 197.3h0M532.7 265.5h0M537.9 288.7h0M533.9 265.4h0M535.5 200.8h0M528.4 236.7h0M521.8 233.4h0M537.1 241.0h0M535.4 239.9h0M528.0 241.2h0M527.2 254.5h0M527.0 281.9h0M526.5 248.4h0M527.0 242.1h0M531.9 258.4h0M525.3 262.6h0M528.4 282.2h0M526.2 248.1h0M535.3 271.7h0M531.7 267.3h0M535.3 226.8h0M528.4 277.8h0M538.0 241.5h0M535.0 230.5h0M529.9 213.9h0M525.3 226.1h0M538.3 252.8h0M535.3 255.2h0M528.8 290.9h0M537.8 192.4h0M532.0 262.0h0M536.4 247.9h0M537.3 248.9h0M534.5 239.3h0M529.1 288.7h0M533.4 280.4h0M519.7 239.9h0M535.6 279.5h0M526.8 268.2h0M531.4 253.3h0M530.3 237.8h0M524.9 252.1h0M537.4 289.9h0M531.0 212.9h0M535.4 200.8h0M519.6 249.2h0M531.1 296.2h0M533.4 236.7h0M520.2 234.5h0M534.1 275.1h0M536.3 255.5h0M533.2 272.2h0M536.9 248.6h0M534.2 264.2h0M520.6 259.5h0M532.5 256.8h0M530.0 262.1h0M529.1 227.5h0M525.7 271.8h0M525.2 259.9h0M531.2 276.7h0M533.4 280.0h0M527.9 248.0h0M530.6 213.9h0M530.0 242.2h0M526.6 248.2h0M521.5 239.5h0M536.7 250.4h0M522.3 224.3h0M523.2 243.0h0M531.8 290.9h0M530.9 202.3h0M536.8 299.2h0M532.7 227.4h0M529.6 295.6h0M527.3 263.5h0M515.2 241.2h0M531.0 256.9h0M536.7 277.4h0M524.7 274.7h0M529.7 258.8h0M535.7 279.3h0M537.1 236.4h0M537.8 212.1h0M532.4 243.9h0M532.9 217.9h0M521.5 249.6h0M533.6 263.1h0M536.1 243.1h0M533.7 263.8h0M529.9 227.0h0M529.3 283.6h0M532.3 297.9h0M526.6 251.5h0M534.7 199.2h0M525.0 253.5h0M524.6 236.2h0M528.6 254.5h0M526.9 247.6h0M520.6 247.1h0M530.7 264.8h0M538.0 236.2h0M536.4 276.7h0M536.2 257.0h0M531.1 230.8h0M538.5 287.4h0M533.5 263.8h0M524.5 263.5h0M536.2 245.3h0M524.8 270.4h0M534.6 230.1h0M519.9 252.2h0M516.2 244.7h0M534.6 233.2h0M534.4 197.0h0M521.9 238.4h0M515.9 240.0h0M524.2 276.7h0M528.1 278.3h0M535.1 280.2h0M529.9 245.3h0M533.5 293.5h0M531.8 288.5h0M532.6 225.0h0M532.5 201.4h0M537.7 245.8h0M531.7 274.1h0M523.7 227.9h0M523.5 238.4h0M534.1 233.7h0M525.2 283.3h0M523.8 251.6h0M529.3 290.5h0M525.2 255.5h0M526.4 221.4h0M538.1 193.3h0M528.6 293.1h0M523.6 270.3h0M520.0 238.5h0M527.6 226.2h0M537.5 303.7h0M521.0 262.5h0M534.6 286.2h0M524.3 242.1h0M524.8 222.4h0M521.2 223.9h0M520.0 233.5h0M536.7 267.9h0M535.6 272.0h0M527.3 251.2h0M514.9 239.0h0M533.9 253.4h0M526.3 220.7h0M523.3 243.6h0M522.4 242.8h0M522.7 274.0h0M523.0 238.6h0M532.5 242.5h0M528.4 243.2h0M534.3 280.8h0M536.6 242.0h0M536.3 199.3h0M537.9 224.6h0M521.1 259.0h0M528.6 279.1h0M534.6 206.6h0M521.2 261.8h0M532.1 265.6h0M521.3 262.9h0M523.3 231.2h0M516.2 241.6h0M527.0 236.5h0M524.8 275.5h0M532.6 229.9h0M529.3 269.3h0M527.0 263.8h0M532.3 204.1h0M531.3 232.8h0M526.7 228.6h0M533.2 284.8h0M536.9 224.6h0M523.8 217.5h0M516.9 230.2h0M526.3 286.3h0M527.0 223.2h0M526.4 285.0h0M531.6 266.9h0M525.2 218.2h0M533.2 267.4h0M536.5 301.5h0M521.8 264.9h0M533.3 209.0h0M536.1 288.1h0M535.2 294.5h0M526.2 215.6h0M534.8 199.2h0M538.4 288.2h0M527.6 219.7h0M516.6 243.0h0M536.6 235.6h0M537.2 277.2h0M516.2 237.1h0M531.1 227.3h0M525.5 270.3h0M527.2 267.0h0M531.5 284.1h0M537.0 188.9h0M533.3 259.1h0M523.2 261.5h0M533.7 281.9h0M532.4 225.8h0M529.0 261.7h0M536.9 299.8h0M538.2 248.8h0M536.1 292.2h0M532.9 229.8h0M521.0 226.6h0M536.8 221.0h0M526.2 278.0h0M529.5 226.2h0M535.0 281.4h0M525.0 238.0h0M532.3 272.9h0M534.0 238.4h0M534.4 238.9h0M538.3 277.5h0M537.9 292.6h0M532.6 233.1h0M529.1 271.2h0M516.1 234.8h0M526.6 255.7h0M523.6 241.5h0M538.1 287.8h0M535.5 209.1h0M533.2 290.6h0M522.0 268.1h0M524.2 263.6h0M534.4 279.6h0M533.4 235.2h0M531.1 279.1h0M528.7 275.5h0M532.6 280.4h0M524.5 258.5h0M532.2 267.3h0M532.2 286.6h0M534.3 212.6h0M538.0 262.2h0M530.4 223.0h0M522.5 221.3h0M531.1 282.0h0M537.2 297.9h0M518.0 243.8h0M529.2 246.4h0M525.2 225.0h0M528.5 248.7h0M538.3 279.4h0M531.7 249.9h0M524.2 223.7h0M529.9 269.0h0M522.8 272.5h0M531.4 208.4h0M535.5 286.2h0M515.2 235.2h0M521.8 262.5h0M537.9 197.5h0M524.1 216.5h0M513.8 241.1h0M517.4 231.0h0M515.6 237.2h0M523.3 246.5h0M532.4 291.2h0M532.7 227.8h0M527.1 235.0h0M536.0 271.6h0M527.7 218.8h0M521.6 243.6h0M534.8 297.9h0M535.7 249.5h0M531.0 220.0h0M536.7 294.4h0M528.8 223.1h0M525.6 251.4h0M530.7 276.9h0M532.2 228.9h0M537.5 206.3h0M522.7 236.3h0M532.4 279.0h0M534.0 263.9h0M533.9 238.8h0M535.8 268.8h0M524.2 235.1h0M528.6 245.5h0M530.7 220.9h0M532.4 206.9h0M535.6 281.0h0M529.8 222.6h0M529.4 249.1h0M537.6 258.3h0M532.5 270.4h0M527.9 220.2h0M523.8 250.5h0M527.7 259.3h0M537.6 256.0h0M525.9 223.8h0M525.7 255.9h0M531.7 220.4h0M535.8 247.1h0M523.4 254.3h0M526.5 269.0h0M537.2 230.0h0M516.3 239.1h0M533.3 255.2h0M534.4 208.0h0M537.5 263.9h0M518.3 242.9h0M538.1 296.3h0M527.7 245.3h0M537.6 249.6h0M538.4 276.7h0M527.9 261.4h0M527.2 261.1h0M522.5 255.8h0M537.7 228.2h0M526.8 211.4h0M525.7 284.2h0M527.7 249.6h0M535.5 223.2h0M530.3 288.1h0M537.8 223.1h0M529.0 271.4h0M526.6 242.6h0M523.5 233.3h0M534.6 297.4h0M536.7 301.2h0M527.5 220.6h0M533.0 261.0h0M524.1 234.3h0M538.2 268.3h0M523.0 271.3h0M528.1 221.5h0M533.2 237.5h0M531.4 236.4h0M525.5 233.5h0M533.5 291.2h0M531.7 225.5h0M536.0 272.9h0M535.0 220.0h0M536.6 211.4h0M535.5 236.7h0M533.7 230.8h0M536.6 227.2h0M523.9 248.7h0M530.1 287.8h0M534.2 222.7h0M534.2 287.6h0M523.2 255.2h0M538.2 240.0h0M525.3 242.9h0M534.7 257.0h0M532.9 277.8h0M537.3 262.6h0M524.2 264.3h0M533.6 256.2h0M534.3 220.0h0M529.6 267.8h0M531.5 206.2h0M532.2 251.1h0M528.4 281.2h0M528.1 253.8h0M536.8 263.4h0M526.3 226.7h0M530.1 265.8h0M519.8 227.3h0M535.1 257.2h0M538.1 221.3h0M533.9 276.3h0M531.8 249.8h0M532.7 208.9h0M530.9 239.3h0M532.5 249.6h0M515.0 240.2h0M530.4 289.5h0M536.1 293.9h0M521.5 252.1h0M525.3 263.4h0M536.7 272.4h0M532.2 272.8h0M531.0 256.0h0M531.0 256.4h0M536.5 230.2h0M535.5 285.8h0M530.0 284.0h0M537.7 194.6h0M532.1 214.4h0M534.0 268.6h0M538.0 244.6h0M527.6 218.2h0M519.0 229.5h0M517.9 228.4h0M535.6 214.6h0M531.1 283.2h0M531.3 275.9h0M515.0 245.7h0M532.0 212.5h0M520.8 257.2h0M532.8 285.4h0M529.0 243.4h0M536.3 214.1h0M533.4 234.0h0M538.1 262.0h0M521.4 243.3h0M533.1 294.3h0M532.7 275.0h0M527.6 232.6h0M537.7 190.4h0M527.1 239.6h0M526.4 225.1h0M532.1 225.5h0M537.1 247.7h0M529.5 257.3h0M520.8 255.3h0M532.8 246.8h0M516.2 245.6h0M534.3 294.7h0M529.6 241.9h0M533.6 274.1h0M525.1 217.1h0M534.5 204.0h0M531.2 209.5h0M536.1 298.5h0M525.5 216.4h0M537.8 246.0h0M532.1 234.8h0M531.2 275.3h0M531.2 226.7h0M526.7 288.7h0M537.6 271.0h0M524.1 259.4h0M533.2 223.4h0M531.5 227.8h0M532.9 295.9h0M536.2 292.2h0M534.9 238.6h0M534.2 257.8h0M536.6 293.7h0M533.5 215.7h0M536.0 258.0h0M532.8 287.6h0M532.1 265.6h0M537.1 261.1h0M524.7 223.4h0M538.2 284.7h0M529.0 212.5h0M537.7 222.4h0M531.4 219.1h0M527.6 254.9h0M533.0 213.5h0M537.9 273.9h0M534.7 198.1h0M522.5 255.8h0M535.2 227.7h0M530.1 280.3h0M530.8 229.1h0M523.4 247.1h0M532.9 281.8h0M533.6 265.5h0M535.7 265.5h0M532.9 239.8h0M529.2 207.6h0M537.5 260.3h0M524.5 232.2h0M514.4 242.7h0M526.3 262.8h0M518.8 257.8h0M526.0 244.3h0M535.6 292.9h0M537.0 231.0h0M527.8 223.1h0M536.3 301.3h0M534.1 257.9h0M520.0 249.7h0M519.8 234.1h0M532.2 241.7h0M533.4 296.7h0M536.6 293.8h0M531.0 233.9h0M533.2 296.6h0M515.7 240.2h0M524.3 253.6h0M520.3 229.4h0M529.9 263.8h0M525.3 222.7h0M538.3 186.5h0M534.7 202.1h0M537.6 221.1h0M523.9 272.6h0M530.3 288.1h0M523.6 272.9h0M531.6 274.2h0M529.6 268.1h0M527.0 265.9h0M525.3 256.8h0M525.6 216.7h0M517.2 231.2h0M536.2 287.1h0M536.9 217.7h0M536.3 207.4h0M522.1 251.4h0M533.5 230.0h0M528.5 216.1h0M529.8 295.6h0M531.0 233.4h0M532.4 280.3h0M528.1 253.7h0M537.0 204.0h0M533.5 278.9h0M526.1 242.4h0M520.6 228.4h0M536.8 217.4h0M537.7 286.3h0M527.1 217.0h0M533.9 295.8h0M517.9 237.3h0M514.8 237.3h0M530.8 211.3h0M533.0 225.1h0M538.2 220.2h0M528.1 260.1h0M520.8 250.4h0M531.1 210.3h0M533.3 204.1h0M521.3 240.6h0M538.2 204.4h0M528.9 268.3h0M531.0 289.2h0M533.6 252.6h0M522.3 239.4h0M528.5 238.3h0M531.8 218.8h0M529.3 223.2h0M532.8 237.6h0M524.0 264.4h0M527.5 257.2h0M523.4 229.4h0M530.0 214.9h0M522.7 258.0h0M523.8 266.6h0M525.8 258.7h0M523.6 240.3h0M538.3 291.9h0M526.5 260.0h0M535.5 256.4h0M534.9 293.8h0M523.1 237.4h0M527.6 268.0h0M527.7 289.6h0M533.1 283.1h0M535.2 248.4h0M538.0 237.6h0M528.6 208.0h0M537.3 243.2h0M532.8 296.0h0M520.6 251.6h0M532.6 245.0h0M527.8 248.8h0M521.4 243.7h0M518.9 234.7h0M528.6 217.6h0M530.6 261.1h0M537.0 267.9h0M522.6 266.2h0M523.5 249.7h0M533.7 247.9h0M536.1 190.1h0M521.9 268.6h0M535.3 200.8h0M529.3 278.5h0M520.3 233.0h0M533.3 218.0h0M537.8 276.1h0M535.5 199.4h0M537.9 261.6h0M528.7 272.4h0M530.2 212.9h0M528.1 231.5h0M535.5 274.7h0M535.9 255.4h0M533.8 206.3h0M528.2 259.2h0M534.7 275.3h0M525.5 255.6h0M530.7 280.5h0M528.6 288.8h0M528.0 209.0h0M519.8 228.6h0M526.0 213.8h0M537.3 188.6h0M529.5 211.1h0M535.7 195.3h0M524.5 225.4h0M523.9 236.0h0M529.8 247.3h0M537.1 227.3h0M536.9 223.0h0M527.4 247.9h0M537.7 278.6h0M537.3 188.2h0M528.4 228.5h0M528.5 276.1h0M536.2 268.0h0M535.8 209.5h0M526.3 251.4h0M526.8 245.6h0M526.8 211.6h0M528.3 223.6h0M532.7 257.2h0M530.9 250.5h0M532.0 244.3h0M528.7 271.4h0M521.6 262.7h0M520.0 245.4h0M525.3 218.0h0M534.1 270.4h0M537.3 285.6h0M536.8 243.0h0M530.1 251.2h0M528.9 275.1h0M526.6 272.3h0M528.7 219.9h0M526.9 220.1h0M527.2 244.1h0M533.8 279.3h0M531.9 281.9h0M537.0 199.2h0M529.1 207.8h0M526.3 236.3h0M534.7 210.0h0M531.1 281.6h0M536.6 215.6h0M518.9 238.8h0M536.7 301.5h0M529.2 219.3h0M529.9 285.9h0M517.6 235.3h0M525.5 283.0h0M532.5 281.6h0M535.3 227.5h0M533.8 230.3h0M528.1 271.0h0M520.9 250.2h0M520.9 249.8h0M529.0 286.3h0M532.9 219.3h0M536.9 283.9h0M530.1 291.2h0M515.4 245.8h0M533.7 276.5h0M532.6 290.9h0M521.3 240.7h0M528.3 216.9h0M538.2 240.8h0M518.0 252.3h0M519.0 236.6h0M520.1 230.4h0M529.0 247.8h0M524.7 252.2h0M537.4 271.8h0M525.7 281.9h0M519.5 232.6h0M526.4 212.7h0M534.4 256.6h0M536.9 232.7h0M532.8 285.1h0M525.0 259.1h0M538.4 305.4h0M531.0 214.0h0M530.8 255.8h0M534.3 262.0h0M535.3 225.0h0M535.2 287.0h0M537.0 216.0h0M531.5 219.3h0M531.6 287.5h0M521.9 258.8h0M529.0 229.9h0M537.1 283.6h0M530.9 237.6h0M528.9 247.9h0M530.2 219.4h0M535.3 251.0h0M525.2 276.5h0M533.4 262.3h0M525.8 226.0h0M530.7 208.4h0M536.1 273.4h0M527.0 217.7h0M532.5 256.9h0M526.7 246.4h0M523.4 265.9h0M530.7 259.1h0M531.2 211.0h0M526.3 278.9h0M535.5 292.7h0M531.2 287.5h0M534.1 275.0h0M524.5 258.9h0M527.2 213.2h0M532.5 228.1h0M529.7 261.1h0M536.5 290.5h0M535.6 245.3h0M538.5 234.6h0M525.9 235.7h0M517.5 248.5h0M533.3 245.2h0M533.6 211.3h0M523.5 217.4h0M536.8 286.7h0M534.6 263.7h0M521.5 226.9h0M519.0 252.1h0M527.0 219.8h0M522.9 224.9h0M536.2 199.9h0M536.8 215.7h0M537.9 250.9h0M532.6 288.8h0M531.8 262.5h0M523.4 243.6h0M530.3 208.9h0M526.9 247.6h0M530.4 218.8h0M537.6 281.6h0M531.4 207.9h0M515.7 242.5h0M534.4 265.6h0M536.7 234.2h0M528.9 281.8h0M519.1 234.9h0M530.1 238.8h0M529.0 255.9h0M521.1 235.0h0M529.6 237.8h0M534.0 282.9h0M535.8 299.3h0M520.7 252.0h0M525.6 276.6h0M527.7 233.3h0M535.7 264.7h0M532.2 240.1h0M527.2 237.2h0M528.1 283.8h0M531.7 277.2h0M537.5 258.6h0M530.6 246.4h0M532.6 233.6h0M523.9 272.7h0M518.6 230.9h0M518.4 230.7h0M526.9 273.8h0M530.1 240.7h0M527.2 240.7h0M532.7 238.9h0M534.1 204.0h0M524.8 264.3h0M536.2 228.9h0M533.6 262.9h0M527.7 282.5h0M536.0 193.4h0M531.9 216.0h0M531.3 282.1h0M530.3 251.5h0M516.6 238.1h0M538.0 245.7h0M528.7 295.0h0M530.8 284.5h0M527.8 270.3h0M536.8 213.3h0M534.9 276.2h0M523.5 266.7h0M530.3 286.9h0M525.6 256.4h0M519.0 241.5h0M535.9 264.4h0M537.2 286.9h0M523.5 276.0h0M532.5 225.2h0M537.7 213.2h0M538.2 272.9h0M524.0 244.4h0M529.2 276.5h0M528.1 244.1h0M525.8 267.2h0M530.7 270.0h0M524.1 241.5h0M525.6 267.9h0M523.5 263.4h0M524.7 229.8h0M537.0 292.9h0M528.1 212.5h0M525.5 220.5h0M538.0 246.8h0M523.5 225.3h0M527.2 236.8h0M538.2 241.3h0M534.2 286.8h0M525.2 224.0h0M528.8 257.0h0M530.1 223.5h0M532.2 293.1h0M532.2 259.6h0M532.8 221.4h0M527.7 242.3h0M528.4 216.0h0M533.5 256.7h0M531.0 259.2h0M536.9 193.6h0M530.9 241.0h0M525.4 255.2h0M534.6 239.2h0M533.5 278.5h0M535.4 239.4h0M537.4 276.0h0M527.7 236.0h0M529.5 270.0h0M521.1 240.3h0M529.6 266.7h0M533.6 277.4h0M519.3 225.8h0M538.2 302.8h0M533.5 280.9h0M536.1 229.6h0M517.2 231.7h0M528.2 268.2h0M536.7 261.6h0M531.7 271.2h0M526.5 263.6h0M536.1 212.1h0M531.6 248.7h0M526.5 236.9h0M534.5 270.5h0M527.5 227.1h0M525.8 241.4h0M536.1 259.5h0M529.4 222.7h0M523.1 235.6h0M529.1 221.6h0M531.3 245.1h0M534.9 196.6h0M526.6 285.7h0M526.4 212.6h0M537.0 281.6h0M518.2 253.8h0M531.6 297.0h0M521.0 231.5h0M535.8 246.1h0M531.1 213.6h0M527.4 226.0h0M528.6 243.4h0M534.6 242.5h0M533.7 230.3h0M522.9 255.5h0M517.9 253.4h0M522.7 231.4h0M530.4 204.5h0M526.3 268.2h0M524.6 218.3h0M535.9 221.0h0M517.8 253.1h0M525.6 280.9h0M536.0 217.3h0M534.5 208.5h0M538.1 297.3h0M535.4 242.6h0M519.5 253.3h0M523.4 257.4h0M533.0 274.2h0M533.6 241.3h0M524.3 242.6h0M524.4 263.7h0M537.6 204.9h0M520.9 251.5h0M533.6 219.7h0M535.4 287.3h0M534.3 243.8h0M533.3 198.4h0M537.3 288.3h0M535.8 252.8h0M535.4 300.2h0M523.8 246.1h0M530.2 251.4h0M528.2 253.8h0M538.5 273.7h0M527.6 273.0h0M533.0 228.8h0M531.2 272.6h0M523.9 225.7h0M520.3 250.0h0M532.7 278.4h0M532.5 274.9h0M528.2 281.7h0M521.5 263.7h0M522.4 237.6h0M524.4 265.9h0M524.4 259.2h0M527.8 281.2h0M536.2 239.0h0M529.9 213.3h0M530.9 213.1h0M537.7 233.4h0M535.9 266.8h0M527.4 221.3h0M531.9 272.1h0M533.6 225.5h0M523.5 229.5h0M528.6 258.0h0M535.5 298.6h0M535.0 201.1h0M524.8 271.6h0M530.2 217.1h0M519.5 256.1h0M538.3 199.4h0M528.2 213.8h0M521.7 229.0h0M535.5 297.1h0M529.6 257.8h0M517.8 230.7h0M528.7 292.3h0M535.8 218.9h0M535.1 202.9h0M530.7 265.9h0M529.0 288.5h0M536.7 189.1h0M535.5 214.7h0M534.4 273.1h0M522.1 223.1h0M527.5 227.2h0M527.0 269.7h0M527.0 225.7h0M537.4 215.5h0M534.8 228.2h0M536.1 225.1h0M529.3 230.2h0M529.1 257.9h0M536.1 190.7h0M522.2 270.9h0M538.2 289.4h0M517.5 243.8h0M518.5 235.8h0M529.4 275.8h0M520.6 263.6h0M523.0 229.7h0M521.4 255.4h0M530.8 246.0h0M531.4 265.3h0M532.6 265.8h0M527.8 272.1h0M526.6 253.5h0M537.8 234.2h0M534.0 270.5h0M528.2 246.4h0M535.1 299.3h0M535.9 263.1h0M527.8 271.4h0M528.3 249.5h0M517.5 232.6h0M529.7 290.1h0M531.4 249.6h0M532.8 221.7h0M533.6 210.3h0M531.6 223.2h0M520.9 236.6h0M521.8 239.5h0M535.2 289.9h0M520.5 227.1h0M526.4 269.7h0M537.1 233.5h0M527.8 222.4h0M536.7 257.2h0M534.1 220.1h0M528.4 219.6h0M523.1 269.0h0M534.5 291.2h0M522.1 238.2h0M536.4 285.6h0M527.1 221.8h0M534.7 268.7h0M522.2 228.2h0M521.9 225.3h0M517.9 229.3h0M537.1 265.0h0M536.2 254.6h0M536.5 269.3h0M518.4 227.3h0M532.2 266.9h0M537.0 250.9h0M523.1 273.2h0M523.9 230.8h0M534.8 238.5h0M533.6 216.5h0M519.0 243.1h0M522.4 248.9h0M516.1 244.9h0M537.9 287.1h0M535.9 255.7h0M527.6 223.0h0M528.4 283.6h0M532.7 229.4h0M529.0 283.9h0M538.0 196.9h0M517.5 253.2h0M529.9 262.0h0M536.3 282.8h0M536.5 231.5h0M530.0 266.5h0M538.4 227.0h0M527.1 241.8h0M534.4 204.0h0M522.6 246.4h0M536.6 282.9h0M533.0 290.0h0M516.6 238.8h0M533.3 256.6h0M523.5 224.5h0M538.2 273.4h0M529.1 237.4h0M534.9 210.1h0M529.2 251.4h0M537.7 229.8h0M534.4 262.2h0M526.5 250.3h0M520.5 255.1h0M528.8 269.3h0M528.7 211.6h0M530.8 251.4h0M536.0 209.8h0M527.9 243.0h0M529.2 264.4h0M520.7 223.0h0M532.8 205.4h0M529.4 290.1h0M534.1 209.0h0M534.6 206.3h0M530.7 284.8h0M531.5 268.2h0M529.0 209.6h0M531.2 231.3h0M536.4 262.1h0M529.5 265.7h0M524.0 259.2h0M538.5 222.5h0M533.0 216.2h0M519.6 259.2h0M525.2 249.5h0M537.1 254.8h0M531.4 247.3h0M532.5 226.3h0M524.4 275.5h0M533.4 233.4h0M532.3 260.2h0M535.3 218.6h0M525.8 251.8h0M530.0 226.0h0M525.8 241.1h0M531.2 284.5h0M522.2 256.5h0M522.3 241.6h0M538.3 298.7h0M522.9 264.8h0M532.3 221.1h0M537.0 260.3h0M538.0 304.8h0M535.2 224.6h0M536.5 205.1h0M524.4 250.0h0M535.8 247.0h0M527.6 290.9h0M524.9 251.1h0M537.9 216.9h0M529.8 271.9h0M522.8 233.1h0M532.9 201.0h0M537.3 212.8h0M531.7 243.9h0M527.0 268.5h0M534.9 256.8h0M536.7 270.9h0M520.1 243.9h0M527.5 276.2h0M528.8 226.5h0M525.7 214.5h0M526.4 229.2h0M529.8 271.7h0M519.9 245.0h0M521.5 253.3h0M531.2 260.8h0M533.0 280.3h0M535.6 280.7h0M526.9 218.1h0M516.9 231.5h0M538.0 238.3h0M534.1 202.1h0M513.4 236.9h0M530.0 278.6h0M521.9 223.4h0M536.8 189.2h0M530.1 214.6h0M531.6 290.1h0M518.1 231.0h0M526.0 220.6h0M537.0 229.3h0M521.5 259.6h0M524.8 231.5h0M527.6 291.5h0M533.3 265.8h0M529.0 263.1h0M537.3 296.3h0M525.3 273.1h0M528.4 294.8h0M523.9 240.9h0M525.0 226.9h0M530.8 285.2h0M524.2 238.1h0M537.8 206.2h0M530.9 241.5h0M524.8 257.3h0M535.0 256.5h0M529.5 268.3h0M524.1 242.9h0M536.6 301.9h0M514.7 236.3h0M526.9 229.6h0M521.4 231.9h0M523.8 263.9h0M538.4 186.7h0M525.3 263.6h0M527.9 223.1h0M529.3 262.7h0M526.9 274.6h0M531.8 245.2h0M520.9 233.1h0M537.9 186.1h0M530.5 239.5h0M530.9 232.8h0M530.7 217.4h0M532.6 205.1h0M528.5 230.0h0M529.7 213.6h0M522.4 260.2h0M524.4 249.4h0M521.0 225.6h0M536.5 286.6h0M534.9 261.5h0M530.9 270.4h0M535.1 254.1h0M527.0 219.8h0M533.5 289.7h0M534.2 260.4h0M537.0 205.6h0M536.0 299.1h0M534.7 255.2h0M523.3 218.4h0M535.7 216.2h0M530.0 215.3h0M533.5 291.9h0M524.3 248.8h0M535.1 209.4h0M537.8 277.8h0M521.3 259.6h0M520.7 223.3h0M531.7 217.1h0M535.9 213.8h0M537.0 274.4h0M536.9 266.6h0M516.2 249.2h0M534.2 203.1h0M533.9 258.2h0M536.2 299.4h0M536.7 210.5h0M535.9 218.1h0M515.3 241.4h0M529.4 208.0h0M532.6 276.7h0M537.7 299.5h0M532.9 210.9h0M527.1 241.7h0M526.6 260.0h0M535.2 289.1h0M535.9 236.8h0M520.5 261.7h0M534.6 267.9h0M535.4 251.0h0M537.7 203.6h0M513.9 237.4h0M522.9 263.9h0M537.3 220.1h0M531.3 275.5h0M525.2 275.7h0M537.7 255.7h0M528.9 214.1h0M525.5 216.3h0M530.1 256.2h0M530.9 242.2h0M531.6 232.5h0M538.3 269.8h0M516.3 242.4h0M522.6 228.4h0M518.7 253.3h0M538.0 230.5h0M534.7 238.9h0M533.2 237.9h0M520.6 260.0h0M536.0 237.3h0M533.2 229.0h0M516.9 250.0h0M522.6 271.6h0M535.5 193.9h0M531.8 210.3h0M532.0 290.5h0M535.5 251.1h0M529.6 221.8h0M523.3 271.2h0M531.8 200.7h0M534.9 241.4h0M531.9 235.8h0M536.6 267.6h0M524.3 229.4h0M531.9 239.9h0M522.9 259.8h0M525.7 259.2h0M531.0 283.2h0M531.2 235.8h0M538.1 222.6h0M534.3 216.0h0M519.9 245.7h0M534.0 207.4h0M520.5 230.0h0M532.9 257.9h0M537.8 217.2h0M522.8 258.6h0M533.1 206.6h0M531.6 225.7h0M522.6 244.4h0M527.2 284.4h0M531.4 219.9h0M526.6 276.4h0M520.8 224.5h0M535.7 196.4h0M533.3 292.6h0M536.7 246.1h0M535.9 244.4h0M526.4 221.9h0M537.0 255.8h0M532.5 260.9h0M537.4 232.4h0M532.0 228.5h0M536.6 242.1h0M536.4 248.2h0M522.3 237.4h0M526.9 268.5h0M519.0 254.7h0M534.9 193.7h0M521.0 266.1h0M537.3 227.1h0M529.0 267.7h0M517.4 240.6h0M528.7 287.6h0M532.5 288.1h0M527.0 267.9h0M532.6 227.5h0M527.4 260.9h0M532.2 243.2h0M520.9 254.2h0M518.9 244.1h0M522.0 251.2h0M531.9 232.3h0M516.4 241.6h0M533.4 207.1h0M534.6 211.7h0M527.3 248.6h0M525.7 255.4h0M517.8 253.8h0M537.9 199.5h0M517.7 244.0h0M536.0 223.8h0M529.1 275.9h0M532.7 209.5h0M534.7 208.6h0M525.1 223.1h0M522.5 249.8h0M531.0 230.2h0M536.9 209.7h0M530.4 207.2h0M526.3 268.9h0M536.6 298.3h0M525.4 224.4h0M525.6 275.5h0M534.4 216.6h0M529.5 210.1h0M537.4 235.8h0M531.1 259.9h0M537.2 299.6h0M531.9 273.6h0M523.6 222.4h0M532.2 293.5h0M526.8 276.2h0M533.1 217.1h0M536.5 276.4h0M530.4 263.0h0M526.7 262.2h0M535.8 235.7h0M537.0 193.5h0M529.9 285.4h0M533.2 280.1h0M530.7 291.5h0M533.6 240.0h0M529.8 294.1h0M528.7 249.2h0M526.9 271.1h0M526.8 252.4h0M528.6 266.8h0M536.1 282.3h0M523.0 245.9h0M525.0 238.7h0M534.9 208.5h0M537.1 281.4h0M527.6 252.5h0M533.6 234.7h0M522.7 273.0h0M534.0 220.8h0M529.8 284.2h0M535.0 263.3h0M528.6 235.7h0M533.7 267.8h0M521.9 270.2h0M534.1 201.6h0M527.4 265.0h0M529.4 233.3h0M527.2 218.7h0M527.6 253.7h0M525.3 272.1h0M529.2 289.4h0M536.1 238.6h0M537.7 193.6h0M526.6 231.9h0M538.3 213.9h0M522.3 266.4h0M535.2 241.2h0M536.9 237.0h0M526.9 219.3h0M527.8 265.9h0M537.7 262.8h0M535.7 204.4h0M518.1 252.1h0M537.2 226.7h0M529.6 236.7h0M527.2 247.9h0M538.5 270.9h0M535.8 280.0h0M525.6 226.6h0M536.2 202.9h0M523.4 255.8h0M525.2 273.0h0M524.2 271.8h0M533.1 205.4h0M535.7 248.5h0M531.1 268.7h0M532.7 216.8h0M532.4 222.6h0M532.8 283.2h0M526.0 252.3h0M529.9 243.3h0M537.9 269.1h0M532.2 262.0h0M534.4 204.8h0M528.3 281.4h0M517.0 247.4h0M521.1 239.9h0M533.8 294.5h0M534.0 281.7h0M531.1 250.5h0M534.3 198.2h0M523.9 260.6h0M538.1 294.6h0M534.5 270.1h0M525.3 274.0h0M528.0 251.3h0M524.4 277.7h0M537.7 229.1h0M525.3 230.6h0M527.9 268.2h0M537.8 231.0h0M530.4 251.4h0M525.3 276.7h0M537.4 214.1h0M538.2 253.8h0M526.6 250.4h0M525.4 232.8h0M537.9 207.4h0M534.6 251.2h0M528.0 232.8h0M536.4 240.5h0M533.0 245.0h0M523.2 254.3h0M523.3 224.6h0M533.1 243.9h0M524.0 249.9h0M535.9 271.2h0M534.5 221.8h0M522.4 232.2h0M533.4 295.8h0M535.9 213.1h0M515.1 237.0h0M529.4 255.6h0M523.8 277.5h0M535.2 268.7h0M537.2 271.9h0M532.2 243.0h0M515.5 245.6h0M528.9 242.9h0M534.2 259.4h0M535.8 194.2h0M532.8 291.7h0M531.4 235.6h0M529.9 235.9h0M536.3 299.4h0M534.8 278.4h0M527.9 253.8h0M529.6 282.9h0M524.3 238.9h0M537.6 216.1h0M534.2 247.4h0M528.9 292.7h0M534.1 228.8h0M532.5 236.7h0M535.0 287.4h0M524.7 222.0h0M532.3 206.1h0M529.4 211.1h0M532.4 222.2h0M531.9 259.2h0M528.6 283.1h0M533.2 196.9h0M538.1 276.9h0M527.5 248.6h0M527.4 222.3h0M533.8 237.1h0M523.6 274.1h0M524.4 248.5h0M517.0 244.9h0M516.0 237.6h0M525.0 232.9h0M516.2 246.9h0M523.9 222.0h0M536.3 299.2h0M519.4 256.0h0M537.8 228.0h0M538.2 244.7h0M536.3 285.1h0M533.1 290.9h0M533.2 232.3h0M537.6 246.8h0M534.7 298.5h0M533.1 197.3h0M530.1 288.7h0M529.2 259.1h0M531.5 213.2h0M528.5 293.2h0M536.3 205.3h0M534.9 297.4h0M535.9 241.7h0M526.5 269.6h0M533.8 260.4h0M523.7 225.3h0M534.1 293.7h0M535.1 202.0h0M524.4 259.0h0M516.9 241.7h0M538.0 300.2h0M529.8 237.4h0M528.8 265.2h0M516.5 242.2h0M523.8 231.1h0M531.6 245.7h0M537.4 226.3h0M536.9 226.5h0M529.0 238.6h0M530.7 235.3h0M527.9 259.2h0M527.8 288.3h0M532.1 252.6h0M525.0 220.1h0M533.3 244.3h0M527.5 234.1h0M536.8 251.8h0M521.3 249.8h0M523.8 234.2h0M522.8 228.8h0M518.6 258.5h0M531.1 208.7h0M532.2 238.1h0M515.0 245.3h0M530.1 253.8h0M531.8 261.1h0M538.2 235.1h0M527.4 255.4h0M519.2 256.1h0M515.2 242.0h0M534.0 249.8h0M528.7 242.6h0M535.1 199.4h0M537.8 231.0h0M534.8 210.2h0M534.5 225.3h0M537.1 221.9h0M526.5 212.9h0M530.8 248.3h0M523.5 232.3h0M520.4 235.7h0M528.8 238.0h0M536.4 234.8h0M531.0 209.7h0M532.6 265.3h0M537.4 302.0h0M536.8 202.2h0M535.4 293.5h0M535.3 273.5h0M537.0 218.2h0M538.3 287.1h0M520.5 244.4h0M535.5 204.2h0M530.8 206.7h0M530.2 238.1h0M528.7 267.4h0M535.6 296.7h0M527.5 267.0h0M532.3 222.5h0M538.0 281.5h0M535.8 273.3h0M533.7 212.5h0M534.1 223.7h0M532.1 259.3h0M517.8 238.5h0M528.4 285.4h0M529.2 227.3h0M520.0 251.0h0M528.1 267.5h0M537.6 263.4h0M524.7 235.6h0M531.8 202.8h0M536.4 230.6h0M527.8 225.4h0M519.4 241.6h0M521.6 252.0h0M522.7 266.9h0M538.5 234.9h0M517.1 230.6h0M528.2 252.2h0M526.8 225.8h0M521.5 224.1h0M530.3 284.5h0M533.1 225.0h0M530.8 276.5h0M526.3 235.3h0M535.1 206.6h0M532.2 278.3h0M525.3 262.8h0M521.4 252.9h0M529.2 290.2h0M533.1 214.2h0M521.7 264.0h0M522.6 240.2h0M535.1 216.2h0M529.4 262.6h0M532.4 281.7h0M536.9 260.7h0M518.7 227.7h0M518.2 252.4h0M520.5 231.3h0M532.5 265.6h0M522.7 224.0h0M528.0 229.1h0M525.5 218.7h0M534.0 212.2h0M519.0 254.6h0M538.3 263.4h0M528.8 211.9h0M530.5 286.0h0M527.9 287.9h0M516.5 236.3h0M538.5 269.5h0M537.0 298.8h0M520.3 234.9h0M535.2 256.5h0M532.0 278.4h0M536.1 224.8h0M530.3 206.4h0M523.0 259.4h0M525.4 233.6h0M530.5 245.6h0M536.2 211.5h0M534.7 275.4h0M525.4 283.1h0M525.0 233.4h0M537.3 232.9h0M535.2 267.5h0M533.7 263.4h0M529.0 285.3h0M538.5 276.1h0M538.4 223.7h0M537.9 255.4h0M535.9 194.5h0M527.4 238.5h0M527.5 263.1h0M523.8 271.2h0M520.7 255.7h0M531.2 262.1h0M529.9 215.7h0M525.4 263.7h0M520.2 260.8h0M515.2 245.3h0M532.6 209.8h0M524.0 260.8h0M533.0 292.4h0M528.4 288.6h0M517.4 231.5h0M532.8 279.4h0M529.0 287.9h0M527.8 217.3h0M528.1 283.9h0M533.3 199.4h0M534.9 264.0h0M535.7 264.7h0M529.1 209.6h0M534.3 275.6h0M537.8 214.9h0M538.2 204.2h0M519.6 243.1h0M520.4 225.7h0M514.7 234.4h0M534.1 271.2h0M537.9 203.0h0M531.6 247.3h0M522.9 240.4h0M536.4 216.8h0M534.0 231.8h0M526.7 217.9h0M528.5 252.1h0M528.7 209.1h0M531.0 207.8h0M529.2 209.7h0M530.3 218.1h0M530.1 243.7h0M530.2 203.6h0M531.5 251.7h0M530.8 250.2h0M520.3 225.9h0M531.6 224.6h0M531.8 240.2h0M521.8 226.5h0M523.0 264.1h0M521.1 231.5h0M525.3 254.4h0M521.8 222.5h0M524.6 241.6h0M524.8 266.8h0M531.6 283.6h0M521.5 258.1h0M533.4 262.6h0M522.4 229.6h0M536.0 208.5h0M518.8 249.6h0M528.9 284.2h0M525.5 226.3h0M537.1 295.5h0M528.0 264.8h0M534.9 270.7h0M521.3 262.2h0M537.1 261.1h0M533.0 242.5h0M538.0 190.4h0M524.0 257.0h0M528.4 215.7h0M528.4 271.8h0M530.5 281.6h0M523.7 237.8h0M536.3 269.8h0M524.0 250.2h0M523.7 253.8h0M537.6 272.4h0M537.8 200.3h0M537.5 218.9h0M538.3 244.4h0M538.4 244.6h0M538.2 187.8h0M537.1 267.9h0M538.2 301.2h0M538.3 193.1h0M538.4 218.5h0M538.3 224.3h0M537.6 188.1h0M535.7 280.2h0M538.0 291.7h0M537.7 235.7h0M538.0 290.0h0M538.5 190.6h0M536.9 213.0h0M537.0 252.4h0M538.4 262.8h0M537.2 194.7h0M538.2 221.3h0M538.3 256.6h0M538.3 236.7h0M538.4 185.0h0M538.3 223.7h0M538.4 287.0h0M538.5 241.6h0M537.8 261.6h0M536.5 208.5h0M538.5 253.0h0M538.4 236.3h0M537.8 295.9h0M538.3 230.9h0M538.0 187.0h0M535.9 230.4h0M538.2 220.7h0M538.3 301.0h0M537.2 270.7h0M537.1 274.5h0M537.7 218.5h0M538.2 230.4h0M537.5 273.2h0M538.2 284.5h0M538.4 279.3h0M538.4 195.6h0M538.2 259.8h0M538.1 296.6h0M538.4 241.0h0M538.3 242.3h0M538.5 193.2h0M538.3 245.2h0M537.6 277.3h0M538.1 233.7h0M537.4 223.3h0M538.1 228.8h0M536.1 256.1h0M538.3 261.3h0M538.4 255.7h0M537.2 298.5h0M537.6 270.1h0M538.3 265.0h0M538.5 189.2h0M538.4 260.2h0M538.4 277.7h0M538.2 292.7h0M536.7 304.6h0M537.5 243.0h0M537.7 253.7h0M537.7 299.2h0M537.9 190.3h0M537.8 258.0h0M537.0 227.1h0M537.6 215.7h0M538.3 270.5h0M538.5 190.3h0M535.3 229.7h0M538.0 303.6h0M538.4 227.1h0M537.5 291.7h0M538.2 282.1h0M538.3 304.7h0M538.0 195.9h0M538.4 284.8h0M538.3 203.3h0M536.8 240.5h0M538.1 212.2h0M538.0 184.6h0M538.1 280.9h0M537.8 187.4h0M538.4 261.8h0M538.4 252.5h0M538.2 203.1h0M538.2 267.2h0M538.5 211.4h0M537.5 250.9h0M538.2 296.3h0M538.1 288.3h0M536.2 298.9h0M537.4 255.1h0M537.9 219.2h0M538.4 214.7h0M537.8 194.6h0M538.1 246.5h0M537.9 278.4h0M538.4 231.8h0M537.9 249.8h0M537.5 221.0h0M536.6 201.8h0M537.4 233.1h0M538.2 262.0h0M537.8 214.4h0M538.0 257.4h0M538.5 225.4h0M538.4 266.8h0M538.0 301.5h0M537.6 266.4h0M538.0 241.7h0M537.7 255.8h0M538.3 218.6h0M538.1 234.0h0M538.3 205.1h0M538.1 242.9h0M538.2 290.7h0M538.5 252.7h0M538.4 256.5h0M535.0 230.3h0M537.9 207.0h0M538.2 263.9h0M537.4 296.1h0M538.5 201.5h0M537.8 296.8h0M537.7 189.2h0M538.3 252.3h0M537.2 288.6h0M537.7 185.7h0M537.2 286.2h0M536.8 245.0h0M537.6 191.9h0M536.5 234.2h0M537.7 184.4h0M537.8 215.8h0M538.1 293.6h0M537.0 258.0h0M537.6 219.7h0M538.0 246.2h0M537.3 227.9h0M537.3 249.8h0M538.0 302.9h0M538.2 289.6h0M538.2 206.0h0M538.3 260.2h0M538.4 252.5h0M538.0 305.4h0M538.1 190.6h0M537.6 216.8h0M538.2 251.6h0M538.4 187.3h0M537.1 188.0h0M538.2 199.1h0M511.7 234.7h0M525.5 196.8h0M529.6 204.2h0M534.2 184.6h0M527.1 196.2h0M518.7 219.9h0M526.0 212.4h0M522.0 216.2h0M526.7 198.4h0M537.1 188.6h0M519.0 225.9h0M527.1 202.0h0M532.7 196.7h0M513.8 230.6h0M513.4 232.4h0M523.4 215.5h0M519.2 211.9h0M515.9 228.9h0M535.6 184.1h0M522.5 210.7h0M523.3 218.8h0M513.0 229.4h0M516.6 219.9h0M514.1 231.3h0M522.6 211.3h0M519.0 214.4h0M521.6 220.5h0M512.3 236.5h0M519.3 216.1h0M521.0 218.2h0M518.0 218.3h0M528.0 199.2h0M520.4 222.6h0M514.6 233.4h0M521.2 217.4h0M533.0 189.9h0M513.6 232.5h0M527.3 207.5h0M525.4 212.3h0M524.3 215.9h0M531.1 200.0h0M517.0 229.5h0M522.2 208.5h0M526.2 193.6h0M513.6 219.3h0M520.9 223.6h0M514.2 236.8h0M520.3 219.8h0M525.0 213.2h0M519.4 220.5h0M536.6 184.6h0M512.0 231.0h0M530.2 204.1h0M521.7 214.5h0M515.3 228.3h0M530.9 200.0h0M526.4 212.1h0M521.7 213.1h0M518.5 213.8h0M520.9 221.2h0M514.2 235.8h0M532.2 189.3h0M516.6 231.6h0M511.9 221.6h0M534.3 194.5h0M533.3 194.9h0M530.3 199.4h0M527.7 209.9h0M522.4 216.6h0M524.0 214.0h0M520.8 220.5h0M527.4 207.1h0M515.5 213.8h0M524.3 212.4h0M533.7 195.1h0M516.3 229.4h0M523.7 208.7h0M537.9 183.0h0M532.6 192.8h0M533.6 189.2h0M519.2 225.0h0M515.0 217.6h0M538.1 185.4h0M530.5 189.4h0M528.8 186.6h0M520.3 219.8h0M524.6 189.6h0M511.9 238.0h0M519.1 219.4h0M529.8 192.7h0M534.7 190.2h0M522.6 210.0h0M525.5 198.7h0M515.2 230.2h0M513.8 235.8h0M521.3 217.9h0M525.7 206.9h0M513.9 232.9h0M529.8 202.9h0M533.0 192.9h0M523.5 204.2h0M515.2 225.9h0M499.9 235.6h0M499.9 233.7h0M502.2 236.1h0M501.4 236.0h0M500.8 238.0h0M502.3 238.4h0M502.3 239.3h0M502.7 241.5h0M500.4 243.0h0M503.4 244.6h0M503.0 243.2h0M503.6 247.0h0M504.0 246.5h0M503.1 248.1h0M504.2 249.4h0M504.6 249.0h0M505.3 247.5h0M505.4 251.7h0M504.3 252.8h0M505.5 253.2h0M505.9 253.4h0M506.1 253.8h0M505.4 254.4h0M505.3 257.5h0M506.3 258.3h0M507.3 258.6h0M507.2 260.3h0M508.4 263.1h0M508.8 263.4h0M508.2 262.4h0M508.5 263.7h0M509.6 267.0h0M507.9 265.4h0M509.5 267.9h0M509.9 267.5h0M510.1 271.1h0M511.4 270.1h0M511.2 271.9h0M510.7 274.9h0M510.1 273.7h0M511.6 273.9h0M511.5 276.5h0M512.4 277.5h0M513.1 279.3h0M512.4 277.3h0M512.1 280.8h0M513.4 280.8h0M513.8 281.8h0M513.4 284.2h0M512.9 283.7h0M514.5 285.4h0M514.7 286.1h0M514.8 286.4h0M514.4 288.7h0M514.8 289.7h0M493.8 235.8h0M491.6 235.3h0M492.8 238.8h0M492.3 238.8h0M493.9 241.9h0M495.3 243.4h0M493.9 242.1h0M495.4 241.6h0M497.0 244.1h0M496.1 246.9h0M494.0 248.9h0M496.6 249.9h0M496.0 250.1h0M496.2 251.6h0M498.4 251.4h0M497.0 253.6h0M497.9 254.2h0M500.0 254.4h0M499.5 256.3h0M499.1 258.1h0M498.9 258.2h0M498.8 258.6h0M500.0 260.0h0M499.5 261.1h0M498.7 263.7h0M500.5 264.3h0M501.0 265.1h0M500.5 266.6h0M501.3 268.9h0M502.2 270.1h0M501.4 270.6h0M501.9 270.9h0M502.0 271.0h0M504.1 273.0h0M502.6 275.3h0M503.9 277.6h0M503.7 276.2h0M503.7 278.3h0M504.1 278.7h0M504.0 278.6h0M504.0 280.8h0M504.2 282.3h0M505.5 283.5h0M506.1 284.2h0M506.2 284.8h0M506.6 287.7h0M506.5 287.6h0M506.6 288.5h0M506.6 290.6h0M507.1 289.3h0M507.6 293.2h0M509.5 295.2h0M485.5 244.3h0M481.6 246.2h0M481.0 248.1h0M487.7 249.1h0M481.0 252.3h0M485.2 252.8h0M483.3 255.7h0M485.9 257.0h0M486.2 258.1h0M485.4 259.6h0M485.1 261.9h0M486.9 263.9h0M484.3 264.5h0M483.6 266.0h0M487.5 269.1h0M484.9 268.9h0M489.8 269.8h0M490.0 274.3h0M488.6 273.6h0M486.7 278.1h0M488.8 278.4h0M491.4 280.6h0M490.7 281.0h0M489.8 282.4h0M493.6 287.5h0M491.4 287.0h0M489.8 287.7h0M493.1 290.2h0M492.2 292.0h0M493.2 293.9h0M469.3 253.9h0M471.9 255.1h0M469.0 256.1h0M468.6 258.2h0M472.4 263.7h0M477.2 264.2h0M469.1 264.9h0M474.9 270.1h0M478.3 270.9h0M476.6 272.8h0M477.7 273.9h0M478.0 277.9h0M486.0 279.7h0M479.1 280.9h0M480.4 285.7h0M483.7 287.2h0M506.4 235.2h0M506.6 236.8h0M506.3 235.7h0M505.8 236.5h0M506.7 238.1h0M509.2 239.9h0M507.6 241.1h0M507.2 238.7h0M507.2 242.7h0M507.2 243.6h0M508.0 243.7h0M509.1 244.7h0M508.3 245.1h0M507.5 246.7h0M508.2 246.8h0M510.6 246.1h0M510.6 249.1h0M510.2 250.0h0M509.1 250.4h0M510.1 252.0h0M510.8 251.5h0M510.7 252.4h0M510.1 252.7h0M510.8 253.6h0M512.0 256.0h0M510.6 255.8h0M511.9 257.5h0M511.6 257.5h0M511.4 259.3h0M511.5 258.4h0M513.0 262.1h0M512.9 259.8h0M514.2 262.4h0M514.1 263.3h0M515.7 264.0h0M513.3 263.9h0M514.8 265.0h0M513.5 264.3h0M515.3 268.3h0M514.8 269.0h0M515.6 269.1h0M515.7 269.5h0M514.7 270.6h0M516.1 271.4h0M514.8 272.0h0M515.7 272.4h0M517.4 272.8h0M516.0 274.2h0M516.4 275.6h0M517.5 276.4h0M518.3 276.6h0M517.1 276.4h0M517.0 280.6h0M516.9 279.7h0M518.2 281.2h0M518.8 280.3h0M517.3 282.5h0M518.0 284.0h0M519.0 284.7h0M520.5 284.2h0M519.9 285.6h0M520.3 286.3h0M520.1 287.3h0M520.2 288.6h0M521.6 288.8h0M521.2 289.3h0M521.3 289.3h0M521.7 291.3h0M521.4 291.8h0M521.0 292.7h0M481.7 270.0h0M487.6 264.9h0M490.6 263.3h0M488.5 278.2h0M507.6 268.5h0M500.1 286.3h0M476.8 269.5h0M510.5 245.1h0M508.3 257.6h0M481.6 282.4h0M509.0 272.1h0M502.3 246.7h0M507.6 257.3h0M496.2 248.0h0M491.6 269.1h0M509.6 274.1h0M492.8 287.2h0M504.3 251.0h0M486.5 252.0h0M481.2 277.4h0M497.2 288.3h0M499.2 281.0h0M481.9 269.7h0M500.9 281.9h0M507.8 256.3h0M511.4 259.7h0M495.2 274.4h0M504.0 245.9h0M499.2 241.3h0M502.4 249.7h0M503.7 245.5h0M498.4 280.0h0M473.2 257.0h0M481.5 259.2h0M488.8 268.7h0M477.0 287.4h0M476.3 270.9h0M505.0 252.4h0M503.6 255.9h0M476.8 250.6h0M490.7 250.5h0M492.3 276.5h0M471.0 266.1h0M478.1 273.5h0M484.4 285.6h0M474.1 252.2h0M500.7 260.1h0" stroke="#5b9bd5" stroke-width="2.8" stroke-linecap="round" fill="none"/>
<path d="M355.3 279.7h0M385.6 282.7h0M396.5 281.3h0M402.5 288.9h0M408.5 274.1h0M410.0 288.6h0M411.1 281.7h0M421.1 272.9h0M422.1 282.5h0M424.6 287.8h0M416.0 263.7h0M423.3 253.1h0M425.5 259.5h0M426.9 266.0h0M431.2 260.1h0M432.8 265.2h0M437.6 266.0h0M440.4 269.3h0M443.2 270.1h0M445.2 272.9h0M426.3 270.9h0M431.2 277.7h0M435.4 278.2h0M438.9 281.9h0M433.4 288.8h0M451.5 260.1h0M433.4 240.5h0M442.6 251.1h0M427.4 285.6h0M429.7 282.3h0M521.6 181.9h0M515.9 188.2h0M502.4 195.2h0M522.9 197.2h0M517.3 204.0h0M504.7 209.2h0M495.0 212.9h0M483.7 217.6h0M507.6 221.9h0M498.4 225.2h0M468.4 230.2h0M487.9 230.2h0M473.8 241.5h0M478.1 239.4h0M461.2 246.4h0M465.2 257.8h0M458.4 267.6h0M462.9 270.9h0M468.7 274.1h0M527.1 202.0h0M526.2 193.6h0M511.9 221.6h0M515.5 213.8h0M529.8 192.7h0M523.5 204.2h0M515.2 225.9h0M494.0 248.9h0M504.1 273.0h0M507.6 293.2h0M509.5 295.2h0M485.5 244.3h0M487.7 249.1h0M481.0 252.3h0M483.3 255.7h0M485.1 261.9h0M484.9 268.9h0M477.2 264.2h0M478.0 277.9h0M479.1 280.9h0M480.4 285.7h0M490.6 263.3h0M500.1 286.3h0M481.6 282.4h0M481.2 277.4h0M497.2 288.3h0M495.2 274.4h0M481.5 259.2h0M477.0 287.4h0M503.6 255.9h0M476.8 250.6h0M490.7 250.5h0M492.3 276.5h0M474.1 252.2h0" stroke="#3583d6" stroke-width="2.10" stroke-linecap="round" fill="none"/>
<path d="M50.1 471.5h0M57.7 471.5h0M57.7 457.8h0M57.7 453.6h0M57.7 392.9h0M57.7 380.9h0M65.3 450.3h0M65.3 447.5h0M65.3 444.7h0M65.3 437.1h0M65.3 422.3h0M65.3 419.5h0M65.3 416.7h0M65.3 413.9h0M65.3 389.3h0M73.0 455.3h0M73.0 453.3h0M73.0 450.8h0M73.0 448.5h0M73.0 446.6h0M73.0 444.8h0M73.0 442.4h0M73.0 439.9h0M73.0 436.9h0M73.0 430.7h0M73.0 420.1h0M73.0 385.1h0M80.6 424.5h0M80.6 418.1h0M80.6 416.7h0M80.6 388.2h0M80.6 383.1h0M88.2 422.3h0M88.2 416.7h0M88.2 407.8h0M88.2 391.5h0M95.8 422.3h0M95.8 411.1h0M95.8 395.7h0M95.8 393.8h0M103.5 441.9h0M103.5 433.5h0M103.5 430.7h0M103.5 426.5h0M103.5 423.7h0M103.5 413.1h0M103.5 397.1h0M103.5 387.3h0M103.5 383.7h0M111.1 444.1h0M111.1 442.0h0M111.1 439.0h0M111.1 434.4h0M111.1 427.9h0M111.1 425.1h0M111.1 415.3h0M111.1 412.5h0M111.1 404.1h0M111.1 392.9h0M111.1 391.5h0M111.1 377.0h0M118.7 429.3h0M118.7 427.1h0M118.7 418.1h0M118.7 413.9h0M118.7 411.1h0M118.7 398.5h0M118.7 396.6h0M118.7 362.2h0M126.3 434.3h0M126.3 431.7h0M126.3 429.9h0M126.3 426.9h0M126.3 424.3h0M126.3 418.1h0M126.3 413.9h0M126.3 412.5h0M126.3 397.1h0M126.3 394.3h0M126.3 390.1h0M126.3 387.3h0M126.3 355.7h0M134.0 439.9h0M134.0 437.9h0M134.0 435.3h0M134.0 432.5h0M134.0 428.0h0M134.0 425.7h0M134.0 420.9h0M134.0 412.5h0M134.0 410.3h0M134.0 408.3h0M134.0 406.1h0M134.0 404.1h0M134.0 397.1h0M134.0 381.7h0M134.0 377.0h0M134.0 367.8h0M141.6 444.1h0M141.6 440.0h0M141.6 437.7h0M141.6 435.8h0M141.6 433.1h0M141.6 424.2h0M141.6 421.1h0M141.6 418.1h0M141.6 412.5h0M141.6 404.1h0M141.6 401.9h0M141.6 399.9h0M141.6 398.5h0M141.6 388.7h0M141.6 374.2h0M141.6 364.1h0M149.2 444.1h0M149.2 441.9h0M149.2 440.0h0M149.2 437.1h0M149.2 435.0h0M149.2 429.5h0M149.2 427.0h0M149.2 425.3h0M149.2 419.5h0M149.2 416.7h0M149.2 404.1h0M149.2 394.3h0M149.2 392.1h0M149.2 390.1h0M149.2 387.3h0M149.2 358.0h0M156.8 441.3h0M156.8 438.7h0M156.8 436.3h0M156.8 434.3h0M156.8 432.5h0M156.8 430.1h0M156.8 427.8h0M156.8 425.4h0M156.8 422.7h0M156.8 416.7h0M156.8 412.5h0M156.8 408.3h0M156.8 404.1h0M156.8 401.3h0M156.8 381.7h0M156.8 379.0h0M156.8 367.2h0M164.5 436.3h0M164.5 434.1h0M164.5 432.3h0M164.5 429.4h0M164.5 425.1h0M164.5 422.3h0M164.5 412.5h0M164.5 404.1h0M164.5 401.3h0M164.5 387.3h0M164.5 372.0h0M164.5 369.2h0M172.1 437.1h0M172.1 434.3h0M172.1 426.5h0M172.1 423.7h0M172.1 419.5h0M172.1 416.7h0M172.1 402.7h0M172.1 397.1h0M172.1 392.9h0M172.1 388.7h0M172.1 387.3h0M172.1 363.0h0M179.7 438.5h0M179.7 436.4h0M179.7 429.3h0M179.7 425.1h0M179.7 420.9h0M179.7 418.1h0M179.7 412.5h0M179.7 408.3h0M179.7 401.9h0M179.7 385.9h0M179.7 365.8h0M187.3 430.7h0M187.3 427.9h0M187.3 419.5h0M187.3 412.5h0M187.3 406.9h0M187.3 404.1h0M187.3 385.9h0M187.3 376.2h0M187.3 370.6h0M195.0 442.7h0M195.0 440.2h0M195.0 438.4h0M195.0 436.1h0M195.0 434.3h0M195.0 425.1h0M195.0 420.9h0M195.0 416.7h0M195.0 402.7h0M195.0 399.9h0M195.0 395.7h0M195.0 386.8h0M195.0 370.0h0M202.6 445.5h0M202.6 442.9h0M202.6 438.9h0M202.6 436.9h0M202.6 430.7h0M202.6 427.9h0M202.6 425.1h0M202.6 420.9h0M202.6 418.1h0M202.6 401.9h0M202.6 389.3h0M202.6 369.7h0M210.2 445.5h0M210.2 442.5h0M210.2 440.3h0M210.2 433.5h0M210.2 429.3h0M210.2 426.5h0M210.2 423.7h0M210.2 414.8h0M210.2 388.7h0M210.2 381.7h0M217.8 443.3h0M217.8 439.1h0M217.8 434.9h0M217.8 432.1h0M217.8 427.9h0M217.8 423.7h0M217.8 420.9h0M217.8 418.7h0M217.8 376.2h0M225.5 444.7h0M225.5 440.5h0M225.5 433.5h0M225.5 427.9h0M225.5 425.9h0M225.5 413.9h0M233.1 444.7h0M233.1 441.9h0M233.1 435.5h0M233.1 421.5h0M240.7 446.1h0M240.7 443.3h0M240.7 439.1h0M240.7 416.7h0M248.3 442.4h0M248.3 435.7h0M256.0 448.0h0M256.0 439.7h0M263.6 449.7h0M263.6 436.3h0M271.2 451.7h0M271.2 448.0h0" stroke="#5b9bd5" stroke-width="2.8" stroke-linecap="round" fill="none"/>
<path d="M50.1 471.5h0M57.7 471.5h0M57.7 457.8h0M57.7 453.6h0M57.7 392.9h0M57.7 380.9h0M65.3 450.3h0M65.3 447.5h0M65.3 444.7h0M65.3 437.1h0M65.3 422.3h0M65.3 419.5h0M65.3 416.7h0M65.3 413.9h0M65.3 389.3h0M73.0 442.4h0M73.0 439.9h0M73.0 436.9h0M73.0 430.7h0M73.0 420.1h0M73.0 385.1h0M80.6 424.5h0M80.6 388.2h0M80.6 383.1h0M88.2 422.3h0M88.2 416.7h0M88.2 407.8h0M88.2 391.5h0M95.8 422.3h0M95.8 411.1h0M103.5 441.9h0M103.5 433.5h0M103.5 430.7h0M103.5 426.5h0M103.5 423.7h0M103.5 413.1h0M103.5 397.1h0M103.5 387.3h0M103.5 383.7h0M111.1 439.0h0M111.1 434.4h0M111.1 427.9h0M111.1 425.1h0M111.1 415.3h0M111.1 412.5h0M111.1 404.1h0M111.1 377.0h0M118.7 418.1h0M118.7 413.9h0M118.7 411.1h0M118.7 362.2h0M126.3 434.3h0M126.3 426.9h0M126.3 424.3h0M126.3 418.1h0M126.3 397.1h0M126.3 394.3h0M126.3 390.1h0M126.3 387.3h0M126.3 355.7h0M134.0 435.3h0M134.0 432.5h0M134.0 420.9h0M134.0 397.1h0M134.0 381.7h0M134.0 377.0h0M134.0 367.8h0M141.6 444.1h0M141.6 433.1h0M141.6 424.2h0M141.6 421.1h0M141.6 418.1h0M141.6 412.5h0M141.6 388.7h0M141.6 374.2h0M141.6 364.1h0M149.2 429.5h0M149.2 419.5h0M149.2 416.7h0M149.2 404.1h0M149.2 387.3h0M149.2 358.0h0M156.8 441.3h0M156.8 438.7h0M156.8 425.4h0M156.8 422.7h0M156.8 416.7h0M156.8 412.5h0M156.8 408.3h0M156.8 404.1h0M156.8 401.3h0M156.8 381.7h0M156.8 379.0h0M156.8 367.2h0M164.5 429.4h0M164.5 425.1h0M164.5 422.3h0M164.5 412.5h0M164.5 404.1h0M164.5 401.3h0M164.5 387.3h0M164.5 372.0h0M164.5 369.2h0M172.1 437.1h0M172.1 434.3h0M172.1 426.5h0M172.1 423.7h0M172.1 419.5h0M172.1 416.7h0M172.1 402.7h0M172.1 397.1h0M172.1 392.9h0M172.1 363.0h0M179.7 429.3h0M179.7 425.1h0M179.7 420.9h0M179.7 418.1h0M179.7 412.5h0M179.7 408.3h0M179.7 401.9h0M179.7 385.9h0M179.7 365.8h0M187.3 430.7h0M187.3 427.9h0M187.3 419.5h0M187.3 412.5h0M187.3 406.9h0M187.3 404.1h0M187.3 385.9h0M187.3 376.2h0M187.3 370.6h0M195.0 425.1h0M195.0 420.9h0M195.0 416.7h0M195.0 402.7h0M195.0 399.9h0M195.0 395.7h0M195.0 386.8h0M195.0 370.0h0M202.6 445.5h0M202.6 442.9h0M202.6 430.7h0M202.6 427.9h0M202.6 425.1h0M202.6 420.9h0M202.6 418.1h0M202.6 401.9h0M202.6 389.3h0M202.6 369.7h0M210.2 445.5h0M210.2 433.5h0M210.2 429.3h0M210.2 426.5h0M210.2 423.7h0M210.2 414.8h0M210.2 388.7h0M210.2 381.7h0M217.8 443.3h0M217.8 439.1h0M217.8 434.9h0M217.8 432.1h0M217.8 427.9h0M217.8 423.7h0M217.8 376.2h0M225.5 444.7h0M225.5 440.5h0M225.5 433.5h0M225.5 413.9h0M233.1 444.7h0M233.1 441.9h0M233.1 435.5h0M233.1 421.5h0M240.7 446.1h0M240.7 443.3h0M240.7 439.1h0M240.7 416.7h0M248.3 442.4h0M248.3 435.7h0M256.0 448.0h0M256.0 439.7h0M263.6 449.7h0M263.6 436.3h0M271.2 451.7h0M271.2 448.0h0" stroke="#3583d6" stroke-width="2.10" stroke-linecap="round" fill="none"/>
<path d="M312.5 471.0h0M320.4 471.0h0M320.4 457.3h0M320.4 453.1h0M320.4 392.3h0M320.4 380.3h0M328.4 449.7h0M328.4 446.9h0M328.4 444.1h0M328.4 436.6h0M328.4 421.7h0M328.4 418.9h0M328.4 416.1h0M328.4 413.3h0M328.4 388.7h0M336.3 454.8h0M336.3 452.8h0M336.3 450.3h0M336.3 448.0h0M336.3 446.1h0M336.3 444.2h0M336.3 441.8h0M336.3 439.3h0M336.3 436.3h0M336.3 430.1h0M336.3 419.5h0M336.3 384.5h0M344.2 424.0h0M344.2 417.5h0M344.2 416.1h0M344.2 387.6h0M344.2 382.5h0M352.2 421.7h0M352.2 416.1h0M352.2 407.2h0M352.2 390.9h0M360.1 421.7h0M360.1 410.5h0M360.1 395.1h0M360.1 393.2h0M368.0 441.3h0M368.0 432.9h0M368.0 430.1h0M368.0 425.9h0M368.0 423.1h0M368.0 412.5h0M368.0 396.5h0M368.0 386.7h0M368.0 383.1h0M376.0 443.6h0M376.0 441.5h0M376.0 438.4h0M376.0 433.8h0M376.0 427.3h0M376.0 424.5h0M376.0 414.7h0M376.0 411.9h0M376.0 403.5h0M376.0 392.3h0M376.0 390.9h0M376.0 376.3h0M383.9 428.7h0M383.9 426.5h0M383.9 417.5h0M383.9 413.3h0M383.9 410.5h0M383.9 397.9h0M383.9 396.0h0M383.9 361.5h0M391.8 433.8h0M391.8 431.1h0M391.8 429.3h0M391.8 426.3h0M391.8 423.7h0M391.8 417.5h0M391.8 413.3h0M391.8 411.9h0M391.8 396.5h0M391.8 393.7h0M391.8 389.5h0M391.8 386.7h0M391.8 355.1h0M399.8 439.4h0M399.8 437.4h0M399.8 434.8h0M399.8 432.0h0M399.8 427.4h0M399.8 425.2h0M399.8 420.3h0M399.8 411.9h0M399.8 409.7h0M399.8 407.7h0M399.8 405.5h0M399.8 403.5h0M399.8 396.5h0M399.8 381.1h0M399.8 376.3h0M399.8 367.1h0M407.7 443.6h0M407.7 439.4h0M407.7 437.2h0M407.7 435.2h0M407.7 432.5h0M407.7 423.6h0M407.7 420.5h0M407.7 417.5h0M407.7 411.9h0M407.7 403.5h0M407.7 401.3h0M407.7 399.3h0M407.7 397.9h0M407.7 388.1h0M407.7 373.5h0M407.7 363.5h0M415.6 443.6h0M415.6 441.4h0M415.6 439.4h0M415.6 436.5h0M415.6 434.5h0M415.6 428.9h0M415.6 426.5h0M415.6 424.7h0M415.6 418.9h0M415.6 416.1h0M415.6 403.5h0M415.6 393.7h0M415.6 391.5h0M415.6 389.5h0M415.6 386.7h0M415.6 357.3h0M423.6 440.8h0M423.6 438.2h0M423.6 435.7h0M423.6 433.8h0M423.6 431.9h0M423.6 429.5h0M423.6 427.3h0M423.6 424.8h0M423.6 422.1h0M423.6 416.1h0M423.6 411.9h0M423.6 407.7h0M423.6 403.5h0M423.6 400.7h0M423.6 381.1h0M423.6 378.3h0M423.6 366.5h0M431.5 435.7h0M431.5 433.6h0M431.5 431.8h0M431.5 428.8h0M431.5 424.5h0M431.5 421.7h0M431.5 411.9h0M431.5 403.5h0M431.5 400.7h0M431.5 386.7h0M431.5 371.3h0M431.5 368.5h0M439.5 436.5h0M439.5 433.7h0M439.5 425.9h0M439.5 423.1h0M439.5 418.9h0M439.5 416.1h0M439.5 402.1h0M439.5 396.5h0M439.5 392.3h0M439.5 388.1h0M439.5 386.7h0M439.5 362.3h0M447.4 438.0h0M447.4 435.8h0M447.4 428.7h0M447.4 424.5h0M447.4 420.3h0M447.4 417.5h0M447.4 411.9h0M447.4 407.7h0M447.4 401.3h0M447.4 385.3h0M447.4 365.1h0M455.3 430.1h0M455.3 427.3h0M455.3 418.9h0M455.3 411.9h0M455.3 406.3h0M455.3 403.5h0M455.3 385.3h0M455.3 375.5h0M455.3 369.9h0M463.3 442.2h0M463.3 439.6h0M463.3 437.8h0M463.3 435.6h0M463.3 433.8h0M463.3 424.5h0M463.3 420.3h0M463.3 416.1h0M463.3 402.1h0M463.3 399.3h0M463.3 395.1h0M463.3 386.2h0M463.3 369.3h0M471.2 445.0h0M471.2 442.4h0M471.2 438.4h0M471.2 436.3h0M471.2 430.1h0M471.2 427.3h0M471.2 424.5h0M471.2 420.3h0M471.2 417.5h0M471.2 401.3h0M471.2 388.7h0M471.2 369.1h0M479.1 445.0h0M479.1 442.0h0M479.1 439.7h0M479.1 432.9h0M479.1 428.7h0M479.1 425.9h0M479.1 423.1h0M479.1 414.2h0M479.1 388.1h0M479.1 381.1h0M487.1 442.7h0M487.1 438.5h0M487.1 434.3h0M487.1 431.5h0M487.1 427.3h0M487.1 423.1h0M487.1 420.3h0M487.1 418.1h0M487.1 375.5h0M495.0 444.1h0M495.0 439.9h0M495.0 432.9h0M495.0 427.3h0M495.0 425.4h0M495.0 413.3h0M502.9 444.1h0M502.9 441.3h0M502.9 434.9h0M502.9 420.9h0M510.9 445.5h0M510.9 442.7h0M510.9 438.5h0M510.9 416.1h0M518.8 441.9h0M518.8 435.2h0M526.7 447.5h0M526.7 439.1h0M534.7 449.2h0M534.7 435.7h0M542.6 451.1h0M542.6 447.5h0" stroke="#5b9bd5" stroke-width="2.8" stroke-linecap="round" fill="none"/>
<path d="M312.5 471.0h0M320.4 471.0h0M320.4 457.3h0M320.4 453.1h0M320.4 392.3h0M320.4 380.3h0M328.4 449.7h0M328.4 446.9h0M328.4 444.1h0M328.4 436.6h0M328.4 421.7h0M328.4 418.9h0M328.4 416.1h0M328.4 413.3h0M328.4 388.7h0M336.3 441.8h0M336.3 439.3h0M336.3 436.3h0M336.3 430.1h0M336.3 419.5h0M336.3 384.5h0M344.2 424.0h0M344.2 387.6h0M344.2 382.5h0M352.2 421.7h0M352.2 416.1h0M352.2 407.2h0M352.2 390.9h0M360.1 421.7h0M360.1 410.5h0M368.0 441.3h0M368.0 432.9h0M368.0 430.1h0M368.0 425.9h0M368.0 423.1h0M368.0 412.5h0M368.0 396.5h0M368.0 386.7h0M368.0 383.1h0M376.0 438.4h0M376.0 433.8h0M376.0 427.3h0M376.0 424.5h0M376.0 414.7h0M376.0 411.9h0M376.0 403.5h0M376.0 376.3h0M383.9 417.5h0M383.9 413.3h0M383.9 410.5h0M383.9 361.5h0M391.8 433.8h0M391.8 426.3h0M391.8 423.7h0M391.8 417.5h0M391.8 396.5h0M391.8 393.7h0M391.8 389.5h0M391.8 386.7h0M391.8 355.1h0M399.8 434.8h0M399.8 432.0h0M399.8 420.3h0M399.8 396.5h0M399.8 381.1h0M399.8 376.3h0M399.8 367.1h0M407.7 443.6h0M407.7 432.5h0M407.7 423.6h0M407.7 420.5h0M407.7 417.5h0M407.7 411.9h0M407.7 388.1h0M407.7 373.5h0M407.7 363.5h0M415.6 428.9h0M415.6 418.9h0M415.6 416.1h0M415.6 403.5h0M415.6 386.7h0M415.6 357.3h0M423.6 440.8h0M423.6 438.2h0M423.6 424.8h0M423.6 422.1h0M423.6 416.1h0M423.6 411.9h0M423.6 407.7h0M423.6 403.5h0M423.6 400.7h0M423.6 381.1h0M423.6 378.3h0M423.6 366.5h0M431.5 428.8h0M431.5 424.5h0M431.5 421.7h0M431.5 411.9h0M431.5 403.5h0M431.5 400.7h0M431.5 386.7h0M431.5 371.3h0M431.5 368.5h0M439.5 436.5h0M439.5 433.7h0M439.5 425.9h0M439.5 423.1h0M439.5 418.9h0M439.5 416.1h0M439.5 402.1h0M439.5 396.5h0M439.5 392.3h0M439.5 362.3h0M447.4 428.7h0M447.4 424.5h0M447.4 420.3h0M447.4 417.5h0M447.4 411.9h0M447.4 407.7h0M447.4 401.3h0M447.4 385.3h0M447.4 365.1h0M455.3 430.1h0M455.3 427.3h0M455.3 418.9h0M455.3 411.9h0M455.3 406.3h0M455.3 403.5h0M455.3 385.3h0M455.3 375.5h0M455.3 369.9h0M463.3 424.5h0M463.3 420.3h0M463.3 416.1h0M463.3 402.1h0M463.3 399.3h0M463.3 395.1h0M463.3 386.2h0M463.3 369.3h0M471.2 445.0h0M471.2 442.4h0M471.2 430.1h0M471.2 427.3h0M471.2 424.5h0M471.2 420.3h0M471.2 417.5h0M471.2 401.3h0M471.2 388.7h0M471.2 369.1h0M479.1 445.0h0M479.1 432.9h0M479.1 428.7h0M479.1 425.9h0M479.1 423.1h0M479.1 414.2h0M479.1 388.1h0M479.1 381.1h0M487.1 442.7h0M487.1 438.5h0M487.1 434.3h0M487.1 431.5h0M487.1 427.3h0M487.1 423.1h0M487.1 375.5h0M495.0 444.1h0M495.0 439.9h0M495.0 432.9h0M495.0 413.3h0M502.9 444.1h0M502.9 441.3h0M502.9 434.9h0M502.9 420.9h0M510.9 445.5h0M510.9 442.7h0M510.9 438.5h0M510.9 416.1h0M518.8 441.9h0M518.8 435.2h0M526.7 447.5h0M526.7 439.1h0M534.7 449.2h0M534.7 435.7h0M542.6 451.1h0M542.6 447.5h0" stroke="#3583d6" stroke-width="2.10" stroke-linecap="round" fill="none"/>
</svg>
</body></html>
